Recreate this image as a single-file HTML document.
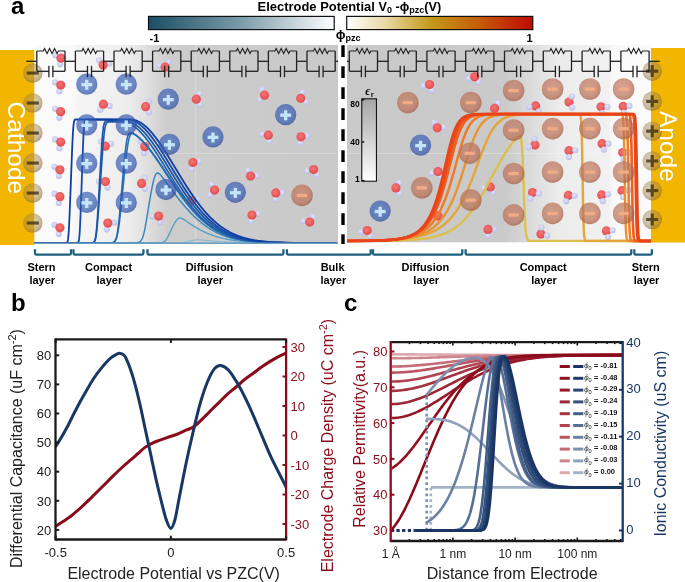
<!DOCTYPE html>
<html><head><meta charset="utf-8"><title>EDL figure</title>
<style>
html,body{margin:0;padding:0;background:#fff;}
svg{display:block;}
.r{font-family:"Liberation Sans",Arial,sans-serif;font-weight:normal;}
.b{font-family:"Liberation Sans",Arial,sans-serif;font-weight:bold;}
.bi{font-family:"Liberation Sans",Arial,sans-serif;font-weight:bold;font-style:italic;}
</style></head>
<body>
<svg width="685" height="582" viewBox="0 0 685 582">

<defs>
<linearGradient id="cbL" x1="0" x2="1" y1="0" y2="0">
  <stop offset="0" stop-color="#1b4e66"/>
  <stop offset="0.5" stop-color="#7b9caa"/>
  <stop offset="1" stop-color="#ffffff"/>
</linearGradient>
<linearGradient id="cbR" x1="0" x2="1" y1="0" y2="0">
  <stop offset="0" stop-color="#ffffff"/>
  <stop offset="0.2" stop-color="#ecd9a8"/>
  <stop offset="0.45" stop-color="#c39b1c"/>
  <stop offset="0.7" stop-color="#c45f08"/>
  <stop offset="1" stop-color="#c00a00"/>
</linearGradient>
<linearGradient id="epsg" x1="0" x2="0" y1="0" y2="1">
  <stop offset="0" stop-color="#a6a6a6"/>
  <stop offset="1" stop-color="#ffffff"/>
</linearGradient>
<linearGradient id="bgL" gradientUnits="userSpaceOnUse" x1="34" x2="338" y1="0" y2="0">
  <stop offset="0" stop-color="#fbfbfb"/>
  <stop offset="0.13" stop-color="#fafafa"/>
  <stop offset="0.145" stop-color="#f4f4f4"/>
  <stop offset="0.30" stop-color="#eeeeee"/>
  <stop offset="0.36" stop-color="#e2e2e2"/>
  <stop offset="0.44" stop-color="#cdcdcd"/>
  <stop offset="1" stop-color="#c9c9c9"/>
</linearGradient>
<linearGradient id="bgR" gradientUnits="userSpaceOnUse" x1="347" x2="651" y1="0" y2="0">
  <stop offset="0" stop-color="#c9c9c9"/>
  <stop offset="0.52" stop-color="#cacaca"/>
  <stop offset="0.62" stop-color="#dedede"/>
  <stop offset="0.70" stop-color="#ececec"/>
  <stop offset="0.862" stop-color="#f1f1f1"/>
  <stop offset="0.875" stop-color="#f9f9f9"/>
  <stop offset="1" stop-color="#fbfbfb"/>
</linearGradient>
<radialGradient id="gBlue" cx="0.45" cy="0.42" r="0.58">
  <stop offset="0" stop-color="#3b63bd" stop-opacity="0.66"/>
  <stop offset="0.7" stop-color="#3459b2" stop-opacity="0.68"/>
  <stop offset="1" stop-color="#2a4a9a" stop-opacity="0.72"/>
</radialGradient>
<radialGradient id="gOr" cx="0.45" cy="0.42" r="0.58">
  <stop offset="0" stop-color="#c47a5e" stop-opacity="0.68"/>
  <stop offset="0.7" stop-color="#bb7055" stop-opacity="0.7"/>
  <stop offset="1" stop-color="#a35f45" stop-opacity="0.75"/>
</radialGradient>
<radialGradient id="gEl" cx="0.45" cy="0.42" r="0.58">
  <stop offset="0" stop-color="#b09060" stop-opacity="0.42"/>
  <stop offset="0.65" stop-color="#a4824a" stop-opacity="0.5"/>
  <stop offset="1" stop-color="#8a6a34" stop-opacity="0.62"/>
</radialGradient>
<radialGradient id="gO" cx="0.45" cy="0.4" r="0.6">
  <stop offset="0" stop-color="#f77676"/>
  <stop offset="1" stop-color="#e24c4c"/>
</radialGradient>
<radialGradient id="gH" cx="0.45" cy="0.4" r="0.6">
  <stop offset="0" stop-color="#e4e6fb"/>
  <stop offset="1" stop-color="#b9bde6"/>
</radialGradient>
</defs>

<rect x="0" y="0" width="685" height="582" fill="#ffffff"/>
<rect x="34" y="45" width="304.5" height="198.3" fill="url(#bgL)"/>
<rect x="347" y="45" width="304" height="197.3" fill="url(#bgR)"/>
<line x1="34" x2="337" y1="153.4" y2="153.4" stroke="#ffffff" stroke-opacity="0.35" stroke-width="0.8"/>
<line x1="347" x2="651" y1="153.4" y2="153.4" stroke="#ffffff" stroke-opacity="0.35" stroke-width="0.8"/>
<line x1="195.7" x2="195.7" y1="45" y2="242.5" stroke="#ffffff" stroke-opacity="0.35" stroke-width="0.8"/>
<rect x="0" y="50" width="34.3" height="195" fill="#f2b600"/>
<rect x="651" y="48" width="34" height="194.5" fill="#f2b600"/>
<circle cx="54.99" cy="82.34" r="3.1" fill="url(#gH)"/><circle cx="59.39" cy="91.16" r="3.1" fill="url(#gH)"/><circle cx="60.7" cy="85" r="4.6" fill="url(#gO)"/>
<circle cx="55.09" cy="108.84" r="3.1" fill="url(#gH)"/><circle cx="59.39" cy="117.86" r="3.1" fill="url(#gH)"/><circle cx="60.7" cy="111.7" r="4.6" fill="url(#gO)"/>
<circle cx="54.99" cy="139.44" r="3.1" fill="url(#gH)"/><circle cx="59.39" cy="148.26" r="3.1" fill="url(#gH)"/><circle cx="60.7" cy="142.1" r="4.6" fill="url(#gO)"/>
<circle cx="54.39" cy="166.75" r="3.1" fill="url(#gH)"/><circle cx="58.81" cy="176" r="3.1" fill="url(#gH)"/><circle cx="59.9" cy="169.8" r="4.6" fill="url(#gO)"/>
<circle cx="54.39" cy="193.65" r="3.1" fill="url(#gH)"/><circle cx="58.81" cy="202.9" r="3.1" fill="url(#gH)"/><circle cx="59.9" cy="196.7" r="4.6" fill="url(#gO)"/>
<circle cx="54.39" cy="224.75" r="3.1" fill="url(#gH)"/><circle cx="58.81" cy="234" r="3.1" fill="url(#gH)"/><circle cx="59.9" cy="227.8" r="4.6" fill="url(#gO)"/>
<circle cx="109.46" cy="105.94" r="3.1" fill="url(#gH)"/><circle cx="100.35" cy="109.71" r="3.1" fill="url(#gH)"/><circle cx="103.4" cy="104.2" r="4.6" fill="url(#gO)"/>
<circle cx="111.14" cy="143.84" r="3.1" fill="url(#gH)"/><circle cx="101" cy="141.59" r="3.1" fill="url(#gH)"/><circle cx="105.3" cy="146.2" r="4.6" fill="url(#gO)"/>
<circle cx="99.1" cy="181.5" r="3.1" fill="url(#gH)"/><circle cx="107.55" cy="187.42" r="3.1" fill="url(#gH)"/><circle cx="105.4" cy="181.5" r="4.6" fill="url(#gO)"/>
<circle cx="114.08" cy="222.66" r="3.1" fill="url(#gH)"/><circle cx="106.71" cy="229.3" r="3.1" fill="url(#gH)"/><circle cx="107.8" cy="223.1" r="4.6" fill="url(#gO)"/>
<circle cx="149.03" cy="101.42" r="3.1" fill="url(#gH)"/><circle cx="148.75" cy="112.16" r="3.1" fill="url(#gH)"/><circle cx="145.6" cy="106.7" r="4.6" fill="url(#gO)"/>
<circle cx="140.75" cy="141.87" r="3.1" fill="url(#gH)"/><circle cx="144.14" cy="152.97" r="3.1" fill="url(#gH)"/><circle cx="144.8" cy="146.7" r="4.6" fill="url(#gO)"/>
<circle cx="144.75" cy="177.94" r="3.1" fill="url(#gH)"/><circle cx="144.84" cy="188.8" r="3.1" fill="url(#gH)"/><circle cx="141.6" cy="183.4" r="4.6" fill="url(#gO)"/>
<circle cx="152.4" cy="216.1" r="3.1" fill="url(#gH)"/><circle cx="160.22" cy="222.21" r="3.1" fill="url(#gH)"/><circle cx="158.7" cy="216.1" r="4.6" fill="url(#gO)"/>
<circle cx="199.45" cy="93.74" r="3.1" fill="url(#gH)"/><circle cx="199.91" cy="104.36" r="3.1" fill="url(#gH)"/><circle cx="196.3" cy="99.2" r="4.6" fill="url(#gO)"/>
<circle cx="199.1" cy="161.41" r="3.1" fill="url(#gH)"/><circle cx="191.81" cy="168.7" r="3.1" fill="url(#gH)"/><circle cx="192.9" cy="162.5" r="4.6" fill="url(#gO)"/>
<circle cx="197.86" cy="199.29" r="3.1" fill="url(#gH)"/><circle cx="189.55" cy="206.52" r="3.1" fill="url(#gH)"/><circle cx="191.7" cy="200.6" r="4.6" fill="url(#gO)"/>
<circle cx="211.64" cy="184.54" r="3.1" fill="url(#gH)"/><circle cx="210.15" cy="194.55" r="3.1" fill="url(#gH)"/><circle cx="214.6" cy="190.1" r="4.6" fill="url(#gO)"/>
<circle cx="262.12" cy="134" r="3.1" fill="url(#gH)"/><circle cx="269.5" cy="141.38" r="3.1" fill="url(#gH)"/><circle cx="268.3" cy="135.2" r="4.6" fill="url(#gO)"/>
<circle cx="307.24" cy="135.92" r="3.1" fill="url(#gH)"/><circle cx="300.23" cy="143.05" r="3.1" fill="url(#gH)"/><circle cx="301" cy="136.8" r="4.6" fill="url(#gO)"/>
<circle cx="248.14" cy="170.3" r="3.1" fill="url(#gH)"/><circle cx="256.88" cy="175.55" r="3.1" fill="url(#gH)"/><circle cx="250.6" cy="176.1" r="4.6" fill="url(#gO)"/>
<circle cx="307.46" cy="170.92" r="3.1" fill="url(#gH)"/><circle cx="316.94" cy="174.84" r="3.1" fill="url(#gH)"/><circle cx="313.6" cy="169.5" r="4.6" fill="url(#gO)"/>
<circle cx="282.1" cy="192.9" r="3.1" fill="url(#gH)"/><circle cx="275.8" cy="199.2" r="3.1" fill="url(#gH)"/><circle cx="275.8" cy="192.9" r="4.6" fill="url(#gO)"/>
<circle cx="258.2" cy="213.91" r="3.1" fill="url(#gH)"/><circle cx="251.34" cy="221.27" r="3.1" fill="url(#gH)"/><circle cx="252" cy="215" r="4.6" fill="url(#gO)"/>
<circle cx="303.52" cy="220.9" r="3.1" fill="url(#gH)"/><circle cx="313.22" cy="216.88" r="3.1" fill="url(#gH)"/><circle cx="309.7" cy="222.1" r="4.6" fill="url(#gO)"/>
<circle cx="261.74" cy="89.54" r="3.1" fill="url(#gH)"/><circle cx="260.05" cy="99.65" r="3.1" fill="url(#gH)"/><circle cx="264.5" cy="95.2" r="4.6" fill="url(#gO)"/>
<circle cx="302.22" cy="92.19" r="3.1" fill="url(#gH)"/><circle cx="305.92" cy="101.82" r="3.1" fill="url(#gH)"/><circle cx="300.7" cy="98.3" r="4.6" fill="url(#gO)"/>
<circle cx="423.42" cy="85.7" r="3.1" fill="url(#gH)"/><circle cx="431.86" cy="90.38" r="3.1" fill="url(#gH)"/><circle cx="429.6" cy="84.5" r="4.6" fill="url(#gO)"/>
<circle cx="468.68" cy="78.64" r="3.1" fill="url(#gH)"/><circle cx="478.4" cy="81.9" r="3.1" fill="url(#gH)"/><circle cx="474.7" cy="76.8" r="4.6" fill="url(#gO)"/>
<circle cx="498.03" cy="103.12" r="3.1" fill="url(#gH)"/><circle cx="498.12" cy="113.62" r="3.1" fill="url(#gH)"/><circle cx="494.6" cy="108.4" r="4.6" fill="url(#gO)"/>
<circle cx="434.06" cy="122.4" r="3.1" fill="url(#gH)"/><circle cx="443.58" cy="127.25" r="3.1" fill="url(#gH)"/><circle cx="437.3" cy="127.8" r="4.6" fill="url(#gO)"/>
<circle cx="431.86" cy="172.92" r="3.1" fill="url(#gH)"/><circle cx="440.96" cy="177.06" r="3.1" fill="url(#gH)"/><circle cx="438" cy="171.5" r="4.6" fill="url(#gO)"/>
<circle cx="399.24" cy="182.56" r="3.1" fill="url(#gH)"/><circle cx="399.24" cy="193.24" r="3.1" fill="url(#gH)"/><circle cx="395.9" cy="187.9" r="4.6" fill="url(#gO)"/>
<circle cx="431.73" cy="216.56" r="3.1" fill="url(#gH)"/><circle cx="439.74" cy="209.84" r="3.1" fill="url(#gH)"/><circle cx="438" cy="215.9" r="4.6" fill="url(#gO)"/>
<circle cx="361.04" cy="231.91" r="3.1" fill="url(#gH)"/><circle cx="370.25" cy="236.11" r="3.1" fill="url(#gH)"/><circle cx="367.2" cy="230.6" r="4.6" fill="url(#gO)"/>
<circle cx="484.08" cy="187.89" r="3.1" fill="url(#gH)"/><circle cx="493.35" cy="192.41" r="3.1" fill="url(#gH)"/><circle cx="490.3" cy="186.9" r="4.6" fill="url(#gO)"/>
<circle cx="494.3" cy="229.4" r="3.1" fill="url(#gH)"/><circle cx="488" cy="235.7" r="3.1" fill="url(#gH)"/><circle cx="488" cy="229.4" r="4.6" fill="url(#gO)"/>
<circle cx="535.6" cy="105.9" r="4.6" fill="url(#gO)"/><circle cx="529.38" cy="106.89" r="3.1" fill="url(#gH)"/><circle cx="538.94" cy="111.24" r="3.1" fill="url(#gH)"/>
<circle cx="569" cy="102.1" r="4.6" fill="url(#gO)"/><circle cx="571.86" cy="96.49" r="3.1" fill="url(#gH)"/><circle cx="572.15" cy="107.56" r="3.1" fill="url(#gH)"/>
<circle cx="601" cy="106.8" r="4.6" fill="url(#gO)"/><circle cx="607.3" cy="106.8" r="3.1" fill="url(#gH)"/><circle cx="602.09" cy="113" r="3.1" fill="url(#gH)"/>
<circle cx="623.2" cy="106.4" r="4.6" fill="url(#gO)"/><circle cx="629.48" cy="105.96" r="3.1" fill="url(#gH)"/><circle cx="623.86" cy="112.67" r="3.1" fill="url(#gH)"/>
<circle cx="534.9" cy="144.9" r="4.6" fill="url(#gO)"/><circle cx="534.35" cy="138.62" r="3.1" fill="url(#gH)"/><circle cx="528.98" cy="147.05" r="3.1" fill="url(#gH)"/>
<circle cx="569" cy="150.7" r="4.6" fill="url(#gO)"/><circle cx="575.28" cy="150.26" r="3.1" fill="url(#gH)"/><circle cx="569" cy="157" r="3.1" fill="url(#gH)"/>
<circle cx="602.1" cy="143.7" r="4.6" fill="url(#gO)"/><circle cx="608.4" cy="143.7" r="3.1" fill="url(#gH)"/><circle cx="603.94" cy="149.72" r="3.1" fill="url(#gH)"/>
<circle cx="622.7" cy="152.6" r="4.6" fill="url(#gO)"/><circle cx="629" cy="152.6" r="3.1" fill="url(#gH)"/><circle cx="623.47" cy="158.85" r="3.1" fill="url(#gH)"/>
<circle cx="532.5" cy="192.6" r="4.6" fill="url(#gO)"/><circle cx="538.74" cy="193.48" r="3.1" fill="url(#gH)"/><circle cx="530.14" cy="198.44" r="3.1" fill="url(#gH)"/>
<circle cx="568.3" cy="195.4" r="4.6" fill="url(#gO)"/><circle cx="574.59" cy="195.73" r="3.1" fill="url(#gH)"/><circle cx="566.15" cy="201.32" r="3.1" fill="url(#gH)"/>
<circle cx="601.7" cy="194.9" r="4.6" fill="url(#gO)"/><circle cx="607.97" cy="194.24" r="3.1" fill="url(#gH)"/><circle cx="602.79" cy="201.1" r="3.1" fill="url(#gH)"/>
<circle cx="622" cy="190.7" r="4.6" fill="url(#gO)"/><circle cx="628.28" cy="190.15" r="3.1" fill="url(#gH)"/><circle cx="623.09" cy="196.9" r="3.1" fill="url(#gH)"/>
<circle cx="540.9" cy="233.9" r="4.6" fill="url(#gO)"/><circle cx="541.45" cy="227.62" r="3.1" fill="url(#gH)"/><circle cx="546.99" cy="235.53" r="3.1" fill="url(#gH)"/>
<circle cx="606.4" cy="230.9" r="4.6" fill="url(#gO)"/><circle cx="612.68" cy="230.35" r="3.1" fill="url(#gH)"/><circle cx="608.03" cy="236.99" r="3.1" fill="url(#gH)"/>
<circle cx="55.39" cy="55.24" r="3.1" fill="url(#gH)"/><circle cx="60.12" cy="64.34" r="3.1" fill="url(#gH)"/><circle cx="61" cy="58.1" r="4.6" fill="url(#gO)"/>
<circle cx="99.05" cy="60.27" r="3.1" fill="url(#gH)"/><circle cx="109.21" cy="63.58" r="3.1" fill="url(#gH)"/><circle cx="103.1" cy="65.1" r="4.6" fill="url(#gO)"/>
<circle cx="159.11" cy="65.57" r="3.1" fill="url(#gH)"/><circle cx="168.63" cy="61.92" r="3.1" fill="url(#gH)"/><circle cx="165.2" cy="67.2" r="4.6" fill="url(#gO)"/>
<path d="M34,243 L180.5,242.84 L182.5,242.69 L184,242.5 L185,242.33 L186,242.13 L187,241.89 L188,241.63 L189,241.36 L190,241.08 L191,240.81 L192,240.56 L193,240.33 L194,240.14 L195,239.99 L197,239.82 L201.5,239.97 L203.5,240.17 L205,240.33 L206.5,240.49 L208,240.64 L209.5,240.79 L211.5,240.99 L213.5,241.17 L215.5,241.34 L217.5,241.49 L220,241.67 L222.5,241.83 L225.5,242 L229,242.17 L233,242.34 L237.5,242.49 L243.5,242.65 L252.5,242.8 L272.5,242.95 L337,243" fill="none" stroke="#8fbcd4" stroke-width="1.3" stroke-linejoin="round"/>
<path d="M34,243 L160,242.83 L161.5,242.63 L162.5,242.38 L163,242.2 L163.5,241.97 L164,241.69 L164.5,241.35 L165,240.93 L165.5,240.43 L166,239.84 L166.5,239.16 L167,238.4 L167.5,237.55 L168,236.63 L168.5,235.64 L169,234.61 L169.5,233.55 L170,232.46 L170.5,231.37 L171,230.27 L171.5,229.18 L172,228.12 L172.5,227.07 L173,226.05 L173.5,225.07 L174,224.13 L174.5,223.24 L175,222.39 L175.5,221.6 L176,220.87 L176.5,220.22 L177,219.64 L177.5,219.14 L178,218.73 L178.5,218.41 L179,218.19 L180,218 L181,218.12 L181.5,218.28 L182,218.48 L182.5,218.72 L183,218.99 L183.5,219.29 L184,219.6 L184.5,219.93 L185,220.27 L185.5,220.61 L186,220.96 L186.5,221.31 L187,221.66 L187.5,222.01 L188,222.35 L188.5,222.7 L189,223.04 L189.5,223.39 L190,223.72 L190.5,224.06 L191,224.39 L191.5,224.72 L192,225.05 L192.5,225.37 L193,225.69 L193.5,226 L194,226.31 L194.5,226.62 L195,226.92 L195.5,227.23 L196,227.52 L196.5,227.81 L197,228.1 L197.5,228.39 L198,228.67 L198.5,228.95 L199,229.22 L199.5,229.49 L200,229.76 L200.5,230.02 L201,230.28 L201.5,230.54 L202,230.79 L202.5,231.04 L203,231.28 L203.5,231.53 L204,231.76 L204.5,232 L205,232.23 L205.5,232.46 L206,232.68 L206.5,232.9 L207,233.12 L207.5,233.33 L208,233.54 L208.5,233.74 L209,233.95 L209.5,234.15 L210,234.34 L210.5,234.54 L211,234.73 L211.5,234.91 L212,235.09 L212.5,235.27 L213,235.45 L213.5,235.62 L214,235.79 L214.5,235.96 L215,236.13 L215.5,236.29 L216,236.45 L216.5,236.6 L217,236.75 L218,237.05 L219,237.33 L220,237.61 L221,237.87 L222,238.12 L223,238.37 L224,238.6 L225,238.82 L226,239.04 L227,239.24 L228,239.44 L229,239.62 L230,239.8 L231,239.97 L232,240.14 L233,240.29 L234.5,240.51 L236,240.72 L237.5,240.91 L239,241.08 L240.5,241.25 L242,241.4 L244,241.58 L246,241.75 L248.5,241.93 L251,242.09 L254,242.25 L257.5,242.41 L262,242.57 L268,242.72 L278.5,242.87 L337,243" fill="none" stroke="#57a0c8" stroke-width="1.4" stroke-linejoin="round"/>
<path d="M34,243 L136.5,242.84 L138,242.6 L138.5,242.46 L139,242.27 L139.5,242.02 L140,241.69 L140.5,241.25 L141,240.68 L141.5,239.94 L142,239.01 L142.5,237.85 L143,236.44 L143.5,234.76 L144,232.82 L144.5,230.62 L145,228.2 L145.5,225.58 L146,222.8 L146.5,219.9 L147,216.92 L147.5,213.89 L148,210.83 L148.5,207.77 L149,204.73 L149.5,201.72 L150,198.76 L150.5,195.87 L151,193.06 L151.5,190.35 L152,187.75 L152.5,185.29 L153,183 L153.5,180.89 L154,179.01 L154.5,177.36 L155,175.98 L155.5,174.87 L156,174.04 L156.5,173.46 L157,173.13 L158,173.05 L158.5,173.25 L159,173.57 L159.5,173.97 L160,174.45 L160.5,174.98 L161,175.55 L161.5,176.15 L162,176.78 L162.5,177.42 L163,178.07 L163.5,178.73 L164,179.4 L164.5,180.07 L165,180.75 L165.5,181.42 L166,182.1 L166.5,182.78 L167,183.47 L167.5,184.15 L168,184.83 L168.5,185.51 L169,186.19 L169.5,186.87 L170,187.54 L170.5,188.22 L171,188.89 L171.5,189.57 L172,190.24 L172.5,190.91 L173,191.57 L173.5,192.24 L174,192.9 L174.5,193.56 L175,194.21 L175.5,194.87 L176,195.52 L176.5,196.17 L177,196.81 L177.5,197.45 L178,198.09 L178.5,198.72 L179,199.35 L179.5,199.98 L180,200.6 L180.5,201.22 L181,201.84 L181.5,202.45 L182,203.06 L182.5,203.66 L183,204.26 L183.5,204.85 L184,205.44 L184.5,206.02 L185,206.6 L185.5,207.18 L186,207.75 L186.5,208.31 L187,208.88 L187.5,209.43 L188,209.98 L188.5,210.53 L189,211.07 L189.5,211.6 L190,212.13 L190.5,212.66 L191,213.18 L191.5,213.69 L192,214.2 L192.5,214.7 L193,215.2 L193.5,215.7 L194,216.18 L194.5,216.66 L195,217.14 L195.5,217.61 L196,218.08 L196.5,218.54 L197,218.99 L197.5,219.44 L198,219.88 L198.5,220.32 L199,220.75 L199.5,221.18 L200,221.6 L200.5,222.01 L201,222.42 L201.5,222.83 L202,223.23 L202.5,223.62 L203,224.01 L203.5,224.39 L204,224.77 L204.5,225.14 L205,225.5 L205.5,225.86 L206,226.22 L206.5,226.57 L207,226.91 L207.5,227.25 L208,227.59 L208.5,227.91 L209,228.24 L209.5,228.56 L210,228.87 L210.5,229.18 L211,229.48 L211.5,229.78 L212,230.07 L212.5,230.36 L213,230.64 L213.5,230.92 L214,231.19 L214.5,231.46 L215,231.72 L215.5,231.98 L216,232.24 L216.5,232.49 L217,232.73 L217.5,232.97 L218,233.21 L218.5,233.44 L219,233.67 L219.5,233.89 L220,234.11 L220.5,234.33 L221,234.54 L221.5,234.75 L222,234.95 L222.5,235.15 L223,235.34 L223.5,235.53 L224,235.72 L224.5,235.9 L225,236.08 L225.5,236.26 L226,236.43 L226.5,236.6 L227,236.76 L227.5,236.92 L228,237.08 L228.5,237.23 L229,237.39 L230,237.68 L231,237.96 L232,238.22 L233,238.48 L234,238.72 L235,238.96 L236,239.18 L237,239.39 L238,239.59 L239,239.78 L240,239.96 L241,240.14 L242,240.3 L243,240.46 L244.5,240.68 L246,240.88 L247.5,241.07 L249,241.24 L250.5,241.4 L252.5,241.6 L254.5,241.77 L256.5,241.92 L259,242.09 L262,242.26 L265.5,242.42 L270,242.58 L276,242.73 L286.5,242.88 L337,243" fill="none" stroke="#3a88ba" stroke-width="1.5" stroke-linejoin="round"/>
<path d="M34,243 L111.5,242.84 L112.5,242.67 L113,242.52 L113.5,242.32 L114,242.04 L114.5,241.65 L115,241.11 L115.5,240.36 L116,239.36 L116.5,238.04 L117,236.33 L117.5,234.18 L118,231.57 L118.5,228.49 L119,224.97 L119.5,221.05 L120,216.8 L120.5,212.29 L121,207.58 L121.5,202.72 L122,197.76 L122.5,192.74 L123,187.69 L123.5,182.64 L124,177.62 L124.5,172.67 L125,167.81 L125.5,163.09 L126,158.56 L126.5,154.28 L127,150.31 L127.5,146.71 L128,143.55 L128.5,140.87 L129,138.67 L129.5,136.94 L130,135.64 L130.5,134.71 L131,134.09 L131.5,133.72 L132,133.54 L133,133.57 L133.5,133.73 L134,133.95 L134.5,134.21 L135,134.52 L135.5,134.85 L136,135.21 L136.5,135.59 L137,135.98 L137.5,136.4 L138,136.82 L138.5,137.26 L139,137.72 L139.5,138.18 L140,138.66 L140.5,139.14 L141,139.64 L141.5,140.15 L142,140.67 L142.5,141.2 L143,141.74 L143.5,142.29 L144,142.84 L144.5,143.41 L145,143.99 L145.5,144.57 L146,145.16 L146.5,145.76 L147,146.37 L147.5,146.99 L148,147.62 L148.5,148.25 L149,148.89 L149.5,149.53 L150,150.19 L150.5,150.85 L151,151.51 L151.5,152.19 L152,152.87 L152.5,153.55 L153,154.24 L153.5,154.94 L154,155.64 L154.5,156.35 L155,157.06 L155.5,157.77 L156,158.49 L156.5,159.22 L157,159.95 L157.5,160.68 L158,161.41 L158.5,162.15 L159,162.89 L159.5,163.64 L160,164.38 L160.5,165.13 L161,165.89 L161.5,166.64 L162,167.4 L162.5,168.15 L163,168.91 L163.5,169.67 L164,170.43 L164.5,171.2 L165,171.96 L165.5,172.72 L166,173.49 L166.5,174.25 L167,175.01 L167.5,175.78 L168,176.54 L168.5,177.3 L169,178.06 L169.5,178.82 L170,179.58 L170.5,180.34 L171,181.1 L171.5,181.85 L172,182.61 L172.5,183.36 L173,184.11 L173.5,184.85 L174,185.6 L174.5,186.34 L175,187.08 L175.5,187.81 L176,188.54 L176.5,189.27 L177,190 L177.5,190.72 L178,191.44 L178.5,192.16 L179,192.87 L179.5,193.58 L180,194.28 L180.5,194.98 L181,195.68 L181.5,196.37 L182,197.05 L182.5,197.74 L183,198.41 L183.5,199.09 L184,199.75 L184.5,200.42 L185,201.07 L185.5,201.73 L186,202.37 L186.5,203.02 L187,203.65 L187.5,204.28 L188,204.91 L188.5,205.53 L189,206.14 L189.5,206.75 L190,207.36 L190.5,207.95 L191,208.55 L191.5,209.13 L192,209.71 L192.5,210.29 L193,210.85 L193.5,211.42 L194,211.97 L194.5,212.52 L195,213.07 L195.5,213.6 L196,214.14 L196.5,214.66 L197,215.18 L197.5,215.69 L198,216.2 L198.5,216.7 L199,217.2 L199.5,217.68 L200,218.17 L200.5,218.64 L201,219.11 L201.5,219.57 L202,220.03 L202.5,220.48 L203,220.93 L203.5,221.37 L204,221.8 L204.5,222.23 L205,222.65 L205.5,223.06 L206,223.47 L206.5,223.87 L207,224.27 L207.5,224.66 L208,225.04 L208.5,225.42 L209,225.79 L209.5,226.16 L210,226.52 L210.5,226.88 L211,227.23 L211.5,227.57 L212,227.91 L212.5,228.24 L213,228.57 L213.5,228.89 L214,229.2 L214.5,229.52 L215,229.82 L215.5,230.12 L216,230.41 L216.5,230.7 L217,230.99 L217.5,231.27 L218,231.54 L218.5,231.81 L219,232.07 L219.5,232.33 L220,232.59 L220.5,232.84 L221,233.08 L221.5,233.32 L222,233.56 L222.5,233.79 L223,234.01 L223.5,234.23 L224,234.45 L224.5,234.66 L225,234.87 L225.5,235.08 L226,235.28 L226.5,235.47 L227,235.66 L227.5,235.85 L228,236.04 L228.5,236.22 L229,236.39 L229.5,236.56 L230,236.73 L230.5,236.9 L231,237.06 L231.5,237.22 L232,237.37 L232.5,237.52 L233.5,237.81 L234.5,238.09 L235.5,238.36 L236.5,238.61 L237.5,238.85 L238.5,239.08 L239.5,239.3 L240.5,239.51 L241.5,239.71 L242.5,239.9 L243.5,240.08 L244.5,240.25 L245.5,240.41 L246.5,240.56 L248,240.78 L249.5,240.98 L251,241.16 L252.5,241.33 L254,241.48 L256,241.67 L258,241.83 L260.5,242.02 L263,242.17 L266,242.33 L270,242.5 L275,242.65 L282.5,242.8 L300.5,242.96 L337,243" fill="none" stroke="#2a74b3" stroke-width="1.6" stroke-linejoin="round"/>
<path d="M34,243 L111.5,242.85 L112.5,242.68 L113,242.53 L113.5,242.31 L114,242 L114.5,241.55 L115,240.91 L115.5,240.01 L116,238.78 L116.5,237.12 L117,234.95 L117.5,232.2 L118,228.85 L118.5,224.92 L119,220.45 L119.5,215.52 L120,210.24 L120.5,204.68 L121,198.94 L121.5,193.08 L122,187.16 L122.5,181.25 L123,175.39 L123.5,169.64 L124,164.09 L124.5,158.8 L125,153.87 L125.5,149.38 L126,145.44 L126.5,142.08 L127,139.35 L127.5,137.21 L128,135.61 L128.5,134.46 L129,133.69 L129.5,133.2 L130,132.92 L132,133.03 L132.5,133.23 L133,133.46 L133.5,133.72 L134,134 L134.5,134.31 L135,134.63 L135.5,134.97 L136,135.33 L136.5,135.7 L137,136.08 L137.5,136.47 L138,136.88 L138.5,137.29 L139,137.72 L139.5,138.17 L140,138.62 L140.5,139.08 L141,139.55 L141.5,140.04 L142,140.53 L142.5,141.04 L143,141.55 L143.5,142.08 L144,142.61 L144.5,143.15 L145,143.71 L145.5,144.27 L146,144.84 L146.5,145.42 L147,146.01 L147.5,146.6 L148,147.21 L148.5,147.82 L149,148.44 L149.5,149.07 L150,149.7 L150.5,150.34 L151,150.99 L151.5,151.64 L152,152.3 L152.5,152.97 L153,153.65 L153.5,154.32 L154,155.01 L154.5,155.7 L155,156.39 L155.5,157.09 L156,157.8 L156.5,158.51 L157,159.22 L157.5,159.94 L158,160.66 L158.5,161.39 L159,162.12 L159.5,162.85 L160,163.58 L160.5,164.32 L161,165.06 L161.5,165.81 L162,166.55 L162.5,167.3 L163,168.05 L163.5,168.8 L164,169.55 L164.5,170.31 L165,171.06 L165.5,171.82 L166,172.57 L166.5,173.33 L167,174.09 L167.5,174.84 L168,175.6 L168.5,176.36 L169,177.11 L169.5,177.87 L170,178.62 L170.5,179.38 L171,180.13 L171.5,180.88 L172,181.63 L172.5,182.38 L173,183.13 L173.5,183.87 L174,184.61 L174.5,185.35 L175,186.09 L175.5,186.83 L176,187.56 L176.5,188.29 L177,189.01 L177.5,189.74 L178,190.46 L178.5,191.17 L179,191.89 L179.5,192.6 L180,193.3 L180.5,194 L181,194.7 L181.5,195.4 L182,196.09 L182.5,196.77 L183,197.45 L183.5,198.13 L184,198.8 L184.5,199.47 L185,200.13 L185.5,200.78 L186,201.44 L186.5,202.08 L187,202.72 L187.5,203.36 L188,203.99 L188.5,204.62 L189,205.24 L189.5,205.85 L190,206.46 L190.5,207.07 L191,207.66 L191.5,208.26 L192,208.84 L192.5,209.42 L193,210 L193.5,210.57 L194,211.13 L194.5,211.69 L195,212.24 L195.5,212.79 L196,213.32 L196.5,213.86 L197,214.38 L197.5,214.91 L198,215.42 L198.5,215.93 L199,216.43 L199.5,216.93 L200,217.42 L200.5,217.9 L201,218.38 L201.5,218.85 L202,219.32 L202.5,219.78 L203,220.23 L203.5,220.68 L204,221.12 L204.5,221.55 L205,221.98 L205.5,222.41 L206,222.82 L206.5,223.23 L207,223.64 L207.5,224.04 L208,224.43 L208.5,224.82 L209,225.2 L209.5,225.57 L210,225.94 L210.5,226.31 L211,226.66 L211.5,227.02 L212,227.36 L212.5,227.7 L213,228.04 L213.5,228.37 L214,228.69 L214.5,229.01 L215,229.32 L215.5,229.63 L216,229.93 L216.5,230.23 L217,230.52 L217.5,230.81 L218,231.09 L218.5,231.37 L219,231.64 L219.5,231.91 L220,232.17 L220.5,232.42 L221,232.68 L221.5,232.92 L222,233.17 L222.5,233.4 L223,233.64 L223.5,233.87 L224,234.09 L224.5,234.31 L225,234.52 L225.5,234.74 L226,234.94 L226.5,235.14 L227,235.34 L227.5,235.54 L228,235.73 L228.5,235.91 L229,236.1 L229.5,236.27 L230,236.45 L230.5,236.62 L231,236.79 L231.5,236.95 L232,237.11 L232.5,237.27 L233,237.42 L234,237.72 L235,238 L236,238.27 L237,238.53 L238,238.77 L239,239 L240,239.23 L241,239.44 L242,239.64 L243,239.83 L244,240.02 L245,240.19 L246,240.35 L247,240.51 L248.5,240.73 L250,240.93 L251.5,241.12 L253,241.29 L254.5,241.45 L256.5,241.64 L258.5,241.8 L260.5,241.95 L263,242.12 L266,242.28 L269.5,242.44 L274,242.6 L280.5,242.75 L292.5,242.91 L337,243" fill="none" stroke="#256bb0" stroke-width="1.6" stroke-linejoin="round"/>
<path d="M34,243 L92.5,242.82 L93,242.7 L93.5,242.47 L94,242.1 L94.5,241.46 L95,240.42 L95.5,238.78 L96,236.33 L96.5,232.9 L97,228.45 L97.5,223.07 L98,216.97 L98.5,210.35 L99,203.4 L99.5,196.24 L100,188.98 L100.5,181.67 L101,174.36 L101.5,167.11 L102,159.99 L102.5,153.09 L103,146.56 L103.5,140.59 L104,135.38 L104.5,131.13 L105,127.9 L105.5,125.63 L106,124.13 L106.5,123.18 L107,122.61 L107.5,122.27 L108,122.07 L109,121.89 L123,122.06 L124.5,122.27 L125.5,122.47 L126.5,122.72 L127,122.87 L127.5,123.03 L128,123.2 L128.5,123.39 L129,123.6 L129.5,123.82 L130,124.05 L130.5,124.3 L131,124.56 L131.5,124.84 L132,125.13 L132.5,125.44 L133,125.76 L133.5,126.09 L134,126.44 L134.5,126.8 L135,127.17 L135.5,127.56 L136,127.96 L136.5,128.38 L137,128.8 L137.5,129.24 L138,129.69 L138.5,130.16 L139,130.63 L139.5,131.12 L140,131.62 L140.5,132.13 L141,132.65 L141.5,133.19 L142,133.73 L142.5,134.28 L143,134.85 L143.5,135.42 L144,136.01 L144.5,136.6 L145,137.21 L145.5,137.82 L146,138.45 L146.5,139.08 L147,139.72 L147.5,140.37 L148,141.03 L148.5,141.69 L149,142.37 L149.5,143.05 L150,143.74 L150.5,144.44 L151,145.14 L151.5,145.85 L152,146.57 L152.5,147.29 L153,148.02 L153.5,148.76 L154,149.5 L154.5,150.24 L155,151 L155.5,151.75 L156,152.52 L156.5,153.28 L157,154.05 L157.5,154.83 L158,155.61 L158.5,156.39 L159,157.18 L159.5,157.97 L160,158.76 L160.5,159.55 L161,160.35 L161.5,161.15 L162,161.95 L162.5,162.76 L163,163.56 L163.5,164.37 L164,165.18 L164.5,165.99 L165,166.8 L165.5,167.61 L166,168.42 L166.5,169.24 L167,170.05 L167.5,170.86 L168,171.67 L168.5,172.48 L169,173.29 L169.5,174.1 L170,174.91 L170.5,175.72 L171,176.52 L171.5,177.33 L172,178.13 L172.5,178.93 L173,179.73 L173.5,180.53 L174,181.32 L174.5,182.11 L175,182.9 L175.5,183.68 L176,184.46 L176.5,185.24 L177,186.02 L177.5,186.79 L178,187.56 L178.5,188.32 L179,189.08 L179.5,189.84 L180,190.59 L180.5,191.34 L181,192.08 L181.5,192.82 L182,193.55 L182.5,194.28 L183,195.01 L183.5,195.73 L184,196.44 L184.5,197.15 L185,197.85 L185.5,198.55 L186,199.24 L186.5,199.93 L187,200.61 L187.5,201.29 L188,201.96 L188.5,202.62 L189,203.28 L189.5,203.93 L190,204.58 L190.5,205.22 L191,205.86 L191.5,206.48 L192,207.11 L192.5,207.72 L193,208.33 L193.5,208.93 L194,209.53 L194.5,210.12 L195,210.7 L195.5,211.28 L196,211.85 L196.5,212.42 L197,212.97 L197.5,213.52 L198,214.07 L198.5,214.61 L199,215.14 L199.5,215.66 L200,216.18 L200.5,216.69 L201,217.2 L201.5,217.69 L202,218.19 L202.5,218.67 L203,219.15 L203.5,219.62 L204,220.09 L204.5,220.54 L205,221 L205.5,221.44 L206,221.88 L206.5,222.32 L207,222.74 L207.5,223.16 L208,223.58 L208.5,223.98 L209,224.38 L209.5,224.78 L210,225.17 L210.5,225.55 L211,225.93 L211.5,226.3 L212,226.66 L212.5,227.02 L213,227.37 L213.5,227.72 L214,228.06 L214.5,228.4 L215,228.72 L215.5,229.05 L216,229.37 L216.5,229.68 L217,229.98 L217.5,230.29 L218,230.58 L218.5,230.87 L219,231.16 L219.5,231.44 L220,231.71 L220.5,231.98 L221,232.24 L221.5,232.5 L222,232.76 L222.5,233.01 L223,233.25 L223.5,233.49 L224,233.72 L224.5,233.95 L225,234.18 L225.5,234.4 L226,234.62 L226.5,234.83 L227,235.04 L227.5,235.24 L228,235.44 L228.5,235.63 L229,235.82 L229.5,236.01 L230,236.19 L230.5,236.37 L231,236.55 L231.5,236.72 L232,236.88 L232.5,237.05 L233,237.21 L233.5,237.36 L234,237.51 L235,237.81 L236,238.09 L237,238.36 L238,238.61 L239,238.86 L240,239.09 L241,239.31 L242,239.52 L243,239.72 L244,239.91 L245,240.09 L246,240.26 L247,240.42 L248,240.58 L249.5,240.79 L251,240.99 L252.5,241.18 L254,241.34 L255.5,241.5 L257.5,241.68 L259.5,241.85 L262,242.03 L264.5,242.18 L267.5,242.34 L271.5,242.5 L276.5,242.66 L284,242.81 L302.5,242.96 L337,243" fill="none" stroke="#1f5fad" stroke-width="1.6" stroke-linejoin="round"/>
<path d="M34,243 L93,242.74 L93.5,242.52 L94,242.11 L94.5,241.38 L95,240.11 L95.5,237.99 L96,234.72 L96.5,230.09 L97,224.13 L97.5,217.07 L98,209.24 L98.5,200.93 L99,192.35 L99.5,183.65 L100,174.92 L100.5,166.28 L101,157.84 L101.5,149.79 L102,142.38 L102.5,135.94 L103,130.76 L103.5,126.96 L104,124.42 L104.5,122.85 L105,121.93 L105.5,121.42 L106,121.13 L106.5,120.98 L108,120.83 L125,121 L126.5,121.18 L127.5,121.35 L128.5,121.57 L129.5,121.85 L130,122.01 L130.5,122.18 L131,122.37 L131.5,122.57 L132,122.79 L132.5,123.02 L133,123.27 L133.5,123.53 L134,123.81 L134.5,124.1 L135,124.41 L135.5,124.73 L136,125.06 L136.5,125.41 L137,125.77 L137.5,126.14 L138,126.53 L138.5,126.93 L139,127.35 L139.5,127.78 L140,128.22 L140.5,128.67 L141,129.13 L141.5,129.61 L142,130.1 L142.5,130.6 L143,131.11 L143.5,131.64 L144,132.17 L144.5,132.72 L145,133.28 L145.5,133.84 L146,134.42 L146.5,135.01 L147,135.61 L147.5,136.21 L148,136.83 L148.5,137.46 L149,138.09 L149.5,138.74 L150,139.39 L150.5,140.05 L151,140.72 L151.5,141.4 L152,142.09 L152.5,142.78 L153,143.48 L153.5,144.19 L154,144.91 L154.5,145.63 L155,146.36 L155.5,147.09 L156,147.83 L156.5,148.58 L157,149.33 L157.5,150.09 L158,150.85 L158.5,151.62 L159,152.39 L159.5,153.16 L160,153.94 L160.5,154.73 L161,155.52 L161.5,156.31 L162,157.11 L162.5,157.9 L163,158.7 L163.5,159.51 L164,160.32 L164.5,161.12 L165,161.93 L165.5,162.75 L166,163.56 L166.5,164.38 L167,165.19 L167.5,166.01 L168,166.83 L168.5,167.65 L169,168.46 L169.5,169.28 L170,170.1 L170.5,170.92 L171,171.74 L171.5,172.56 L172,173.37 L172.5,174.19 L173,175 L173.5,175.81 L174,176.63 L174.5,177.44 L175,178.24 L175.5,179.05 L176,179.85 L176.5,180.65 L177,181.45 L177.5,182.24 L178,183.04 L178.5,183.82 L179,184.61 L179.5,185.39 L180,186.17 L180.5,186.95 L181,187.72 L181.5,188.49 L182,189.25 L182.5,190.01 L183,190.76 L183.5,191.51 L184,192.26 L184.5,193 L185,193.74 L185.5,194.47 L186,195.19 L186.5,195.91 L187,196.63 L187.5,197.34 L188,198.05 L188.5,198.74 L189,199.44 L189.5,200.13 L190,200.81 L190.5,201.49 L191,202.16 L191.5,202.82 L192,203.48 L192.5,204.14 L193,204.78 L193.5,205.42 L194,206.06 L194.5,206.69 L195,207.31 L195.5,207.92 L196,208.53 L196.5,209.13 L197,209.73 L197.5,210.32 L198,210.9 L198.5,211.48 L199,212.05 L199.5,212.61 L200,213.17 L200.5,213.72 L201,214.26 L201.5,214.8 L202,215.33 L202.5,215.85 L203,216.37 L203.5,216.88 L204,217.39 L204.5,217.88 L205,218.37 L205.5,218.86 L206,219.33 L206.5,219.8 L207,220.27 L207.5,220.73 L208,221.18 L208.5,221.62 L209,222.06 L209.5,222.49 L210,222.91 L210.5,223.33 L211,223.75 L211.5,224.15 L212,224.55 L212.5,224.94 L213,225.33 L213.5,225.71 L214,226.09 L214.5,226.45 L215,226.82 L215.5,227.17 L216,227.52 L216.5,227.87 L217,228.21 L217.5,228.54 L218,228.87 L218.5,229.19 L219,229.51 L219.5,229.82 L220,230.12 L220.5,230.42 L221,230.71 L221.5,231 L222,231.28 L222.5,231.56 L223,231.83 L223.5,232.1 L224,232.36 L224.5,232.62 L225,232.87 L225.5,233.12 L226,233.36 L226.5,233.6 L227,233.83 L227.5,234.06 L228,234.29 L228.5,234.5 L229,234.72 L229.5,234.93 L230,235.13 L230.5,235.34 L231,235.53 L231.5,235.73 L232,235.91 L232.5,236.1 L233,236.28 L233.5,236.46 L234,236.63 L234.5,236.8 L235,236.96 L235.5,237.13 L236,237.28 L236.5,237.44 L237,237.59 L238,237.88 L239,238.16 L240,238.43 L241,238.68 L242,238.92 L243,239.15 L244,239.37 L245,239.57 L246,239.77 L247,239.96 L248,240.14 L249,240.31 L250,240.47 L251,240.62 L252.5,240.83 L254,241.03 L255.5,241.21 L257,241.37 L258.5,241.52 L260.5,241.71 L262.5,241.87 L265,242.05 L267.5,242.2 L270.5,242.35 L274.5,242.52 L279.5,242.67 L287.5,242.82 L309,242.97 L337,243" fill="none" stroke="#1a55aa" stroke-width="1.7" stroke-linejoin="round"/>
<path d="M34,243 L77.5,242.82 L78,242.51 L78.5,241.69 L79,239.68 L79.5,235.27 L80,227.37 L80.5,216.13 L81,202.79 L81.5,188.48 L82,173.92 L82.5,159.61 L83,146.27 L83.5,135.03 L84,127.13 L84.5,122.72 L85,120.71 L85.5,119.89 L86,119.58 L87,119.43 L127.5,119.6 L129,119.77 L130,119.94 L131,120.16 L132,120.43 L132.5,120.59 L133,120.76 L133.5,120.95 L134,121.15 L134.5,121.37 L135,121.6 L135.5,121.85 L136,122.11 L136.5,122.39 L137,122.68 L137.5,122.98 L138,123.3 L138.5,123.64 L139,123.99 L139.5,124.35 L140,124.73 L140.5,125.12 L141,125.52 L141.5,125.94 L142,126.37 L142.5,126.81 L143,127.27 L143.5,127.74 L144,128.22 L144.5,128.71 L145,129.21 L145.5,129.73 L146,130.26 L146.5,130.79 L147,131.34 L147.5,131.91 L148,132.48 L148.5,133.06 L149,133.65 L149.5,134.26 L150,134.87 L150.5,135.49 L151,136.12 L151.5,136.76 L152,137.41 L152.5,138.07 L153,138.74 L153.5,139.42 L154,140.1 L154.5,140.79 L155,141.49 L155.5,142.2 L156,142.91 L156.5,143.64 L157,144.37 L157.5,145.1 L158,145.84 L158.5,146.59 L159,147.34 L159.5,148.1 L160,148.87 L160.5,149.64 L161,150.41 L161.5,151.19 L162,151.98 L162.5,152.77 L163,153.56 L163.5,154.36 L164,155.16 L164.5,155.96 L165,156.77 L165.5,157.58 L166,158.39 L166.5,159.2 L167,160.02 L167.5,160.84 L168,161.66 L168.5,162.49 L169,163.31 L169.5,164.14 L170,164.96 L170.5,165.79 L171,166.62 L171.5,167.45 L172,168.27 L172.5,169.1 L173,169.93 L173.5,170.76 L174,171.58 L174.5,172.41 L175,173.23 L175.5,174.06 L176,174.88 L176.5,175.7 L177,176.52 L177.5,177.34 L178,178.15 L178.5,178.96 L179,179.78 L179.5,180.58 L180,181.39 L180.5,182.19 L181,182.99 L181.5,183.78 L182,184.57 L182.5,185.36 L183,186.15 L183.5,186.93 L184,187.71 L184.5,188.48 L185,189.25 L185.5,190.01 L186,190.77 L186.5,191.53 L187,192.28 L187.5,193.02 L188,193.76 L188.5,194.5 L189,195.23 L189.5,195.95 L190,196.67 L190.5,197.39 L191,198.1 L191.5,198.8 L192,199.5 L192.5,200.19 L193,200.87 L193.5,201.55 L194,202.23 L194.5,202.9 L195,203.56 L195.5,204.21 L196,204.86 L196.5,205.51 L197,206.14 L197.5,206.77 L198,207.4 L198.5,208.01 L199,208.63 L199.5,209.23 L200,209.83 L200.5,210.42 L201,211 L201.5,211.58 L202,212.15 L202.5,212.72 L203,213.27 L203.5,213.83 L204,214.37 L204.5,214.91 L205,215.44 L205.5,215.96 L206,216.48 L206.5,216.99 L207,217.49 L207.5,217.99 L208,218.48 L208.5,218.97 L209,219.44 L209.5,219.91 L210,220.38 L210.5,220.84 L211,221.29 L211.5,221.73 L212,222.17 L212.5,222.6 L213,223.02 L213.5,223.44 L214,223.85 L214.5,224.26 L215,224.66 L215.5,225.05 L216,225.44 L216.5,225.82 L217,226.19 L217.5,226.56 L218,226.92 L218.5,227.28 L219,227.63 L219.5,227.97 L220,228.31 L220.5,228.64 L221,228.97 L221.5,229.29 L222,229.6 L222.5,229.91 L223,230.22 L223.5,230.51 L224,230.81 L224.5,231.09 L225,231.38 L225.5,231.65 L226,231.92 L226.5,232.19 L227,232.45 L227.5,232.71 L228,232.96 L228.5,233.2 L229,233.45 L229.5,233.68 L230,233.91 L230.5,234.14 L231,234.36 L231.5,234.58 L232,234.79 L232.5,235 L233,235.21 L233.5,235.41 L234,235.6 L234.5,235.8 L235,235.98 L235.5,236.17 L236,236.35 L236.5,236.52 L237,236.69 L237.5,236.86 L238,237.03 L238.5,237.19 L239,237.34 L239.5,237.5 L240.5,237.79 L241.5,238.08 L242.5,238.35 L243.5,238.6 L244.5,238.85 L245.5,239.08 L246.5,239.3 L247.5,239.51 L248.5,239.72 L249.5,239.91 L250.5,240.09 L251.5,240.26 L252.5,240.42 L253.5,240.58 L255,240.79 L256.5,240.99 L258,241.17 L259.5,241.34 L261,241.5 L263,241.68 L265,241.85 L267.5,242.03 L270,242.18 L273,242.34 L277,242.51 L282,242.66 L289.5,242.81 L308.5,242.96 L337,243" fill="none" stroke="#1449a6" stroke-width="1.8" stroke-linejoin="round"/>
<path d="M34,243 L66.5,242.8 L67,242.46 L67.5,241.59 L68,239.46 L68.5,234.95 L69,227.24 L69.5,216.73 L70,204.55 L70.5,191.63 L71,178.46 L71.5,165.35 L72,152.65 L72.5,141 L73,131.48 L73.5,125.09 L74,121.67 L74.5,120.16 L75,119.56 L75.5,119.33 L132,119.52 L133,119.67 L134,119.87 L135,120.12 L135.5,120.26 L136,120.42 L136.5,120.6 L137,120.79 L137.5,121 L138,121.22 L138.5,121.45 L139,121.7 L139.5,121.97 L140,122.25 L140.5,122.54 L141,122.85 L141.5,123.18 L142,123.51 L142.5,123.87 L143,124.23 L143.5,124.61 L144,125.01 L144.5,125.41 L145,125.83 L145.5,126.27 L146,126.71 L146.5,127.17 L147,127.64 L147.5,128.13 L148,128.62 L148.5,129.13 L149,129.65 L149.5,130.18 L150,130.72 L150.5,131.28 L151,131.84 L151.5,132.41 L152,133 L152.5,133.6 L153,134.2 L153.5,134.82 L154,135.44 L154.5,136.08 L155,136.72 L155.5,137.37 L156,138.04 L156.5,138.71 L157,139.38 L157.5,140.07 L158,140.77 L158.5,141.47 L159,142.18 L159.5,142.9 L160,143.62 L160.5,144.35 L161,145.09 L161.5,145.83 L162,146.58 L162.5,147.34 L163,148.1 L163.5,148.87 L164,149.64 L164.5,150.42 L165,151.2 L165.5,151.99 L166,152.78 L166.5,153.57 L167,154.37 L167.5,155.18 L168,155.98 L168.5,156.79 L169,157.6 L169.5,158.42 L170,159.23 L170.5,160.05 L171,160.87 L171.5,161.7 L172,162.52 L172.5,163.35 L173,164.17 L173.5,165 L174,165.83 L174.5,166.66 L175,167.49 L175.5,168.32 L176,169.15 L176.5,169.98 L177,170.81 L177.5,171.63 L178,172.46 L178.5,173.29 L179,174.11 L179.5,174.94 L180,175.76 L180.5,176.58 L181,177.39 L181.5,178.21 L182,179.02 L182.5,179.83 L183,180.64 L183.5,181.45 L184,182.25 L184.5,183.05 L185,183.85 L185.5,184.64 L186,185.43 L186.5,186.21 L187,186.99 L187.5,187.77 L188,188.54 L188.5,189.31 L189,190.08 L189.5,190.84 L190,191.59 L190.5,192.34 L191,193.09 L191.5,193.83 L192,194.57 L192.5,195.3 L193,196.02 L193.5,196.74 L194,197.46 L194.5,198.17 L195,198.87 L195.5,199.57 L196,200.26 L196.5,200.94 L197,201.62 L197.5,202.3 L198,202.96 L198.5,203.63 L199,204.28 L199.5,204.93 L200,205.57 L200.5,206.21 L201,206.84 L201.5,207.46 L202,208.08 L202.5,208.69 L203,209.3 L203.5,209.89 L204,210.48 L204.5,211.07 L205,211.64 L205.5,212.22 L206,212.78 L206.5,213.34 L207,213.89 L207.5,214.43 L208,214.97 L208.5,215.5 L209,216.02 L209.5,216.54 L210,217.05 L210.5,217.55 L211,218.05 L211.5,218.54 L212,219.02 L212.5,219.5 L213,219.97 L213.5,220.43 L214,220.89 L214.5,221.34 L215,221.78 L215.5,222.22 L216,222.65 L216.5,223.08 L217,223.49 L217.5,223.9 L218,224.31 L218.5,224.71 L219,225.1 L219.5,225.49 L220,225.86 L220.5,226.24 L221,226.61 L221.5,226.97 L222,227.32 L222.5,227.67 L223,228.01 L223.5,228.35 L224,228.68 L224.5,229.01 L225,229.33 L225.5,229.64 L226,229.95 L226.5,230.25 L227,230.55 L227.5,230.84 L228,231.13 L228.5,231.41 L229,231.69 L229.5,231.96 L230,232.22 L230.5,232.49 L231,232.74 L231.5,232.99 L232,233.24 L232.5,233.48 L233,233.71 L233.5,233.94 L234,234.17 L234.5,234.39 L235,234.61 L235.5,234.82 L236,235.03 L236.5,235.24 L237,235.44 L237.5,235.63 L238,235.82 L238.5,236.01 L239,236.19 L239.5,236.37 L240,236.55 L240.5,236.72 L241,236.89 L241.5,237.05 L242,237.21 L242.5,237.37 L243,237.52 L244,237.81 L245,238.1 L246,238.37 L247,238.62 L248,238.87 L249,239.1 L250,239.32 L251,239.53 L252,239.73 L253,239.92 L254,240.1 L255,240.27 L256,240.43 L257,240.59 L258.5,240.8 L260,241 L261.5,241.18 L263,241.35 L264.5,241.51 L266.5,241.69 L268.5,241.85 L271,242.03 L273.5,242.19 L276.5,242.34 L280.5,242.51 L285.5,242.66 L293.5,242.82 L314.5,242.97 L337,243" fill="none" stroke="#0f3fa2" stroke-width="1.8" stroke-linejoin="round"/>
<line x1="34" x2="338.5" y1="243.2" y2="243.2" stroke="#6a9cc0" stroke-width="1.4"/>
<path d="M347,240.97 L380,240.82 L390.5,240.67 L397,240.51 L402,240.35 L406,240.17 L409,240.02 L411.5,239.86 L414,239.68 L416,239.52 L418,239.34 L419.5,239.19 L421,239.02 L422.5,238.84 L424,238.65 L425.5,238.44 L426.5,238.28 L427.5,238.12 L428.5,237.95 L429.5,237.77 L430.5,237.58 L431.5,237.38 L432.5,237.17 L433.5,236.94 L434.5,236.71 L435.5,236.46 L436.5,236.19 L437.5,235.91 L438.5,235.62 L439,235.46 L439.5,235.31 L440,235.14 L440.5,234.98 L441,234.81 L441.5,234.63 L442,234.45 L442.5,234.26 L443,234.07 L443.5,233.88 L444,233.68 L444.5,233.47 L445,233.26 L445.5,233.05 L446,232.82 L446.5,232.6 L447,232.36 L447.5,232.12 L448,231.88 L448.5,231.62 L449,231.37 L449.5,231.1 L450,230.83 L450.5,230.55 L451,230.26 L451.5,229.97 L452,229.67 L452.5,229.37 L453,229.05 L453.5,228.73 L454,228.4 L454.5,228.06 L455,227.71 L455.5,227.36 L456,227 L456.5,226.63 L457,226.25 L457.5,225.86 L458,225.46 L458.5,225.06 L459,224.64 L459.5,224.22 L460,223.79 L460.5,223.35 L461,222.89 L461.5,222.43 L462,221.96 L462.5,221.48 L463,220.99 L463.5,220.49 L464,219.98 L464.5,219.46 L465,218.93 L465.5,218.38 L466,217.83 L466.5,217.27 L467,216.7 L467.5,216.11 L468,215.52 L468.5,214.92 L469,214.3 L469.5,213.68 L470,213.04 L470.5,212.39 L471,211.74 L471.5,211.07 L472,210.39 L472.5,209.7 L473,209 L473.5,208.29 L474,207.57 L474.5,206.84 L475,206.11 L475.5,205.36 L476,204.6 L476.5,203.83 L477,203.05 L477.5,202.26 L478,201.47 L478.5,200.66 L479,199.85 L479.5,199.03 L480,198.19 L480.5,197.36 L481,196.51 L481.5,195.66 L482,194.79 L482.5,193.93 L483,193.05 L483.5,192.17 L484,191.28 L484.5,190.39 L485,189.49 L485.5,188.59 L486,187.68 L486.5,186.77 L487,185.86 L487.5,184.94 L488,184.01 L488.5,183.09 L489,182.16 L489.5,181.23 L490,180.3 L490.5,179.37 L491,178.43 L491.5,177.5 L492,176.57 L492.5,175.63 L493,174.7 L493.5,173.77 L494,172.84 L494.5,171.91 L495,170.99 L495.5,170.06 L496,169.14 L496.5,168.23 L497,167.32 L497.5,166.41 L498,165.51 L498.5,164.61 L499,163.72 L499.5,162.83 L500,161.95 L500.5,161.07 L501,160.21 L501.5,159.34 L502,158.49 L502.5,157.64 L503,156.81 L503.5,155.97 L504,155.15 L504.5,154.34 L505,153.53 L505.5,152.74 L506,151.95 L506.5,151.17 L507,150.4 L507.5,149.64 L508,148.89 L508.5,148.16 L509,147.43 L509.5,146.71 L510,146 L510.5,145.3 L511,144.61 L511.5,143.93 L512,143.26 L512.5,142.61 L513,141.96 L513.5,141.33 L514,140.7 L514.5,140.09 L515,139.49 L515.5,138.9 L516,138.33 L516.5,137.77 L517,137.24 L517.5,136.73 L518,136.28 L518.5,135.91 L519,135.66 L519.5,135.62 L520,135.93 L520.5,136.84 L521,138.73 L521.5,142.15 L522,147.85 L522.5,156.54 L523,168.46 L523.5,182.83 L524,197.77 L524.5,211.13 L525,221.57 L525.5,228.92 L526,233.71 L526.5,236.68 L527,238.47 L527.5,239.53 L528,240.15 L528.5,240.51 L529,240.72 L530,240.91 L651,241" fill="none" stroke="#dcbf4e" stroke-width="2.4" stroke-linejoin="round"/>
<path d="M347,240.87 L363,240.72 L371.5,240.56 L377.5,240.41 L382.5,240.24 L386.5,240.08 L390,239.9 L393,239.72 L395.5,239.55 L397.5,239.4 L399.5,239.23 L401.5,239.05 L403,238.9 L404.5,238.73 L406,238.55 L407.5,238.36 L409,238.16 L410.5,237.94 L411.5,237.78 L412.5,237.62 L413.5,237.44 L414.5,237.26 L415.5,237.07 L416.5,236.87 L417.5,236.65 L418.5,236.43 L419.5,236.2 L420.5,235.95 L421.5,235.69 L422.5,235.42 L423.5,235.13 L424,234.99 L424.5,234.83 L425,234.68 L425.5,234.52 L426,234.35 L426.5,234.19 L427,234.01 L427.5,233.84 L428,233.66 L428.5,233.47 L429,233.28 L429.5,233.08 L430,232.88 L430.5,232.68 L431,232.47 L431.5,232.25 L432,232.03 L432.5,231.81 L433,231.57 L433.5,231.33 L434,231.09 L434.5,230.84 L435,230.58 L435.5,230.32 L436,230.05 L436.5,229.77 L437,229.49 L437.5,229.2 L438,228.9 L438.5,228.6 L439,228.28 L439.5,227.96 L440,227.63 L440.5,227.3 L441,226.95 L441.5,226.6 L442,226.23 L442.5,225.86 L443,225.48 L443.5,225.09 L444,224.69 L444.5,224.28 L445,223.86 L445.5,223.43 L446,222.99 L446.5,222.53 L447,222.07 L447.5,221.6 L448,221.11 L448.5,220.61 L449,220.1 L449.5,219.58 L450,219.04 L450.5,218.49 L451,217.93 L451.5,217.35 L452,216.77 L452.5,216.16 L453,215.54 L453.5,214.91 L454,214.27 L454.5,213.6 L455,212.92 L455.5,212.23 L456,211.52 L456.5,210.8 L457,210.05 L457.5,209.29 L458,208.52 L458.5,207.72 L459,206.91 L459.5,206.08 L460,205.23 L460.5,204.37 L461,203.48 L461.5,202.58 L462,201.66 L462.5,200.72 L463,199.76 L463.5,198.78 L464,197.78 L464.5,196.77 L465,195.73 L465.5,194.68 L466,193.6 L466.5,192.51 L467,191.39 L467.5,190.26 L468,189.11 L468.5,187.95 L469,186.76 L469.5,185.56 L470,184.34 L470.5,183.1 L471,181.85 L471.5,180.58 L472,179.3 L472.5,178 L473,176.7 L473.5,175.38 L474,174.04 L474.5,172.7 L475,171.35 L475.5,170 L476,168.63 L476.5,167.27 L477,165.9 L477.5,164.52 L478,163.15 L478.5,161.78 L479,160.4 L479.5,159.04 L480,157.68 L480.5,156.33 L481,154.98 L481.5,153.65 L482,152.33 L482.5,151.02 L483,149.73 L483.5,148.46 L484,147.2 L484.5,145.97 L485,144.75 L485.5,143.56 L486,142.39 L486.5,141.25 L487,140.13 L487.5,139.04 L488,137.98 L488.5,136.94 L489,135.94 L489.5,134.96 L490,134.01 L490.5,133.1 L491,132.21 L491.5,131.35 L492,130.52 L492.5,129.73 L493,128.96 L493.5,128.22 L494,127.51 L494.5,126.83 L495,126.17 L495.5,125.55 L496,124.95 L496.5,124.38 L497,123.83 L497.5,123.31 L498,122.81 L498.5,122.34 L499,121.88 L499.5,121.45 L500,121.04 L500.5,120.66 L501,120.29 L501.5,119.94 L502,119.6 L502.5,119.29 L503,118.99 L503.5,118.71 L504,118.44 L504.5,118.19 L505,117.95 L505.5,117.72 L506,117.5 L506.5,117.3 L507,117.11 L507.5,116.93 L508,116.76 L508.5,116.6 L509,116.44 L510,116.17 L511,115.92 L512,115.7 L513,115.5 L514,115.33 L515,115.18 L516.5,114.98 L518,114.81 L520,114.63 L522.5,114.46 L526,114.3 L532,114.14 L579,114.1 L579.5,114.26 L580,114.7 L580.5,115.88 L581,118.97 L581.5,126.67 L582,143.4 L582.5,171.17 L583,201.63 L583.5,222.98 L584,233.72 L584.5,238.22 L585,239.96 L585.5,240.62 L586,240.86 L651,241" fill="none" stroke="#e2a63c" stroke-width="2.4" stroke-linejoin="round"/>
<path d="M347,240.92 L364.5,240.77 L373,240.61 L379,240.45 L383.5,240.28 L387,240.12 L390,239.95 L392.5,239.78 L394.5,239.63 L396.5,239.46 L398.5,239.27 L400,239.11 L401.5,238.93 L403,238.74 L404.5,238.53 L406,238.31 L407,238.14 L408,237.97 L409,237.79 L410,237.59 L411,237.38 L412,237.17 L413,236.93 L414,236.69 L415,236.43 L416,236.15 L417,235.85 L417.5,235.7 L418,235.54 L418.5,235.38 L419,235.21 L419.5,235.04 L420,234.86 L420.5,234.68 L421,234.49 L421.5,234.3 L422,234.1 L422.5,233.89 L423,233.68 L423.5,233.46 L424,233.23 L424.5,233 L425,232.76 L425.5,232.52 L426,232.27 L426.5,232.01 L427,231.74 L427.5,231.46 L428,231.18 L428.5,230.88 L429,230.58 L429.5,230.27 L430,229.95 L430.5,229.62 L431,229.29 L431.5,228.94 L432,228.58 L432.5,228.21 L433,227.83 L433.5,227.44 L434,227.03 L434.5,226.62 L435,226.19 L435.5,225.75 L436,225.3 L436.5,224.83 L437,224.35 L437.5,223.86 L438,223.35 L438.5,222.83 L439,222.29 L439.5,221.74 L440,221.17 L440.5,220.58 L441,219.98 L441.5,219.36 L442,218.72 L442.5,218.06 L443,217.39 L443.5,216.7 L444,215.98 L444.5,215.25 L445,214.5 L445.5,213.72 L446,212.92 L446.5,212.11 L447,211.27 L447.5,210.4 L448,209.52 L448.5,208.61 L449,207.68 L449.5,206.72 L450,205.74 L450.5,204.73 L451,203.69 L451.5,202.64 L452,201.55 L452.5,200.44 L453,199.3 L453.5,198.14 L454,196.95 L454.5,195.73 L455,194.49 L455.5,193.22 L456,191.92 L456.5,190.6 L457,189.25 L457.5,187.88 L458,186.48 L458.5,185.06 L459,183.61 L459.5,182.14 L460,180.66 L460.5,179.15 L461,177.62 L461.5,176.08 L462,174.52 L462.5,172.94 L463,171.35 L463.5,169.76 L464,168.15 L464.5,166.54 L465,164.93 L465.5,163.31 L466,161.69 L466.5,160.08 L467,158.48 L467.5,156.88 L468,155.3 L468.5,153.73 L469,152.17 L469.5,150.64 L470,149.13 L470.5,147.64 L471,146.18 L471.5,144.75 L472,143.35 L472.5,141.99 L473,140.65 L473.5,139.36 L474,138.1 L474.5,136.88 L475,135.7 L475.5,134.57 L476,133.47 L476.5,132.41 L477,131.4 L477.5,130.43 L478,129.5 L478.5,128.61 L479,127.76 L479.5,126.95 L480,126.17 L480.5,125.44 L481,124.74 L481.5,124.08 L482,123.46 L482.5,122.87 L483,122.31 L483.5,121.78 L484,121.28 L484.5,120.81 L485,120.37 L485.5,119.96 L486,119.57 L486.5,119.2 L487,118.85 L487.5,118.53 L488,118.23 L488.5,117.95 L489,117.68 L489.5,117.43 L490,117.2 L490.5,116.98 L491,116.78 L491.5,116.59 L492,116.41 L492.5,116.24 L493,116.09 L494,115.81 L495,115.57 L496,115.36 L497,115.18 L498,115.02 L499.5,114.82 L501,114.66 L503,114.49 L505.5,114.34 L509.5,114.19 L520.5,114.04 L621.5,114.21 L622,114.57 L622.5,115.54 L623,118.1 L623.5,124.56 L624,139.12 L624.5,164.97 L625,196 L625.5,219.67 L626,232.22 L626.5,237.62 L627,239.74 L627.5,240.53 L628,240.83 L629.5,240.99 L651,241" fill="none" stroke="#eb9332" stroke-width="2.4" stroke-linejoin="round"/>
<path d="M347,240.94 L366,240.78 L374,240.63 L379.5,240.46 L383.5,240.3 L386.5,240.14 L389,239.99 L391.5,239.81 L393.5,239.64 L395.5,239.44 L397,239.28 L398.5,239.1 L400,238.9 L401.5,238.67 L402.5,238.51 L403.5,238.34 L404.5,238.16 L405.5,237.96 L406.5,237.75 L407.5,237.53 L408.5,237.29 L409.5,237.04 L410.5,236.76 L411.5,236.47 L412,236.32 L412.5,236.16 L413,235.99 L413.5,235.82 L414,235.65 L414.5,235.47 L415,235.28 L415.5,235.09 L416,234.89 L416.5,234.68 L417,234.46 L417.5,234.24 L418,234.01 L418.5,233.78 L419,233.53 L419.5,233.28 L420,233.02 L420.5,232.75 L421,232.47 L421.5,232.18 L422,231.88 L422.5,231.57 L423,231.25 L423.5,230.92 L424,230.58 L424.5,230.23 L425,229.87 L425.5,229.49 L426,229.1 L426.5,228.7 L427,228.28 L427.5,227.85 L428,227.41 L428.5,226.95 L429,226.48 L429.5,225.99 L430,225.48 L430.5,224.96 L431,224.42 L431.5,223.86 L432,223.28 L432.5,222.69 L433,222.07 L433.5,221.43 L434,220.78 L434.5,220.1 L435,219.4 L435.5,218.68 L436,217.93 L436.5,217.16 L437,216.36 L437.5,215.54 L438,214.7 L438.5,213.83 L439,212.92 L439.5,212 L440,211.04 L440.5,210.05 L441,209.04 L441.5,207.99 L442,206.91 L442.5,205.8 L443,204.66 L443.5,203.48 L444,202.28 L444.5,201.04 L445,199.76 L445.5,198.45 L446,197.11 L446.5,195.73 L447,194.32 L447.5,192.87 L448,191.39 L448.5,189.88 L449,188.34 L449.5,186.76 L450,185.15 L450.5,183.51 L451,181.85 L451.5,180.16 L452,178.44 L452.5,176.7 L453,174.93 L453.5,173.15 L454,171.35 L454.5,169.54 L455,167.72 L455.5,165.9 L456,164.06 L456.5,162.23 L457,160.4 L457.5,158.58 L458,156.78 L458.5,154.98 L459,153.21 L459.5,151.46 L460,149.73 L460.5,148.04 L461,146.38 L461.5,144.75 L462,143.17 L462.5,141.63 L463,140.13 L463.5,138.68 L464,137.29 L464.5,135.94 L465,134.64 L465.5,133.4 L466,132.21 L466.5,131.07 L467,129.99 L467.5,128.96 L468,127.98 L468.5,127.05 L469,126.17 L469.5,125.35 L470,124.57 L470.5,123.83 L471,123.14 L471.5,122.49 L472,121.88 L472.5,121.32 L473,120.78 L473.5,120.29 L474,119.82 L474.5,119.39 L475,118.99 L475.5,118.62 L476,118.27 L476.5,117.95 L477,117.65 L477.5,117.37 L478,117.11 L478.5,116.87 L479,116.65 L479.5,116.44 L480,116.25 L480.5,116.08 L481,115.92 L482,115.63 L483,115.38 L484,115.18 L485,115 L486,114.85 L487.5,114.66 L489.5,114.47 L492,114.31 L496,114.16 L512,114.01 L625,114.14 L625.5,114.38 L626,115.04 L626.5,116.78 L627,121.28 L627.5,132.02 L628,153.37 L628.5,183.83 L629,211.6 L629.5,228.33 L630,236.03 L630.5,239.12 L631,240.3 L631.5,240.74 L632,240.91 L651,241" fill="none" stroke="#f07b28" stroke-width="2.5" stroke-linejoin="round"/>
<path d="M347,240.95 L366.5,240.8 L374.5,240.64 L379.5,240.48 L383,240.33 L386,240.17 L388.5,240 L390.5,239.84 L392.5,239.66 L394,239.51 L395.5,239.34 L397,239.14 L398.5,238.93 L399.5,238.77 L400.5,238.61 L401.5,238.42 L402.5,238.23 L403.5,238.02 L404.5,237.8 L405.5,237.56 L406.5,237.3 L407.5,237.02 L408,236.87 L408.5,236.72 L409,236.56 L409.5,236.39 L410,236.22 L410.5,236.04 L411,235.86 L411.5,235.67 L412,235.47 L412.5,235.27 L413,235.06 L413.5,234.84 L414,234.61 L414.5,234.37 L415,234.13 L415.5,233.87 L416,233.61 L416.5,233.34 L417,233.05 L417.5,232.76 L418,232.45 L418.5,232.14 L419,231.81 L419.5,231.47 L420,231.12 L420.5,230.75 L421,230.37 L421.5,229.98 L422,229.57 L422.5,229.15 L423,228.71 L423.5,228.26 L424,227.79 L424.5,227.3 L425,226.8 L425.5,226.27 L426,225.73 L426.5,225.17 L427,224.59 L427.5,223.98 L428,223.36 L428.5,222.71 L429,222.04 L429.5,221.34 L430,220.62 L430.5,219.87 L431,219.1 L431.5,218.3 L432,217.47 L432.5,216.61 L433,215.73 L433.5,214.81 L434,213.86 L434.5,212.87 L435,211.86 L435.5,210.81 L436,209.72 L436.5,208.6 L437,207.44 L437.5,206.25 L438,205.02 L438.5,203.74 L439,202.43 L439.5,201.08 L440,199.69 L440.5,198.26 L441,196.79 L441.5,195.27 L442,193.72 L442.5,192.12 L443,190.49 L443.5,188.82 L444,187.11 L444.5,185.36 L445,183.57 L445.5,181.76 L446,179.91 L446.5,178.03 L447,176.12 L447.5,174.19 L448,172.24 L448.5,170.27 L449,168.29 L449.5,166.29 L450,164.3 L450.5,162.3 L451,160.31 L451.5,158.32 L452,156.35 L452.5,154.4 L453,152.47 L453.5,150.57 L454,148.71 L454.5,146.89 L455,145.1 L455.5,143.37 L456,141.68 L456.5,140.05 L457,138.48 L457.5,136.96 L458,135.51 L458.5,134.11 L459,132.79 L459.5,131.52 L460,130.32 L460.5,129.18 L461,128.1 L461.5,127.08 L462,126.13 L462.5,125.23 L463,124.39 L463.5,123.6 L464,122.86 L464.5,122.18 L465,121.54 L465.5,120.94 L466,120.39 L466.5,119.88 L467,119.41 L467.5,118.97 L468,118.56 L468.5,118.19 L469,117.84 L469.5,117.53 L470,117.23 L470.5,116.96 L471,116.72 L471.5,116.49 L472,116.28 L472.5,116.09 L473,115.91 L473.5,115.75 L474.5,115.46 L475.5,115.22 L476.5,115.02 L477.5,114.85 L479,114.65 L480.5,114.5 L482.5,114.35 L486,114.18 L495.5,114.03 L628.5,114.12 L629,114.31 L629.5,114.85 L630,116.28 L630.5,120.02 L631,129.14 L631.5,148.16 L632,177.5 L632.5,206.84 L633,225.86 L633.5,234.98 L634,238.72 L634.5,240.15 L635,240.69 L635.5,240.88 L651,241" fill="none" stroke="#ef5f1e" stroke-width="2.6" stroke-linejoin="round"/>
<path d="M347,240.96 L368,240.81 L376,240.65 L381,240.48 L384.5,240.33 L387.5,240.15 L390,239.97 L392,239.8 L394,239.6 L395.5,239.43 L397,239.24 L398.5,239.02 L399.5,238.86 L400.5,238.69 L401.5,238.51 L402.5,238.31 L403.5,238.09 L404.5,237.86 L405.5,237.61 L406.5,237.34 L407.5,237.05 L408,236.89 L408.5,236.73 L409,236.56 L409.5,236.39 L410,236.21 L410.5,236.02 L411,235.82 L411.5,235.62 L412,235.41 L412.5,235.19 L413,234.96 L413.5,234.73 L414,234.48 L414.5,234.23 L415,233.96 L415.5,233.68 L416,233.4 L416.5,233.1 L417,232.79 L417.5,232.47 L418,232.13 L418.5,231.79 L419,231.43 L419.5,231.05 L420,230.66 L420.5,230.26 L421,229.84 L421.5,229.4 L422,228.95 L422.5,228.48 L423,227.99 L423.5,227.48 L424,226.95 L424.5,226.4 L425,225.83 L425.5,225.24 L426,224.63 L426.5,223.99 L427,223.33 L427.5,222.64 L428,221.93 L428.5,221.18 L429,220.42 L429.5,219.62 L430,218.79 L430.5,217.93 L431,217.04 L431.5,216.12 L432,215.16 L432.5,214.16 L433,213.13 L433.5,212.07 L434,210.96 L434.5,209.82 L435,208.64 L435.5,207.41 L436,206.15 L436.5,204.84 L437,203.48 L437.5,202.09 L438,200.65 L438.5,199.16 L439,197.63 L439.5,196.05 L440,194.43 L440.5,192.76 L441,191.05 L441.5,189.29 L442,187.49 L442.5,185.65 L443,183.77 L443.5,181.85 L444,179.89 L444.5,177.9 L445,175.88 L445.5,173.84 L446,171.77 L446.5,169.68 L447,167.58 L447.5,165.47 L448,163.36 L448.5,161.25 L449,159.14 L449.5,157.05 L450,154.98 L450.5,152.94 L451,150.92 L451.5,148.94 L452,147.01 L452.5,145.12 L453,143.29 L453.5,141.51 L454,139.79 L454.5,138.14 L455,136.55 L455.5,135.03 L456,133.59 L456.5,132.21 L457,130.9 L457.5,129.66 L458,128.5 L458.5,127.4 L459,126.37 L459.5,125.41 L460,124.51 L460.5,123.67 L461,122.89 L461.5,122.16 L462,121.49 L462.5,120.86 L463,120.29 L463.5,119.76 L464,119.27 L464.5,118.81 L465,118.4 L465.5,118.02 L466,117.67 L466.5,117.35 L467,117.05 L467.5,116.78 L468,116.54 L468.5,116.31 L469,116.11 L469.5,115.92 L470,115.75 L470.5,115.59 L471.5,115.32 L472.5,115.09 L473.5,114.9 L474.5,114.75 L476,114.56 L478,114.38 L481,114.22 L487.5,114.06 L632,114.09 L632.5,114.26 L633,114.7 L633.5,115.88 L634,118.97 L634.5,126.67 L635,143.4 L635.5,171.17 L636,201.63 L636.5,222.98 L637,233.72 L637.5,238.22 L638,239.96 L638.5,240.62 L639,240.86 L651,241" fill="none" stroke="#ec4e1a" stroke-width="2.6" stroke-linejoin="round"/>
<path d="M347,240.97 L369,240.81 L376.5,240.65 L381,240.5 L384.5,240.34 L387.5,240.16 L390,239.98 L392,239.8 L393.5,239.65 L395,239.48 L396.5,239.28 L398,239.06 L399,238.9 L400,238.73 L401,238.54 L402,238.34 L403,238.11 L404,237.87 L405,237.61 L406,237.33 L406.5,237.18 L407,237.02 L407.5,236.86 L408,236.69 L408.5,236.52 L409,236.34 L409.5,236.14 L410,235.95 L410.5,235.74 L411,235.53 L411.5,235.3 L412,235.07 L412.5,234.83 L413,234.58 L413.5,234.31 L414,234.04 L414.5,233.76 L415,233.46 L415.5,233.16 L416,232.84 L416.5,232.5 L417,232.16 L417.5,231.8 L418,231.42 L418.5,231.03 L419,230.62 L419.5,230.2 L420,229.76 L420.5,229.31 L421,228.83 L421.5,228.33 L422,227.82 L422.5,227.28 L423,226.73 L423.5,226.15 L424,225.54 L424.5,224.91 L425,224.26 L425.5,223.58 L426,222.88 L426.5,222.15 L427,221.38 L427.5,220.59 L428,219.77 L428.5,218.91 L429,218.02 L429.5,217.1 L430,216.14 L430.5,215.14 L431,214.11 L431.5,213.03 L432,211.92 L432.5,210.77 L433,209.57 L433.5,208.33 L434,207.04 L434.5,205.71 L435,204.33 L435.5,202.91 L436,201.44 L436.5,199.92 L437,198.35 L437.5,196.73 L438,195.06 L438.5,193.34 L439,191.57 L439.5,189.76 L440,187.9 L440.5,185.99 L441,184.04 L441.5,182.05 L442,180.02 L442.5,177.95 L443,175.85 L443.5,173.72 L444,171.57 L444.5,169.4 L445,167.21 L445.5,165.02 L446,162.82 L446.5,160.62 L447,158.44 L447.5,156.27 L448,154.13 L448.5,152.01 L449,149.94 L449.5,147.9 L450,145.92 L450.5,143.99 L451,142.12 L451.5,140.31 L452,138.57 L452.5,136.9 L453,135.31 L453.5,133.79 L454,132.35 L454.5,130.98 L455,129.69 L455.5,128.48 L456,127.34 L456.5,126.28 L457,125.28 L457.5,124.36 L458,123.49 L458.5,122.69 L459,121.95 L459.5,121.27 L460,120.64 L460.5,120.06 L461,119.53 L461.5,119.04 L462,118.59 L462.5,118.18 L463,117.8 L463.5,117.45 L464,117.14 L464.5,116.85 L465,116.59 L465.5,116.35 L466,116.13 L466.5,115.94 L467,115.76 L467.5,115.59 L468.5,115.31 L469.5,115.08 L470.5,114.88 L471.5,114.72 L473,114.54 L475,114.36 L478,114.2 L485.5,114.04 L633.5,114.17 L634,114.47 L634.5,115.26 L635,117.38 L635.5,122.78 L636,135.33 L636.5,159 L637,190.03 L637.5,215.88 L638,230.44 L638.5,236.9 L639,239.46 L639.5,240.43 L640,240.79 L641,240.97 L651,241" fill="none" stroke="#e8431b" stroke-width="2.8" stroke-linejoin="round"/>
<circle cx="86.8" cy="84.2" r="10.6" fill="url(#gBlue)"/><rect x="81.4" y="83" width="10.8" height="3.3" fill="#c4e6f9"/><rect x="85.1" y="79.8" width="3.3" height="10" fill="#c4e6f9"/>
<circle cx="126.3" cy="84.2" r="10.6" fill="url(#gBlue)"/><rect x="120.9" y="83" width="10.8" height="3.3" fill="#c4e6f9"/><rect x="124.6" y="79.8" width="3.3" height="10" fill="#c4e6f9"/>
<circle cx="168.3" cy="99.2" r="10.6" fill="url(#gBlue)"/><rect x="162.9" y="98" width="10.8" height="3.3" fill="#c4e6f9"/><rect x="166.6" y="94.8" width="3.3" height="10" fill="#c4e6f9"/>
<circle cx="86.8" cy="124.9" r="10.6" fill="url(#gBlue)"/><rect x="81.4" y="123.7" width="10.8" height="3.3" fill="#c4e6f9"/><rect x="85.1" y="120.5" width="3.3" height="10" fill="#c4e6f9"/>
<circle cx="126.3" cy="124.9" r="10.6" fill="url(#gBlue)"/><rect x="120.9" y="123.7" width="10.8" height="3.3" fill="#c4e6f9"/><rect x="124.6" y="120.5" width="3.3" height="10" fill="#c4e6f9"/>
<circle cx="169.5" cy="144.3" r="10.6" fill="url(#gBlue)"/><rect x="164.1" y="143.1" width="10.8" height="3.3" fill="#c4e6f9"/><rect x="167.8" y="139.9" width="3.3" height="10" fill="#c4e6f9"/>
<circle cx="86.8" cy="163.2" r="10.6" fill="url(#gBlue)"/><rect x="81.4" y="162" width="10.8" height="3.3" fill="#c4e6f9"/><rect x="85.1" y="158.8" width="3.3" height="10" fill="#c4e6f9"/>
<circle cx="126.3" cy="163.2" r="10.6" fill="url(#gBlue)"/><rect x="120.9" y="162" width="10.8" height="3.3" fill="#c4e6f9"/><rect x="124.6" y="158.8" width="3.3" height="10" fill="#c4e6f9"/>
<circle cx="86.8" cy="202.4" r="10.6" fill="url(#gBlue)"/><rect x="81.4" y="201.2" width="10.8" height="3.3" fill="#c4e6f9"/><rect x="85.1" y="198" width="3.3" height="10" fill="#c4e6f9"/>
<circle cx="126.3" cy="202.4" r="10.6" fill="url(#gBlue)"/><rect x="120.9" y="201.2" width="10.8" height="3.3" fill="#c4e6f9"/><rect x="124.6" y="198" width="3.3" height="10" fill="#c4e6f9"/>
<circle cx="166" cy="189.6" r="10.6" fill="url(#gBlue)"/><rect x="160.6" y="188.4" width="10.8" height="3.3" fill="#c4e6f9"/><rect x="164.3" y="185.2" width="3.3" height="10" fill="#c4e6f9"/>
<circle cx="285.7" cy="114.7" r="10.6" fill="url(#gBlue)"/><rect x="280.3" y="113.5" width="10.8" height="3.3" fill="#c4e6f9"/><rect x="284" y="110.3" width="3.3" height="10" fill="#c4e6f9"/>
<circle cx="213" cy="136.9" r="10.6" fill="url(#gBlue)"/><rect x="207.6" y="135.7" width="10.8" height="3.3" fill="#c4e6f9"/><rect x="211.3" y="132.5" width="3.3" height="10" fill="#c4e6f9"/>
<circle cx="235.4" cy="192.3" r="10.6" fill="url(#gBlue)"/><rect x="230" y="191.1" width="10.8" height="3.3" fill="#c4e6f9"/><rect x="233.7" y="187.9" width="3.3" height="10" fill="#c4e6f9"/>
<circle cx="420.6" cy="145.2" r="10.6" fill="url(#gBlue)"/><rect x="415.2" y="144" width="10.8" height="3.3" fill="#c4e6f9"/><rect x="418.9" y="140.8" width="3.3" height="10" fill="#c4e6f9"/>
<circle cx="380.2" cy="211.1" r="10.6" fill="url(#gBlue)"/><rect x="374.8" y="209.9" width="10.8" height="3.3" fill="#c4e6f9"/><rect x="378.5" y="206.7" width="3.3" height="10" fill="#c4e6f9"/>
<circle cx="302" cy="195.4" r="10.8" fill="url(#gOr)"/><rect x="296.8" y="193.9" width="10.3" height="3.2" fill="#f3ab84"/>
<circle cx="407.8" cy="102.6" r="10.8" fill="url(#gOr)"/><rect x="402.6" y="101.1" width="10.3" height="3.2" fill="#f3ab84"/>
<circle cx="470.8" cy="102.6" r="10.8" fill="url(#gOr)"/><rect x="465.6" y="101.1" width="10.3" height="3.2" fill="#f3ab84"/>
<circle cx="421.8" cy="187.8" r="10.8" fill="url(#gOr)"/><rect x="416.6" y="186.3" width="10.3" height="3.2" fill="#f3ab84"/>
<circle cx="469.7" cy="153.2" r="10.8" fill="url(#gOr)"/><rect x="464.5" y="151.7" width="10.3" height="3.2" fill="#f3ab84"/>
<circle cx="470.8" cy="200.1" r="10.8" fill="url(#gOr)"/><rect x="465.6" y="198.6" width="10.3" height="3.2" fill="#f3ab84"/>
<circle cx="513.6" cy="90.5" r="10.8" fill="url(#gOr)"/><rect x="508.4" y="89" width="10.3" height="3.2" fill="#f3ab84"/>
<circle cx="552.6" cy="89" r="10.8" fill="url(#gOr)"/><rect x="547.4" y="87.5" width="10.3" height="3.2" fill="#f3ab84"/>
<circle cx="589.9" cy="89" r="10.8" fill="url(#gOr)"/><rect x="584.7" y="87.5" width="10.3" height="3.2" fill="#f3ab84"/>
<circle cx="623.6" cy="89" r="10.8" fill="url(#gOr)"/><rect x="618.4" y="87.5" width="10.3" height="3.2" fill="#f3ab84"/>
<circle cx="513.6" cy="130.1" r="10.8" fill="url(#gOr)"/><rect x="508.4" y="128.6" width="10.3" height="3.2" fill="#f3ab84"/>
<circle cx="552.6" cy="128.6" r="10.8" fill="url(#gOr)"/><rect x="547.4" y="127.1" width="10.3" height="3.2" fill="#f3ab84"/>
<circle cx="589.9" cy="128.6" r="10.8" fill="url(#gOr)"/><rect x="584.7" y="127.1" width="10.3" height="3.2" fill="#f3ab84"/>
<circle cx="623.6" cy="128.6" r="10.8" fill="url(#gOr)"/><rect x="618.4" y="127.1" width="10.3" height="3.2" fill="#f3ab84"/>
<circle cx="513.6" cy="173.5" r="10.8" fill="url(#gOr)"/><rect x="508.4" y="172" width="10.3" height="3.2" fill="#f3ab84"/>
<circle cx="552.6" cy="172" r="10.8" fill="url(#gOr)"/><rect x="547.4" y="170.5" width="10.3" height="3.2" fill="#f3ab84"/>
<circle cx="589.9" cy="172" r="10.8" fill="url(#gOr)"/><rect x="584.7" y="170.5" width="10.3" height="3.2" fill="#f3ab84"/>
<circle cx="623.6" cy="172" r="10.8" fill="url(#gOr)"/><rect x="618.4" y="170.5" width="10.3" height="3.2" fill="#f3ab84"/>
<circle cx="513.6" cy="214.9" r="10.8" fill="url(#gOr)"/><rect x="508.4" y="213.4" width="10.3" height="3.2" fill="#f3ab84"/>
<circle cx="552.6" cy="213.4" r="10.8" fill="url(#gOr)"/><rect x="547.4" y="211.9" width="10.3" height="3.2" fill="#f3ab84"/>
<circle cx="589.9" cy="213.4" r="10.8" fill="url(#gOr)"/><rect x="584.7" y="211.9" width="10.3" height="3.2" fill="#f3ab84"/>
<circle cx="623.6" cy="213.4" r="10.8" fill="url(#gOr)"/><rect x="618.4" y="211.9" width="10.3" height="3.2" fill="#f3ab84"/>
<circle cx="32.8" cy="73" r="9.8" fill="url(#gEl)"/><rect x="26.8" y="71.5" width="12" height="3.1" fill="#3a2c12" fill-opacity="0.78"/>
<circle cx="32.8" cy="103" r="9.8" fill="url(#gEl)"/><rect x="26.8" y="101.5" width="12" height="3.1" fill="#3a2c12" fill-opacity="0.78"/>
<circle cx="32.8" cy="133" r="9.8" fill="url(#gEl)"/><rect x="26.8" y="131.5" width="12" height="3.1" fill="#3a2c12" fill-opacity="0.78"/>
<circle cx="32.8" cy="163" r="9.8" fill="url(#gEl)"/><rect x="26.8" y="161.5" width="12" height="3.1" fill="#3a2c12" fill-opacity="0.78"/>
<circle cx="32.8" cy="193" r="9.8" fill="url(#gEl)"/><rect x="26.8" y="191.5" width="12" height="3.1" fill="#3a2c12" fill-opacity="0.78"/>
<circle cx="32.8" cy="223" r="9.8" fill="url(#gEl)"/><rect x="26.8" y="221.5" width="12" height="3.1" fill="#3a2c12" fill-opacity="0.78"/>
<circle cx="652.2" cy="71.1" r="9.8" fill="url(#gEl)"/><path d="M646.2,69.5h4.4v-4.4h3.2v4.4h4.4v3.2h-4.4v4.4h-3.2v-4.4h-4.4z" fill="#3a2c12" fill-opacity="0.78"/>
<circle cx="652.2" cy="101.3" r="9.8" fill="url(#gEl)"/><path d="M646.2,99.7h4.4v-4.4h3.2v4.4h4.4v3.2h-4.4v4.4h-3.2v-4.4h-4.4z" fill="#3a2c12" fill-opacity="0.78"/>
<circle cx="652.2" cy="131.2" r="9.8" fill="url(#gEl)"/><path d="M646.2,129.6h4.4v-4.4h3.2v4.4h4.4v3.2h-4.4v4.4h-3.2v-4.4h-4.4z" fill="#3a2c12" fill-opacity="0.78"/>
<circle cx="652.2" cy="161" r="9.8" fill="url(#gEl)"/><path d="M646.2,159.4h4.4v-4.4h3.2v4.4h4.4v3.2h-4.4v4.4h-3.2v-4.4h-4.4z" fill="#3a2c12" fill-opacity="0.78"/>
<circle cx="652.2" cy="190.6" r="9.8" fill="url(#gEl)"/><path d="M646.2,189h4.4v-4.4h3.2v4.4h4.4v3.2h-4.4v4.4h-3.2v-4.4h-4.4z" fill="#3a2c12" fill-opacity="0.78"/>
<circle cx="652.2" cy="219.5" r="9.8" fill="url(#gEl)"/><path d="M646.2,217.9h4.4v-4.4h3.2v4.4h4.4v3.2h-4.4v4.4h-3.2v-4.4h-4.4z" fill="#3a2c12" fill-opacity="0.78"/>
<line x1="26.3" x2="36.8" y1="61.3" y2="61.3" stroke="#222" stroke-width="1.3"/>
<line x1="65" x2="75.4" y1="61.3" y2="61.3" stroke="#222" stroke-width="1.3"/>
<line x1="103.6" x2="114" y1="61.3" y2="61.3" stroke="#222" stroke-width="1.3"/>
<line x1="142.2" x2="152.6" y1="61.3" y2="61.3" stroke="#222" stroke-width="1.3"/>
<line x1="180.8" x2="191.2" y1="61.3" y2="61.3" stroke="#222" stroke-width="1.3"/>
<line x1="219.4" x2="229.8" y1="61.3" y2="61.3" stroke="#222" stroke-width="1.3"/>
<line x1="258" x2="268.4" y1="61.3" y2="61.3" stroke="#222" stroke-width="1.3"/>
<line x1="296.6" x2="307" y1="61.3" y2="61.3" stroke="#222" stroke-width="1.3"/>
<line x1="335.2" x2="349.3" y1="61.3" y2="61.3" stroke="#222" stroke-width="1.3"/>
<line x1="377.5" x2="388.1" y1="61.3" y2="61.3" stroke="#222" stroke-width="1.3"/>
<line x1="416.3" x2="426.9" y1="61.3" y2="61.3" stroke="#222" stroke-width="1.3"/>
<line x1="455.1" x2="465.7" y1="61.3" y2="61.3" stroke="#222" stroke-width="1.3"/>
<line x1="493.9" x2="504.5" y1="61.3" y2="61.3" stroke="#222" stroke-width="1.3"/>
<line x1="532.7" x2="543.3" y1="61.3" y2="61.3" stroke="#222" stroke-width="1.3"/>
<line x1="571.5" x2="582.1" y1="61.3" y2="61.3" stroke="#222" stroke-width="1.3"/>
<line x1="610.3" x2="620.9" y1="61.3" y2="61.3" stroke="#222" stroke-width="1.3"/>
<line x1="649.1" x2="659.7" y1="61.3" y2="61.3" stroke="#222" stroke-width="1.3"/>
<polyline points="36.8,51 43.3,51 44.55,48.4 47.05,53.6 49.55,48.4 52.05,53.6 54.55,48.4 57.05,53.6 58.3,51 65,51" fill="none" stroke="#222" stroke-width="1.1" stroke-linejoin="miter"/>
<line x1="36.8" x2="36.8" y1="51.0" y2="71.3" stroke="#222" stroke-width="1.3"/>
<line x1="65" x2="65" y1="51.0" y2="71.3" stroke="#222" stroke-width="1.3"/>
<line x1="36.8" x2="48.9" y1="71.3" y2="71.3" stroke="#222" stroke-width="1.3"/>
<line x1="52.9" x2="65" y1="71.3" y2="71.3" stroke="#222" stroke-width="1.3"/>
<line x1="48.9" x2="48.9" y1="65.8" y2="77.2" stroke="#222" stroke-width="1.3"/>
<line x1="52.9" x2="52.9" y1="65.8" y2="77.2" stroke="#222" stroke-width="1.3"/>
<polyline points="75.4,51 81.9,51 83.15,48.4 85.65,53.6 88.15,48.4 90.65,53.6 93.15,48.4 95.65,53.6 96.9,51 103.6,51" fill="none" stroke="#222" stroke-width="1.1" stroke-linejoin="miter"/>
<line x1="75.4" x2="75.4" y1="51.0" y2="71.3" stroke="#222" stroke-width="1.3"/>
<line x1="103.6" x2="103.6" y1="51.0" y2="71.3" stroke="#222" stroke-width="1.3"/>
<line x1="75.4" x2="87.5" y1="71.3" y2="71.3" stroke="#222" stroke-width="1.3"/>
<line x1="91.5" x2="103.6" y1="71.3" y2="71.3" stroke="#222" stroke-width="1.3"/>
<line x1="87.5" x2="87.5" y1="65.8" y2="77.2" stroke="#222" stroke-width="1.3"/>
<line x1="91.5" x2="91.5" y1="65.8" y2="77.2" stroke="#222" stroke-width="1.3"/>
<polyline points="114,51 120.5,51 121.75,48.4 124.25,53.6 126.75,48.4 129.25,53.6 131.75,48.4 134.25,53.6 135.5,51 142.2,51" fill="none" stroke="#222" stroke-width="1.1" stroke-linejoin="miter"/>
<line x1="114" x2="114" y1="51.0" y2="71.3" stroke="#222" stroke-width="1.3"/>
<line x1="142.2" x2="142.2" y1="51.0" y2="71.3" stroke="#222" stroke-width="1.3"/>
<line x1="114" x2="126.1" y1="71.3" y2="71.3" stroke="#222" stroke-width="1.3"/>
<line x1="130.1" x2="142.2" y1="71.3" y2="71.3" stroke="#222" stroke-width="1.3"/>
<line x1="126.1" x2="126.1" y1="65.8" y2="77.2" stroke="#222" stroke-width="1.3"/>
<line x1="130.1" x2="130.1" y1="65.8" y2="77.2" stroke="#222" stroke-width="1.3"/>
<polyline points="152.6,51 159.1,51 160.35,48.4 162.85,53.6 165.35,48.4 167.85,53.6 170.35,48.4 172.85,53.6 174.1,51 180.8,51" fill="none" stroke="#222" stroke-width="1.1" stroke-linejoin="miter"/>
<line x1="152.6" x2="152.6" y1="51.0" y2="71.3" stroke="#222" stroke-width="1.3"/>
<line x1="180.8" x2="180.8" y1="51.0" y2="71.3" stroke="#222" stroke-width="1.3"/>
<line x1="152.6" x2="164.7" y1="71.3" y2="71.3" stroke="#222" stroke-width="1.3"/>
<line x1="168.7" x2="180.8" y1="71.3" y2="71.3" stroke="#222" stroke-width="1.3"/>
<line x1="164.7" x2="164.7" y1="65.8" y2="77.2" stroke="#222" stroke-width="1.3"/>
<line x1="168.7" x2="168.7" y1="65.8" y2="77.2" stroke="#222" stroke-width="1.3"/>
<polyline points="191.2,51 197.7,51 198.95,48.4 201.45,53.6 203.95,48.4 206.45,53.6 208.95,48.4 211.45,53.6 212.7,51 219.4,51" fill="none" stroke="#222" stroke-width="1.1" stroke-linejoin="miter"/>
<line x1="191.2" x2="191.2" y1="51.0" y2="71.3" stroke="#222" stroke-width="1.3"/>
<line x1="219.4" x2="219.4" y1="51.0" y2="71.3" stroke="#222" stroke-width="1.3"/>
<line x1="191.2" x2="203.3" y1="71.3" y2="71.3" stroke="#222" stroke-width="1.3"/>
<line x1="207.3" x2="219.4" y1="71.3" y2="71.3" stroke="#222" stroke-width="1.3"/>
<line x1="203.3" x2="203.3" y1="65.8" y2="77.2" stroke="#222" stroke-width="1.3"/>
<line x1="207.3" x2="207.3" y1="65.8" y2="77.2" stroke="#222" stroke-width="1.3"/>
<polyline points="229.8,51 236.3,51 237.55,48.4 240.05,53.6 242.55,48.4 245.05,53.6 247.55,48.4 250.05,53.6 251.3,51 258,51" fill="none" stroke="#222" stroke-width="1.1" stroke-linejoin="miter"/>
<line x1="229.8" x2="229.8" y1="51.0" y2="71.3" stroke="#222" stroke-width="1.3"/>
<line x1="258" x2="258" y1="51.0" y2="71.3" stroke="#222" stroke-width="1.3"/>
<line x1="229.8" x2="241.9" y1="71.3" y2="71.3" stroke="#222" stroke-width="1.3"/>
<line x1="245.9" x2="258" y1="71.3" y2="71.3" stroke="#222" stroke-width="1.3"/>
<line x1="241.9" x2="241.9" y1="65.8" y2="77.2" stroke="#222" stroke-width="1.3"/>
<line x1="245.9" x2="245.9" y1="65.8" y2="77.2" stroke="#222" stroke-width="1.3"/>
<polyline points="268.4,51 274.9,51 276.15,48.4 278.65,53.6 281.15,48.4 283.65,53.6 286.15,48.4 288.65,53.6 289.9,51 296.6,51" fill="none" stroke="#222" stroke-width="1.1" stroke-linejoin="miter"/>
<line x1="268.4" x2="268.4" y1="51.0" y2="71.3" stroke="#222" stroke-width="1.3"/>
<line x1="296.6" x2="296.6" y1="51.0" y2="71.3" stroke="#222" stroke-width="1.3"/>
<line x1="268.4" x2="280.5" y1="71.3" y2="71.3" stroke="#222" stroke-width="1.3"/>
<line x1="284.5" x2="296.6" y1="71.3" y2="71.3" stroke="#222" stroke-width="1.3"/>
<line x1="280.5" x2="280.5" y1="65.8" y2="77.2" stroke="#222" stroke-width="1.3"/>
<line x1="284.5" x2="284.5" y1="65.8" y2="77.2" stroke="#222" stroke-width="1.3"/>
<polyline points="307,51 313.5,51 314.75,48.4 317.25,53.6 319.75,48.4 322.25,53.6 324.75,48.4 327.25,53.6 328.5,51 335.2,51" fill="none" stroke="#222" stroke-width="1.1" stroke-linejoin="miter"/>
<line x1="307" x2="307" y1="51.0" y2="71.3" stroke="#222" stroke-width="1.3"/>
<line x1="335.2" x2="335.2" y1="51.0" y2="71.3" stroke="#222" stroke-width="1.3"/>
<line x1="307" x2="319.1" y1="71.3" y2="71.3" stroke="#222" stroke-width="1.3"/>
<line x1="323.1" x2="335.2" y1="71.3" y2="71.3" stroke="#222" stroke-width="1.3"/>
<line x1="319.1" x2="319.1" y1="65.8" y2="77.2" stroke="#222" stroke-width="1.3"/>
<line x1="323.1" x2="323.1" y1="65.8" y2="77.2" stroke="#222" stroke-width="1.3"/>
<polyline points="349.3,51 355.8,51 357.05,48.4 359.55,53.6 362.05,48.4 364.55,53.6 367.05,48.4 369.55,53.6 370.8,51 377.5,51" fill="none" stroke="#222" stroke-width="1.1" stroke-linejoin="miter"/>
<line x1="349.3" x2="349.3" y1="51.0" y2="71.3" stroke="#222" stroke-width="1.3"/>
<line x1="377.5" x2="377.5" y1="51.0" y2="71.3" stroke="#222" stroke-width="1.3"/>
<line x1="349.3" x2="361.4" y1="71.3" y2="71.3" stroke="#222" stroke-width="1.3"/>
<line x1="365.4" x2="377.5" y1="71.3" y2="71.3" stroke="#222" stroke-width="1.3"/>
<line x1="361.4" x2="361.4" y1="65.8" y2="77.2" stroke="#222" stroke-width="1.3"/>
<line x1="365.4" x2="365.4" y1="65.8" y2="77.2" stroke="#222" stroke-width="1.3"/>
<polyline points="388.1,51 394.6,51 395.85,48.4 398.35,53.6 400.85,48.4 403.35,53.6 405.85,48.4 408.35,53.6 409.6,51 416.3,51" fill="none" stroke="#222" stroke-width="1.1" stroke-linejoin="miter"/>
<line x1="388.1" x2="388.1" y1="51.0" y2="71.3" stroke="#222" stroke-width="1.3"/>
<line x1="416.3" x2="416.3" y1="51.0" y2="71.3" stroke="#222" stroke-width="1.3"/>
<line x1="388.1" x2="400.2" y1="71.3" y2="71.3" stroke="#222" stroke-width="1.3"/>
<line x1="404.2" x2="416.3" y1="71.3" y2="71.3" stroke="#222" stroke-width="1.3"/>
<line x1="400.2" x2="400.2" y1="65.8" y2="77.2" stroke="#222" stroke-width="1.3"/>
<line x1="404.2" x2="404.2" y1="65.8" y2="77.2" stroke="#222" stroke-width="1.3"/>
<polyline points="426.9,51 433.4,51 434.65,48.4 437.15,53.6 439.65,48.4 442.15,53.6 444.65,48.4 447.15,53.6 448.4,51 455.1,51" fill="none" stroke="#222" stroke-width="1.1" stroke-linejoin="miter"/>
<line x1="426.9" x2="426.9" y1="51.0" y2="71.3" stroke="#222" stroke-width="1.3"/>
<line x1="455.1" x2="455.1" y1="51.0" y2="71.3" stroke="#222" stroke-width="1.3"/>
<line x1="426.9" x2="439" y1="71.3" y2="71.3" stroke="#222" stroke-width="1.3"/>
<line x1="443" x2="455.1" y1="71.3" y2="71.3" stroke="#222" stroke-width="1.3"/>
<line x1="439" x2="439" y1="65.8" y2="77.2" stroke="#222" stroke-width="1.3"/>
<line x1="443" x2="443" y1="65.8" y2="77.2" stroke="#222" stroke-width="1.3"/>
<polyline points="465.7,51 472.2,51 473.45,48.4 475.95,53.6 478.45,48.4 480.95,53.6 483.45,48.4 485.95,53.6 487.2,51 493.9,51" fill="none" stroke="#222" stroke-width="1.1" stroke-linejoin="miter"/>
<line x1="465.7" x2="465.7" y1="51.0" y2="71.3" stroke="#222" stroke-width="1.3"/>
<line x1="493.9" x2="493.9" y1="51.0" y2="71.3" stroke="#222" stroke-width="1.3"/>
<line x1="465.7" x2="477.8" y1="71.3" y2="71.3" stroke="#222" stroke-width="1.3"/>
<line x1="481.8" x2="493.9" y1="71.3" y2="71.3" stroke="#222" stroke-width="1.3"/>
<line x1="477.8" x2="477.8" y1="65.8" y2="77.2" stroke="#222" stroke-width="1.3"/>
<line x1="481.8" x2="481.8" y1="65.8" y2="77.2" stroke="#222" stroke-width="1.3"/>
<polyline points="504.5,51 511,51 512.25,48.4 514.75,53.6 517.25,48.4 519.75,53.6 522.25,48.4 524.75,53.6 526,51 532.7,51" fill="none" stroke="#222" stroke-width="1.1" stroke-linejoin="miter"/>
<line x1="504.5" x2="504.5" y1="51.0" y2="71.3" stroke="#222" stroke-width="1.3"/>
<line x1="532.7" x2="532.7" y1="51.0" y2="71.3" stroke="#222" stroke-width="1.3"/>
<line x1="504.5" x2="516.6" y1="71.3" y2="71.3" stroke="#222" stroke-width="1.3"/>
<line x1="520.6" x2="532.7" y1="71.3" y2="71.3" stroke="#222" stroke-width="1.3"/>
<line x1="516.6" x2="516.6" y1="65.8" y2="77.2" stroke="#222" stroke-width="1.3"/>
<line x1="520.6" x2="520.6" y1="65.8" y2="77.2" stroke="#222" stroke-width="1.3"/>
<polyline points="543.3,51 549.8,51 551.05,48.4 553.55,53.6 556.05,48.4 558.55,53.6 561.05,48.4 563.55,53.6 564.8,51 571.5,51" fill="none" stroke="#222" stroke-width="1.1" stroke-linejoin="miter"/>
<line x1="543.3" x2="543.3" y1="51.0" y2="71.3" stroke="#222" stroke-width="1.3"/>
<line x1="571.5" x2="571.5" y1="51.0" y2="71.3" stroke="#222" stroke-width="1.3"/>
<line x1="543.3" x2="555.4" y1="71.3" y2="71.3" stroke="#222" stroke-width="1.3"/>
<line x1="559.4" x2="571.5" y1="71.3" y2="71.3" stroke="#222" stroke-width="1.3"/>
<line x1="555.4" x2="555.4" y1="65.8" y2="77.2" stroke="#222" stroke-width="1.3"/>
<line x1="559.4" x2="559.4" y1="65.8" y2="77.2" stroke="#222" stroke-width="1.3"/>
<polyline points="582.1,51 588.6,51 589.85,48.4 592.35,53.6 594.85,48.4 597.35,53.6 599.85,48.4 602.35,53.6 603.6,51 610.3,51" fill="none" stroke="#222" stroke-width="1.1" stroke-linejoin="miter"/>
<line x1="582.1" x2="582.1" y1="51.0" y2="71.3" stroke="#222" stroke-width="1.3"/>
<line x1="610.3" x2="610.3" y1="51.0" y2="71.3" stroke="#222" stroke-width="1.3"/>
<line x1="582.1" x2="594.2" y1="71.3" y2="71.3" stroke="#222" stroke-width="1.3"/>
<line x1="598.2" x2="610.3" y1="71.3" y2="71.3" stroke="#222" stroke-width="1.3"/>
<line x1="594.2" x2="594.2" y1="65.8" y2="77.2" stroke="#222" stroke-width="1.3"/>
<line x1="598.2" x2="598.2" y1="65.8" y2="77.2" stroke="#222" stroke-width="1.3"/>
<polyline points="620.9,51 627.4,51 628.65,48.4 631.15,53.6 633.65,48.4 636.15,53.6 638.65,48.4 641.15,53.6 642.4,51 649.1,51" fill="none" stroke="#222" stroke-width="1.1" stroke-linejoin="miter"/>
<line x1="620.9" x2="620.9" y1="51.0" y2="71.3" stroke="#222" stroke-width="1.3"/>
<line x1="649.1" x2="649.1" y1="51.0" y2="71.3" stroke="#222" stroke-width="1.3"/>
<line x1="620.9" x2="633" y1="71.3" y2="71.3" stroke="#222" stroke-width="1.3"/>
<line x1="637" x2="649.1" y1="71.3" y2="71.3" stroke="#222" stroke-width="1.3"/>
<line x1="633" x2="633" y1="65.8" y2="77.2" stroke="#222" stroke-width="1.3"/>
<line x1="637" x2="637" y1="65.8" y2="77.2" stroke="#222" stroke-width="1.3"/>
<rect x="338" y="45" width="9" height="199" fill="#ffffff"/>
<line x1="343" x2="343" y1="44.8" y2="244" stroke="#000" stroke-width="3.4" stroke-dasharray="11.7 9.3" stroke-dashoffset="-0.4"/>
<rect x="361.8" y="98.8" width="14.6" height="82.4" fill="url(#epsg)" stroke="#000" stroke-width="1"/>
<line x1="361.8" x2="364.3" y1="99.9" y2="99.9" stroke="#000" stroke-width="1.3"/>
<text x="359.8" y="107.2" text-anchor="end" class="b" font-size="8.5">80</text>
<line x1="361.8" x2="364.3" y1="142.0" y2="142.0" stroke="#000" stroke-width="1.3"/>
<text x="359.8" y="145.4" text-anchor="end" class="b" font-size="8.5">40</text>
<line x1="361.8" x2="364.3" y1="180.6" y2="180.6" stroke="#000" stroke-width="1.3"/>
<text x="359.8" y="181.7" text-anchor="end" class="b" font-size="8.5">1</text>
<text x="365.3" y="94.6" font-family="Liberation Serif" font-style="italic" font-weight="bold" font-size="12" fill="#111">ϵ</text>
<text x="370.8" y="97.2" class="b" font-size="8" fill="#111">r</text>
<text x="11" y="13.5" class="b" font-size="24">a</text>
<text x="257.6" y="11" class="b" font-size="12.7" textLength="117.2" lengthAdjust="spacingAndGlyphs">Electrode Potential</text>
<text x="378.5" y="11" class="b" font-size="12.7">V<tspan font-size="9" dy="2">0</tspan><tspan dy="-2"> -ϕ</tspan><tspan font-size="9" dy="2">pzc</tspan><tspan dy="-2">(V)</tspan></text>
<rect x="148.5" y="16.4" width="185.7" height="13.2" fill="url(#cbL)" stroke="#111" stroke-width="1.2"/>
<rect x="346.7" y="16.4" width="186.1" height="13.2" fill="url(#cbR)" stroke="#111" stroke-width="1.2"/>
<text x="149.5" y="42" class="b" font-size="11">-1</text>
<text x="532.5" y="42" class="b" font-size="11" text-anchor="end">1</text>
<text x="335.8" y="39.3" class="b" font-size="13">ϕ<tspan font-size="9" dy="1.6">pzc</tspan></text>
<path d="M35,249.2 V253.3 Q35,254.6 36.3,254.6 H69.7 Q71,254.6 71,253.3 V249.2" fill="none" stroke="#1e5f80" stroke-width="2.3"/>
<path d="M73.5,249.2 V253.3 Q73.5,254.6 74.8,254.6 H142.1 Q143.4,254.6 143.4,253.3 V249.2" fill="none" stroke="#1e5f80" stroke-width="2.3"/>
<path d="M147.5,249.2 V253.3 Q147.5,254.6 148.8,254.6 H282.1 Q283.4,254.6 283.4,253.3 V249.2" fill="none" stroke="#1e5f80" stroke-width="2.3"/>
<path d="M286.9,249.2 V253.3 Q286.9,254.6 288.2,254.6 H369.4 Q370.7,254.6 370.7,253.3 V249.2" fill="none" stroke="#1e5f80" stroke-width="2.3"/>
<path d="M373,249.2 V253.3 Q373,254.6 374.3,254.6 H461 Q462.3,254.6 462.3,253.3 V249.2" fill="none" stroke="#1e5f80" stroke-width="2.3"/>
<path d="M465.6,249.2 V253.3 Q465.6,254.6 466.9,254.6 H630 Q631.3,254.6 631.3,253.3 V249.2" fill="none" stroke="#1e5f80" stroke-width="2.3"/>
<path d="M634.3,249.2 V253.3 Q634.3,254.6 635.6,254.6 H650.6 Q651.9,254.6 651.9,253.3 V249.2" fill="none" stroke="#1e5f80" stroke-width="2.3"/>
<text x="41.5" y="271.2" class="b" font-size="11" text-anchor="middle">Stern</text>
<text x="42.3" y="283.8" class="b" font-size="11" text-anchor="middle">layer</text>
<text x="108.6" y="271.2" class="b" font-size="11" text-anchor="middle">Compact</text>
<text x="109.39999999999999" y="283.8" class="b" font-size="11" text-anchor="middle">layer</text>
<text x="209.5" y="271.2" class="b" font-size="11" text-anchor="middle">Diffusion</text>
<text x="210.3" y="283.8" class="b" font-size="11" text-anchor="middle">layer</text>
<text x="332.6" y="271.2" class="b" font-size="11" text-anchor="middle">Bulk</text>
<text x="333.40000000000003" y="283.8" class="b" font-size="11" text-anchor="middle">layer</text>
<text x="425.4" y="271.2" class="b" font-size="11" text-anchor="middle">Diffusion</text>
<text x="426.2" y="283.8" class="b" font-size="11" text-anchor="middle">layer</text>
<text x="543.2" y="271.2" class="b" font-size="11" text-anchor="middle">Compact</text>
<text x="544.0" y="283.8" class="b" font-size="11" text-anchor="middle">layer</text>
<text x="645.7" y="271.2" class="b" font-size="11" text-anchor="middle">Stern</text>
<text x="646.5" y="283.8" class="b" font-size="11" text-anchor="middle">layer</text>
<text transform="translate(8,101.6) rotate(90)" class="r" font-size="24.5" fill="#ffffff">Cathode</text>
<text transform="translate(660,111) rotate(90)" class="r" font-size="24.5" fill="#ffffff">Anode</text>
<text x="11" y="311" class="b" font-size="24">b</text>
<clipPath id="clipb"><rect x="55.5" y="339" width="230.6" height="200.5"/></clipPath>
<g clip-path="url(#clipb)"><path d="M55.3,526.6 C56.58,525.75 60.37,523.27 63,521.5 C65.63,519.73 68.02,518.42 71.1,516 C74.18,513.58 77.97,510.22 81.5,507 C85.03,503.78 88.75,500.15 92.3,496.7 C95.85,493.25 99.28,489.82 102.8,486.3 C106.32,482.78 110.2,478.73 113.4,475.6 C116.6,472.47 119.07,470.15 122,467.5 C124.93,464.85 128.33,462.03 131,459.7 C133.67,457.37 135.67,455.55 138,453.5 C140.33,451.45 142.67,449.1 145,447.4 C147.33,445.7 149.63,444.47 152,443.3 C154.37,442.13 156.7,441.35 159.2,440.4 C161.7,439.45 164.37,438.5 167,437.6 C169.63,436.7 172.98,435.72 175,435 C177.02,434.28 177.27,434.1 179.1,433.3 C180.93,432.5 183.45,431.37 186,430.2 C188.55,429.03 191.2,428.63 194.4,426.3 C197.6,423.97 202.27,419.05 205.2,416.2 C208.13,413.35 209.58,411.6 212,409.2 C214.42,406.8 217.12,404.3 219.7,401.8 C222.28,399.3 224.88,396.58 227.5,394.2 C230.12,391.82 232.65,389.87 235.4,387.5 C238.15,385.13 241.07,382.33 244,380 C246.93,377.67 250.08,375.67 253,373.5 C255.92,371.33 258.57,369.07 261.5,367 C264.43,364.93 267.77,362.83 270.6,361.1 C273.43,359.37 275.85,357.95 278.5,356.6 C281.15,355.25 285.17,353.6 286.5,353" fill="none" stroke="#8a0c1c" stroke-width="3"/>
<path d="M55.3,447 C56.25,445.5 58.95,441.45 61,438 C63.05,434.55 65.1,431.05 67.6,426.3 C70.1,421.55 73.07,415.08 76,409.5 C78.93,403.92 82.2,398.05 85.2,392.8 C88.2,387.55 91.07,382.4 94,378 C96.93,373.6 100.13,369.63 102.8,366.4 C105.47,363.17 107.65,360.65 110,358.6 C112.35,356.55 115.17,354.97 116.9,354.1 C118.63,353.23 119.3,353.28 120.4,353.4 C121.5,353.52 122.62,354.1 123.5,354.8 C124.38,355.5 124.62,355.4 125.7,357.6 C126.78,359.8 128.53,363.88 130,368 C131.47,372.12 132.83,376.22 134.5,382.3 C136.17,388.38 138.25,396.88 140,404.5 C141.75,412.12 143.28,420 145,428 C146.72,436 148.53,444.28 150.3,452.5 C152.07,460.72 153.82,469.38 155.6,477.3 C157.38,485.22 159.23,492.95 161,500 C162.77,507.05 164.57,514.87 166.2,519.6 C167.83,524.33 169.33,528.42 170.8,528.4 C172.27,528.38 173.62,524.48 175,519.5 C176.38,514.52 177.25,507.88 179.1,498.5 C180.95,489.12 183.75,474.37 186.1,463.2 C188.45,452.03 190.85,441.47 193.2,431.5 C195.55,421.53 197.85,411.6 200.2,403.4 C202.55,395.2 204.95,388.05 207.3,382.3 C209.65,376.55 212.08,371.72 214.3,368.9 C216.52,366.08 218.25,365.22 220.6,365.4 C222.95,365.58 225.35,366.6 228.4,370 C231.45,373.4 235.38,379.65 238.9,385.8 C242.42,391.95 245.97,399.28 249.5,406.9 C253.03,414.52 256.58,423.28 260.1,431.5 C263.62,439.72 267.38,449.15 270.6,456.2 C273.82,463.25 276.75,468.52 279.4,473.8 C282.05,479.08 285.32,485.55 286.5,487.9" fill="none" stroke="#173765" stroke-width="3"/></g>
<path d="M55.5,339.4 H286.1" stroke="#1a1a1a" stroke-width="2.3" fill="none"/>
<path d="M55.5,539.5 H286.1" stroke="#1a1a1a" stroke-width="2.3" fill="none"/>
<path d="M55.5,338.3 V540.6" stroke="#1a1a1a" stroke-width="2.3" fill="none"/>
<path d="M286.1,338.3 V540.6" stroke="#8a0c1c" stroke-width="2.3" fill="none"/>
<line x1="55.5" x2="59.2" y1="529.9" y2="529.9" stroke="#1a1a1a" stroke-width="2"/>
<text x="51.2" y="534.6" class="r" font-size="13" text-anchor="end" fill="#222">20</text>
<line x1="55.5" x2="59.2" y1="500.8" y2="500.8" stroke="#1a1a1a" stroke-width="2"/>
<text x="51.2" y="505.5" class="r" font-size="13" text-anchor="end" fill="#222">30</text>
<line x1="55.5" x2="59.2" y1="471.7" y2="471.7" stroke="#1a1a1a" stroke-width="2"/>
<text x="51.2" y="476.4" class="r" font-size="13" text-anchor="end" fill="#222">40</text>
<line x1="55.5" x2="59.2" y1="442.6" y2="442.6" stroke="#1a1a1a" stroke-width="2"/>
<text x="51.2" y="447.3" class="r" font-size="13" text-anchor="end" fill="#222">50</text>
<line x1="55.5" x2="59.2" y1="413.5" y2="413.5" stroke="#1a1a1a" stroke-width="2"/>
<text x="51.2" y="418.2" class="r" font-size="13" text-anchor="end" fill="#222">60</text>
<line x1="55.5" x2="59.2" y1="384.4" y2="384.4" stroke="#1a1a1a" stroke-width="2"/>
<text x="51.2" y="389.1" class="r" font-size="13" text-anchor="end" fill="#222">70</text>
<line x1="55.5" x2="59.2" y1="355.3" y2="355.3" stroke="#1a1a1a" stroke-width="2"/>
<text x="51.2" y="360" class="r" font-size="13" text-anchor="end" fill="#222">80</text>
<line x1="282.5" x2="286.1" y1="524" y2="524" stroke="#8a0c1c" stroke-width="2"/>
<text x="290.5" y="528.7" class="r" font-size="13" fill="#8a0c1c">-30</text>
<line x1="282.5" x2="286.1" y1="494.5" y2="494.5" stroke="#8a0c1c" stroke-width="2"/>
<text x="290.5" y="499.2" class="r" font-size="13" fill="#8a0c1c">-20</text>
<line x1="282.5" x2="286.1" y1="465" y2="465" stroke="#8a0c1c" stroke-width="2"/>
<text x="290.5" y="469.7" class="r" font-size="13" fill="#8a0c1c">-10</text>
<line x1="282.5" x2="286.1" y1="435.5" y2="435.5" stroke="#8a0c1c" stroke-width="2"/>
<text x="290.5" y="440.2" class="r" font-size="13" fill="#8a0c1c">0</text>
<line x1="282.5" x2="286.1" y1="406" y2="406" stroke="#8a0c1c" stroke-width="2"/>
<text x="290.5" y="410.7" class="r" font-size="13" fill="#8a0c1c">10</text>
<line x1="282.5" x2="286.1" y1="376.5" y2="376.5" stroke="#8a0c1c" stroke-width="2"/>
<text x="290.5" y="381.2" class="r" font-size="13" fill="#8a0c1c">20</text>
<line x1="282.5" x2="286.1" y1="347" y2="347" stroke="#8a0c1c" stroke-width="2"/>
<text x="290.5" y="351.7" class="r" font-size="13" fill="#8a0c1c">30</text>
<line x1="55.7" x2="55.7" y1="539.5" y2="535.8" stroke="#1a1a1a" stroke-width="2"/>
<line x1="55.7" x2="55.7" y1="339.2" y2="342.9" stroke="#1a1a1a" stroke-width="2"/>
<text x="55.7" y="556.5" class="r" font-size="13" text-anchor="middle" fill="#222">-0.5</text>
<line x1="170.9" x2="170.9" y1="539.5" y2="535.8" stroke="#1a1a1a" stroke-width="2"/>
<line x1="170.9" x2="170.9" y1="339.2" y2="342.9" stroke="#1a1a1a" stroke-width="2"/>
<text x="170.9" y="556.5" class="r" font-size="13" text-anchor="middle" fill="#222">0</text>
<line x1="286.1" x2="286.1" y1="539.5" y2="535.8" stroke="#1a1a1a" stroke-width="2"/>
<line x1="286.1" x2="286.1" y1="339.2" y2="342.9" stroke="#1a1a1a" stroke-width="2"/>
<text x="286.1" y="556.5" class="r" font-size="13" text-anchor="middle" fill="#222">0.5</text>
<text x="67.4" y="578.5" class="r" font-size="16" fill="#222">Electrode Potential vs PZC(V)</text>
<text transform="translate(21.9,568) rotate(-90)" class="r" font-size="16" fill="#222">Differential Capacitance (uF cm<tspan font-size="11" dy="-6">-2</tspan><tspan dy="6">)</tspan></text>
<text transform="translate(333,572.3) rotate(-90)" class="r" font-size="16" fill="#8a0c1c">Electrode Charge Density (uC cm<tspan font-size="11" dy="-6">-2</tspan><tspan dy="6">)</tspan></text>
<text x="344" y="311" class="b" font-size="24">c</text>
<clipPath id="clipc"><rect x="391.7" y="342.5" width="230" height="197.5"/></clipPath>
<g clip-path="url(#clipc)">
<path d="M390.7,354.36 L392.25,354.36 L393.81,354.37 L395.37,354.37 L396.92,354.37 L398.47,354.37 L400.03,354.37 L401.58,354.38 L403.14,354.38 L404.69,354.39 L406.25,354.39 L407.81,354.4 L409.36,354.4 L410.91,354.41 L412.47,354.41 L414.02,354.42 L415.58,354.43 L417.13,354.44 L418.69,354.45 L420.25,354.45 L421.8,354.46 L423.36,354.47 L424.91,354.48 L426.46,354.49 L428.02,354.5 L429.57,354.51 L431.13,354.52 L432.69,354.54 L434.24,354.55 L435.8,354.56 L437.35,354.57 L438.9,354.58 L440.46,354.59 L442.01,354.6 L443.57,354.62 L445.12,354.63 L446.68,354.64 L448.24,354.65 L449.79,354.66 L451.35,354.68 L452.9,354.69 L454.45,354.7 L456.01,354.71 L457.56,354.72 L459.12,354.73 L460.68,354.74 L462.23,354.76 L463.78,354.77 L465.34,354.78 L466.89,354.79 L468.45,354.8 L470,354.81 L471.56,354.82 L473.12,354.83 L474.67,354.84 L476.23,354.85 L477.78,354.86 L479.33,354.87 L480.89,354.88 L482.44,354.89 L484,354.89 L485.56,354.9 L487.11,354.91 L488.67,354.92 L490.22,354.93 L491.77,354.93 L493.33,354.94 L494.88,354.95 L496.44,354.95 L498,354.96 L499.55,354.97 L501.11,354.97 L502.66,354.98 L504.22,354.98 L505.77,354.99 L507.32,354.99 L508.88,355 L510.44,355 L511.99,355.01 L513.54,355.01 L515.1,355.02 L516.65,355.02 L518.21,355.02 L519.76,355.03 L521.32,355.03 L522.88,355.03 L524.43,355.04 L525.99,355.04 L527.54,355.04 L529.1,355.04 L530.65,355.05 L532.2,355.05 L533.76,355.05 L535.32,355.05 L536.87,355.05 L538.42,355.06 L539.98,355.06 L541.54,355.06 L543.09,355.06 L544.64,355.06 L546.2,355.06 L547.75,355.06 L549.31,355.07 L550.87,355.07 L552.42,355.07 L564.86,355.07 L577.3,355.08 L595.96,355.08 L614.62,355.08 L627.06,355.08" fill="none" stroke="#dca8ad" stroke-width="2.6"/>
<path d="M390.7,358.3 L392.25,358.3 L393.81,358.3 L395.37,358.29 L396.92,358.28 L398.47,358.27 L400.03,358.26 L401.58,358.24 L403.14,358.23 L404.69,358.21 L406.25,358.18 L407.81,358.16 L409.36,358.13 L410.91,358.1 L412.47,358.07 L414.02,358.04 L415.58,358.01 L417.13,357.97 L418.69,357.93 L420.25,357.89 L421.8,357.85 L423.36,357.81 L424.91,357.77 L426.46,357.72 L428.02,357.68 L429.57,357.63 L431.13,357.58 L432.69,357.53 L434.24,357.48 L435.8,357.43 L437.35,357.38 L438.9,357.33 L440.46,357.27 L442.01,357.22 L443.57,357.17 L445.12,357.12 L446.68,357.06 L448.24,357.01 L449.79,356.95 L451.35,356.9 L452.9,356.85 L454.45,356.8 L456.01,356.74 L457.56,356.69 L459.12,356.64 L460.68,356.59 L462.23,356.54 L463.78,356.49 L465.34,356.44 L466.89,356.39 L468.45,356.34 L470,356.29 L471.56,356.25 L473.12,356.2 L474.67,356.16 L476.23,356.12 L477.78,356.07 L479.33,356.03 L480.89,355.99 L482.44,355.95 L484,355.92 L485.56,355.88 L487.11,355.84 L488.67,355.81 L490.22,355.77 L491.77,355.74 L493.33,355.71 L494.88,355.68 L496.44,355.65 L498,355.62 L499.55,355.59 L501.11,355.57 L502.66,355.54 L504.22,355.52 L505.77,355.49 L507.32,355.47 L508.88,355.45 L510.44,355.43 L511.99,355.41 L513.54,355.39 L515.1,355.37 L516.65,355.36 L518.21,355.34 L519.76,355.32 L521.32,355.31 L522.88,355.29 L524.43,355.28 L525.99,355.27 L527.54,355.26 L529.1,355.25 L530.65,355.23 L532.2,355.22 L533.76,355.21 L535.32,355.21 L536.87,355.2 L538.42,355.19 L539.98,355.18 L541.54,355.17 L543.09,355.17 L544.64,355.16 L546.2,355.16 L547.75,355.15 L549.31,355.15 L550.87,355.14 L552.42,355.14 L564.86,355.11 L577.3,355.09 L595.96,355.08 L614.62,355.08 L627.06,355.08" fill="none" stroke="#cf878f" stroke-width="2.6"/>
<path d="M390.7,366.54 L392.25,366.53 L393.81,366.52 L395.37,366.5 L396.92,366.47 L398.47,366.43 L400.03,366.39 L401.58,366.34 L403.14,366.28 L404.69,366.21 L406.25,366.14 L407.81,366.05 L409.36,365.96 L410.91,365.87 L412.47,365.76 L414.02,365.65 L415.58,365.54 L417.13,365.42 L418.69,365.29 L420.25,365.15 L421.8,365.01 L423.36,364.87 L424.91,364.72 L426.46,364.57 L428.02,364.41 L429.57,364.25 L431.13,364.08 L432.69,363.92 L434.24,363.74 L435.8,363.57 L437.35,363.39 L438.9,363.21 L440.46,363.03 L442.01,362.85 L443.57,362.67 L445.12,362.48 L446.68,362.3 L448.24,362.11 L449.79,361.93 L451.35,361.74 L452.9,361.56 L454.45,361.37 L456.01,361.19 L457.56,361.01 L459.12,360.83 L460.68,360.65 L462.23,360.47 L463.78,360.3 L465.34,360.12 L466.89,359.95 L468.45,359.78 L470,359.62 L471.56,359.45 L473.12,359.29 L474.67,359.13 L476.23,358.98 L477.78,358.83 L479.33,358.68 L480.89,358.54 L482.44,358.39 L484,358.26 L485.56,358.12 L487.11,357.99 L488.67,357.87 L490.22,357.74 L491.77,357.62 L493.33,357.51 L494.88,357.39 L496.44,357.29 L498,357.18 L499.55,357.08 L501.11,356.98 L502.66,356.89 L504.22,356.8 L505.77,356.71 L507.32,356.62 L508.88,356.54 L510.44,356.47 L511.99,356.39 L513.54,356.32 L515.1,356.25 L516.65,356.19 L518.21,356.12 L519.76,356.06 L521.32,356.01 L522.88,355.95 L524.43,355.9 L525.99,355.85 L527.54,355.81 L529.1,355.76 L530.65,355.72 L532.2,355.68 L533.76,355.64 L535.32,355.61 L536.87,355.57 L538.42,355.54 L539.98,355.51 L541.54,355.48 L543.09,355.45 L544.64,355.43 L546.2,355.4 L547.75,355.38 L549.31,355.36 L550.87,355.34 L552.42,355.32 L564.86,355.21 L577.3,355.15 L595.96,355.1 L614.62,355.09 L627.06,355.08" fill="none" stroke="#c46c77" stroke-width="2.6"/>
<path d="M390.7,372.62 L392.25,372.62 L393.81,372.6 L395.37,372.57 L396.92,372.52 L398.47,372.47 L400.03,372.4 L401.58,372.32 L403.14,372.23 L404.69,372.12 L406.25,372.01 L407.81,371.88 L409.36,371.74 L410.91,371.6 L412.47,371.44 L414.02,371.27 L415.58,371.09 L417.13,370.91 L418.69,370.71 L420.25,370.51 L421.8,370.29 L423.36,370.07 L424.91,369.84 L426.46,369.61 L428.02,369.37 L429.57,369.12 L431.13,368.87 L432.69,368.61 L434.24,368.35 L435.8,368.08 L437.35,367.81 L438.9,367.54 L440.46,367.26 L442.01,366.98 L443.57,366.7 L445.12,366.42 L446.68,366.14 L448.24,365.85 L449.79,365.57 L451.35,365.28 L452.9,365 L454.45,364.72 L456.01,364.44 L457.56,364.16 L459.12,363.88 L460.68,363.61 L462.23,363.33 L463.78,363.07 L465.34,362.8 L466.89,362.54 L468.45,362.28 L470,362.02 L471.56,361.77 L473.12,361.53 L474.67,361.29 L476.23,361.05 L477.78,360.82 L479.33,360.59 L480.89,360.37 L482.44,360.16 L484,359.95 L485.56,359.74 L487.11,359.54 L488.67,359.35 L490.22,359.16 L491.77,358.97 L493.33,358.8 L494.88,358.62 L496.44,358.46 L498,358.3 L499.55,358.14 L501.11,357.99 L502.66,357.85 L504.22,357.71 L505.77,357.57 L507.32,357.44 L508.88,357.32 L510.44,357.2 L511.99,357.09 L513.54,356.98 L515.1,356.87 L516.65,356.77 L518.21,356.68 L519.76,356.59 L521.32,356.5 L522.88,356.42 L524.43,356.34 L525.99,356.26 L527.54,356.19 L529.1,356.12 L530.65,356.06 L532.2,356 L533.76,355.94 L535.32,355.89 L536.87,355.83 L538.42,355.78 L539.98,355.74 L541.54,355.69 L543.09,355.65 L544.64,355.61 L546.2,355.58 L547.75,355.54 L549.31,355.51 L550.87,355.48 L552.42,355.45 L564.86,355.28 L577.3,355.18 L595.96,355.12 L614.62,355.09 L627.06,355.08" fill="none" stroke="#b95662" stroke-width="2.6"/>
<path d="M390.7,381.57 L392.25,381.56 L393.81,381.53 L395.37,381.49 L396.92,381.42 L398.47,381.34 L400.03,381.23 L401.58,381.11 L403.14,380.97 L404.69,380.82 L406.25,380.64 L407.81,380.45 L409.36,380.25 L410.91,380.02 L412.47,379.79 L414.02,379.53 L415.58,379.26 L417.13,378.98 L418.69,378.68 L420.25,378.37 L421.8,378.05 L423.36,377.72 L424.91,377.38 L426.46,377.02 L428.02,376.66 L429.57,376.28 L431.13,375.9 L432.69,375.51 L434.24,375.12 L435.8,374.71 L437.35,374.31 L438.9,373.89 L440.46,373.47 L442.01,373.05 L443.57,372.63 L445.12,372.2 L446.68,371.78 L448.24,371.35 L449.79,370.92 L451.35,370.49 L452.9,370.06 L454.45,369.64 L456.01,369.21 L457.56,368.79 L459.12,368.37 L460.68,367.96 L462.23,367.55 L463.78,367.14 L465.34,366.74 L466.89,366.34 L468.45,365.95 L470,365.57 L471.56,365.19 L473.12,364.82 L474.67,364.45 L476.23,364.1 L477.78,363.75 L479.33,363.41 L480.89,363.07 L482.44,362.75 L484,362.43 L485.56,362.12 L487.11,361.82 L488.67,361.52 L490.22,361.24 L491.77,360.96 L493.33,360.69 L494.88,360.43 L496.44,360.18 L498,359.94 L499.55,359.7 L501.11,359.48 L502.66,359.26 L504.22,359.05 L505.77,358.85 L507.32,358.65 L508.88,358.46 L510.44,358.28 L511.99,358.11 L513.54,357.95 L515.1,357.79 L516.65,357.64 L518.21,357.49 L519.76,357.36 L521.32,357.23 L522.88,357.1 L524.43,356.98 L525.99,356.87 L527.54,356.76 L529.1,356.66 L530.65,356.56 L532.2,356.47 L533.76,356.38 L535.32,356.3 L536.87,356.22 L538.42,356.14 L539.98,356.07 L541.54,356.01 L543.09,355.95 L544.64,355.89 L546.2,355.83 L547.75,355.78 L549.31,355.73 L550.87,355.68 L552.42,355.64 L564.86,355.38 L577.3,355.24 L595.96,355.13 L614.62,355.1 L627.06,355.09" fill="none" stroke="#b0434f" stroke-width="2.6"/>
<path d="M390.7,390.88 L392.25,390.87 L393.81,390.83 L395.37,390.77 L396.92,390.68 L398.47,390.56 L400.03,390.42 L401.58,390.26 L403.14,390.07 L404.69,389.86 L406.25,389.63 L407.81,389.37 L409.36,389.09 L410.91,388.79 L412.47,388.47 L414.02,388.12 L415.58,387.76 L417.13,387.38 L418.69,386.98 L420.25,386.56 L421.8,386.13 L423.36,385.68 L424.91,385.21 L426.46,384.73 L428.02,384.24 L429.57,383.73 L431.13,383.22 L432.69,382.69 L434.24,382.16 L435.8,381.61 L437.35,381.06 L438.9,380.5 L440.46,379.94 L442.01,379.37 L443.57,378.8 L445.12,378.22 L446.68,377.64 L448.24,377.06 L449.79,376.48 L451.35,375.9 L452.9,375.33 L454.45,374.75 L456.01,374.18 L457.56,373.61 L459.12,373.04 L460.68,372.48 L462.23,371.93 L463.78,371.38 L465.34,370.83 L466.89,370.3 L468.45,369.77 L470,369.25 L471.56,368.74 L473.12,368.24 L474.67,367.75 L476.23,367.27 L477.78,366.79 L479.33,366.33 L480.89,365.88 L482.44,365.44 L484,365.01 L485.56,364.59 L487.11,364.18 L488.67,363.79 L490.22,363.4 L491.77,363.03 L493.33,362.66 L494.88,362.31 L496.44,361.97 L498,361.65 L499.55,361.33 L501.11,361.02 L502.66,360.73 L504.22,360.44 L505.77,360.17 L507.32,359.91 L508.88,359.65 L510.44,359.41 L511.99,359.18 L513.54,358.96 L515.1,358.74 L516.65,358.54 L518.21,358.34 L519.76,358.16 L521.32,357.98 L522.88,357.81 L524.43,357.65 L525.99,357.49 L527.54,357.35 L529.1,357.21 L530.65,357.08 L532.2,356.95 L533.76,356.84 L535.32,356.72 L536.87,356.62 L538.42,356.52 L539.98,356.42 L541.54,356.33 L543.09,356.25 L544.64,356.17 L546.2,356.1 L547.75,356.03 L549.31,355.96 L550.87,355.9 L552.42,355.84 L564.86,355.49 L577.3,355.29 L595.96,355.15 L614.62,355.1 L627.06,355.09" fill="none" stroke="#a63240" stroke-width="2.6"/>
<path d="M390.7,404.13 L392.25,404.11 L393.81,404.06 L395.37,403.97 L396.92,403.85 L398.47,403.69 L400.03,403.5 L401.58,403.28 L403.14,403.02 L404.69,402.73 L406.25,402.41 L407.81,402.06 L409.36,401.67 L410.91,401.26 L412.47,400.82 L414.02,400.35 L415.58,399.85 L417.13,399.33 L418.69,398.78 L420.25,398.21 L421.8,397.61 L423.36,397 L424.91,396.36 L426.46,395.7 L428.02,395.03 L429.57,394.34 L431.13,393.63 L432.69,392.91 L434.24,392.17 L435.8,391.43 L437.35,390.67 L438.9,389.91 L440.46,389.13 L442.01,388.35 L443.57,387.57 L445.12,386.78 L446.68,385.99 L448.24,385.2 L449.79,384.4 L451.35,383.61 L452.9,382.82 L454.45,382.03 L456.01,381.24 L457.56,380.46 L459.12,379.69 L460.68,378.92 L462.23,378.16 L463.78,377.41 L465.34,376.66 L466.89,375.93 L468.45,375.21 L470,374.5 L471.56,373.8 L473.12,373.11 L474.67,372.44 L476.23,371.77 L477.78,371.13 L479.33,370.49 L480.89,369.88 L482.44,369.27 L484,368.68 L485.56,368.11 L487.11,367.55 L488.67,367.01 L490.22,366.48 L491.77,365.97 L493.33,365.47 L494.88,364.99 L496.44,364.52 L498,364.07 L499.55,363.64 L501.11,363.22 L502.66,362.82 L504.22,362.43 L505.77,362.05 L507.32,361.69 L508.88,361.35 L510.44,361.01 L511.99,360.69 L513.54,360.39 L515.1,360.1 L516.65,359.82 L518.21,359.55 L519.76,359.29 L521.32,359.05 L522.88,358.82 L524.43,358.6 L525.99,358.39 L527.54,358.19 L529.1,358 L530.65,357.82 L532.2,357.65 L533.76,357.48 L535.32,357.33 L536.87,357.19 L538.42,357.05 L539.98,356.92 L541.54,356.8 L543.09,356.68 L544.64,356.57 L546.2,356.47 L547.75,356.38 L549.31,356.28 L550.87,356.2 L552.42,356.12 L564.86,355.64 L577.3,355.37 L595.96,355.18 L614.62,355.11 L627.06,355.09" fill="none" stroke="#9e2635" stroke-width="2.6"/>
<path d="M390.7,418.09 L392.25,418.07 L393.81,418 L395.37,417.89 L396.92,417.73 L398.47,417.53 L400.03,417.29 L401.58,417 L403.14,416.67 L404.69,416.3 L406.25,415.88 L407.81,415.43 L409.36,414.94 L410.91,414.41 L412.47,413.84 L414.02,413.23 L415.58,412.6 L417.13,411.92 L418.69,411.22 L420.25,410.48 L421.8,409.72 L423.36,408.93 L424.91,408.11 L426.46,407.27 L428.02,406.4 L429.57,405.51 L431.13,404.6 L432.69,403.68 L434.24,402.73 L435.8,401.78 L437.35,400.8 L438.9,399.82 L440.46,398.83 L442.01,397.83 L443.57,396.82 L445.12,395.81 L446.68,394.79 L448.24,393.77 L449.79,392.75 L451.35,391.73 L452.9,390.71 L454.45,389.7 L456.01,388.69 L457.56,387.69 L459.12,386.69 L460.68,385.71 L462.23,384.73 L463.78,383.76 L465.34,382.81 L466.89,381.87 L468.45,380.94 L470,380.02 L471.56,379.13 L473.12,378.24 L474.67,377.38 L476.23,376.53 L477.78,375.7 L479.33,374.88 L480.89,374.09 L482.44,373.31 L484,372.55 L485.56,371.82 L487.11,371.1 L488.67,370.4 L490.22,369.72 L491.77,369.07 L493.33,368.43 L494.88,367.81 L496.44,367.21 L498,366.64 L499.55,366.08 L501.11,365.54 L502.66,365.02 L504.22,364.52 L505.77,364.04 L507.32,363.57 L508.88,363.13 L510.44,362.7 L511.99,362.29 L513.54,361.9 L515.1,361.52 L516.65,361.17 L518.21,360.82 L519.76,360.49 L521.32,360.18 L522.88,359.88 L524.43,359.6 L525.99,359.33 L527.54,359.07 L529.1,358.83 L530.65,358.6 L532.2,358.38 L533.76,358.17 L535.32,357.97 L536.87,357.79 L538.42,357.61 L539.98,357.44 L541.54,357.29 L543.09,357.14 L544.64,357 L546.2,356.87 L547.75,356.74 L549.31,356.63 L550.87,356.52 L552.42,356.42 L564.86,355.8 L577.3,355.45 L595.96,355.21 L614.62,355.12 L627.06,355.1" fill="none" stroke="#981a2a" stroke-width="2.6"/>
<path d="M390.7,468.92 L392.25,468.02 L393.81,467.01 L395.37,465.89 L396.92,464.68 L398.47,463.37 L400.03,461.97 L401.58,460.49 L403.14,458.92 L404.69,457.27 L406.25,455.55 L407.81,453.75 L409.36,451.9 L410.91,449.98 L412.47,448.01 L414.02,445.99 L415.58,443.92 L417.13,441.81 L418.69,439.67 L420.25,437.5 L421.8,435.3 L423.36,433.09 L424.91,430.86 L426.46,428.62 L428.02,426.38 L429.57,424.13 L431.13,421.89 L432.69,419.66 L434.24,417.43 L435.8,415.23 L437.35,413.04 L438.9,410.88 L440.46,408.75 L442.01,406.64 L443.57,404.57 L445.12,402.54 L446.68,400.54 L448.24,398.58 L449.79,396.67 L451.35,394.8 L452.9,392.98 L454.45,391.2 L456.01,389.47 L457.56,387.79 L459.12,386.17 L460.68,384.59 L462.23,383.07 L463.78,381.6 L465.34,380.18 L466.89,378.81 L468.45,377.5 L470,376.23 L471.56,375.02 L473.12,373.86 L474.67,372.75 L476.23,371.69 L477.78,370.67 L479.33,369.71 L480.89,368.79 L482.44,367.91 L484,367.08 L485.56,366.29 L487.11,365.54 L488.67,364.84 L490.22,364.17 L491.77,363.54 L493.33,362.94 L494.88,362.38 L496.44,361.85 L498,361.36 L499.55,360.89 L501.11,360.46 L502.66,360.05 L504.22,359.67 L505.77,359.31 L507.32,358.98 L508.88,358.67 L510.44,358.38 L511.99,358.11 L513.54,357.86 L515.1,357.63 L516.65,357.41 L518.21,357.21 L519.76,357.03 L521.32,356.86 L522.88,356.7 L524.43,356.56 L525.99,356.43 L527.54,356.3 L529.1,356.19 L530.65,356.09 L532.2,356 L533.76,355.91 L535.32,355.83 L536.87,355.76 L538.42,355.69 L539.98,355.63 L541.54,355.58 L543.09,355.53 L544.64,355.48 L546.2,355.44 L547.75,355.41 L549.31,355.37 L550.87,355.34 L552.42,355.31 L564.86,355.17 L577.3,355.11 L595.96,355.09 L614.62,355.08 L627.06,355.08" fill="none" stroke="#920f22" stroke-width="2.6"/>
<path d="M390.7,530.5 L392.25,528.87 L393.81,527.04 L395.37,525.02 L396.92,522.81 L398.47,520.44 L400.03,517.9 L401.58,515.2 L403.14,512.35 L404.69,509.37 L406.25,506.25 L407.81,503.02 L409.36,499.68 L410.91,496.24 L412.47,492.72 L414.02,489.12 L415.58,485.45 L417.13,481.73 L418.69,477.96 L420.25,474.16 L421.8,470.34 L423.36,466.5 L424.91,462.66 L426.46,458.82 L428.02,455 L429.57,451.2 L431.13,447.43 L432.69,443.71 L434.24,440.02 L435.8,436.39 L437.35,432.82 L438.9,429.32 L440.46,425.89 L442.01,422.53 L443.57,419.26 L445.12,416.06 L446.68,412.96 L448.24,409.95 L449.79,407.03 L451.35,404.2 L452.9,401.47 L454.45,398.84 L456.01,396.31 L457.56,393.88 L459.12,391.55 L460.68,389.31 L462.23,387.17 L463.78,385.13 L465.34,383.19 L466.89,381.33 L468.45,379.57 L470,377.9 L471.56,376.32 L473.12,374.83 L474.67,373.41 L476.23,372.08 L477.78,370.82 L479.33,369.64 L480.89,368.53 L482.44,367.49 L484,366.52 L485.56,365.61 L487.11,364.76 L488.67,363.97 L490.22,363.23 L491.77,362.55 L493.33,361.91 L494.88,361.32 L496.44,360.78 L498,360.27 L499.55,359.81 L501.11,359.38 L502.66,358.98 L504.22,358.62 L505.77,358.29 L507.32,357.98 L508.88,357.7 L510.44,357.45 L511.99,357.21 L513.54,357 L515.1,356.81 L516.65,356.63 L518.21,356.47 L519.76,356.33 L521.32,356.2 L522.88,356.08 L524.43,355.97 L525.99,355.87 L527.54,355.79 L529.1,355.71 L530.65,355.64 L532.2,355.58 L533.76,355.52 L535.32,355.47 L536.87,355.42 L538.42,355.38 L539.98,355.35 L541.54,355.32 L543.09,355.29 L544.64,355.26 L546.2,355.24 L547.75,355.22 L549.31,355.2 L550.87,355.19 L552.42,355.17 L564.86,355.11 L577.3,355.09 L595.96,355.08 L614.62,355.08 L627.06,355.08" fill="none" stroke="#8a0c1c" stroke-width="2.6"/>
<line x1="390.7" x2="415.5" y1="530.5" y2="530.5" stroke="#1a3563" stroke-width="3" stroke-dasharray="3.3 2.4"/>
<line x1="426.7" x2="426.7" y1="530.5" y2="395.43" stroke="#7d91b0" stroke-width="2.7" stroke-dasharray="2.7 3"/>
<line x1="430.8" x2="430.8" y1="530.5" y2="487.35" stroke="#a5b3c8" stroke-width="2.7" stroke-dasharray="2.7 3"/>
<path d="M430.8,487.35 L622,487.35" fill="none" stroke="#a5b3c8" stroke-width="2.6" stroke-linejoin="round"/>
<path d="M426.15,418.88 L428.02,418.88 L429.89,418.9 L431.75,418.93 L433.62,418.99 L435.48,419.07 L437.35,419.19 L439.22,419.36 L441.08,419.57 L442.95,419.84 L444.81,420.16 L446.68,420.56 L448.55,421.02 L450.41,421.56 L452.28,422.17 L454.14,422.87 L454.64,423.07 L455.14,423.28 L455.64,423.49 L456.13,423.71 L456.63,423.94 L457.13,424.17 L457.63,424.41 L458.12,424.65 L458.62,424.91 L459.12,425.16 L459.62,425.43 L460.12,425.7 L460.61,425.98 L461.11,426.26 L461.61,426.55 L462.11,426.85 L462.6,427.15 L463.1,427.46 L463.6,427.78 L464.1,428.1 L464.59,428.43 L465.09,428.77 L465.59,429.11 L466.09,429.46 L466.58,429.82 L467.08,430.18 L467.58,430.55 L468.08,430.92 L468.57,431.3 L469.07,431.69 L469.57,432.08 L470.07,432.48 L470.56,432.88 L471.06,433.29 L471.56,433.71 L472.06,434.13 L472.56,434.56 L473.05,434.99 L473.55,435.43 L474.05,435.88 L474.55,436.32 L475.04,436.78 L475.54,437.24 L476.04,437.7 L476.54,438.17 L477.03,438.64 L477.53,439.12 L478.03,439.6 L478.53,440.09 L479.02,440.58 L479.52,441.07 L480.02,441.57 L480.52,442.07 L481.01,442.57 L481.51,443.08 L482.01,443.59 L482.51,444.1 L483,444.62 L483.5,445.14 L484,445.66 L484.5,446.18 L485,446.71 L485.49,447.24 L485.99,447.77 L486.49,448.3 L486.99,448.83 L487.48,449.36 L487.98,449.9 L488.48,450.43 L488.98,450.97 L489.47,451.51 L489.97,452.04 L490.47,452.58 L490.97,453.12 L491.46,453.65 L491.96,454.19 L492.46,454.72 L492.96,455.26 L493.45,455.79 L493.95,456.32 L494.45,456.85 L494.95,457.38 L495.44,457.91 L495.94,458.43 L496.44,458.95 L496.94,459.47 L497.44,459.99 L497.93,460.51 L498.43,461.02 L498.93,461.53 L499.43,462.04 L499.92,462.54 L500.42,463.04 L500.92,463.53 L501.42,464.03 L501.91,464.51 L502.41,465 L502.91,465.48 L503.41,465.95 L503.9,466.42 L504.4,466.89 L504.9,467.35 L505.4,467.81 L505.89,468.26 L506.39,468.71 L506.89,469.15 L507.39,469.59 L507.88,470.02 L508.38,470.44 L508.88,470.86 L509.38,471.28 L509.88,471.69 L510.37,472.09 L510.87,472.49 L511.37,472.88 L511.87,473.26 L512.36,473.64 L512.86,474.02 L513.36,474.38 L513.86,474.75 L514.35,475.1 L514.85,475.45 L515.35,475.79 L515.85,476.13 L516.34,476.46 L516.84,476.78 L517.34,477.1 L517.84,477.41 L518.33,477.72 L518.83,478.01 L519.33,478.31 L519.83,478.59 L520.32,478.87 L520.82,479.15 L521.32,479.42 L521.82,479.68 L522.32,479.93 L522.81,480.18 L523.31,480.43 L523.81,480.66 L524.31,480.9 L524.8,481.12 L525.3,481.34 L525.8,481.56 L526.3,481.77 L526.79,481.97 L527.29,482.17 L527.79,482.36 L528.29,482.55 L528.78,482.73 L529.28,482.9 L529.78,483.08 L530.28,483.24 L530.77,483.4 L531.27,483.56 L531.77,483.71 L532.27,483.86 L532.76,484 L533.26,484.14 L533.76,484.27 L534.26,484.4 L534.76,484.53 L535.25,484.65 L535.75,484.76 L536.25,484.87 L536.75,484.98 L537.24,485.09 L537.74,485.19 L538.24,485.28 L538.74,485.38 L539.23,485.47 L539.73,485.56 L540.23,485.64 L540.73,485.72 L541.22,485.8 L541.72,485.87 L542.22,485.94 L542.72,486.01 L543.21,486.07 L543.71,486.14 L544.21,486.2 L544.71,486.26 L545.2,486.31 L545.7,486.36 L546.2,486.41 L546.7,486.46 L547.2,486.51 L547.69,486.55 L548.19,486.6 L548.69,486.64 L549.19,486.67 L549.68,486.71 L550.18,486.75 L550.68,486.78 L551.18,486.81 L551.67,486.84 L552.17,486.87 L552.67,486.9 L553.17,486.92 L553.66,486.95 L554.16,486.97 L554.66,486.99 L555.16,487.01 L555.65,487.03 L556.15,487.05 L556.65,487.07 L557.15,487.09 L557.64,487.1 L558.14,487.12 L558.64,487.13 L559.14,487.15 L559.64,487.16 L560.13,487.17 L560.63,487.18 L561.13,487.2 L561.63,487.21 L562.12,487.21 L562.62,487.22 L563.12,487.23 L563.62,487.24 L564.11,487.25 L564.61,487.25 L565.11,487.26 L565.61,487.27 L566.1,487.27 L566.6,487.28 L567.1,487.28 L567.6,487.29 L568.09,487.29 L568.59,487.3 L569.09,487.3 L569.59,487.3 L570.08,487.31 L570.58,487.31 L571.08,487.31 L572.95,487.32 L574.81,487.33 L576.68,487.34 L578.54,487.34 L580.41,487.34 L582.28,487.35 L584.14,487.35 L586.01,487.35 L587.87,487.35 L589.74,487.35 L591.61,487.35 L593.47,487.35 L595.34,487.35 L597.2,487.35 L599.07,487.35 L600.94,487.35 L602.8,487.35 L604.67,487.35 L606.53,487.35 L608.4,487.35 L610.27,487.35 L612.13,487.35 L614,487.35 L615.86,487.35 L617.73,487.35 L619.6,487.35 L621.46,487.35 L623.33,487.35" fill="none" stroke="#8fa1bc" stroke-width="2.6" stroke-linejoin="round"/>
<path d="M426.15,395.43 L428.02,393.15 L429.89,390.88 L431.75,388.62 L433.62,386.39 L435.48,384.2 L437.35,382.04 L439.22,379.94 L441.08,377.89 L442.95,375.9 L444.81,373.99 L446.68,372.16 L448.55,370.42 L450.41,368.76 L452.28,367.21 L454.14,365.76 L454.64,365.39 L455.14,365.03 L455.64,364.68 L456.13,364.33 L456.63,364 L457.13,363.67 L457.63,363.35 L458.12,363.04 L458.62,362.73 L459.12,362.44 L459.62,362.15 L460.12,361.88 L460.61,361.61 L461.11,361.35 L461.61,361.1 L462.11,360.86 L462.6,360.63 L463.1,360.4 L463.6,360.19 L464.1,359.99 L464.59,359.79 L465.09,359.61 L465.59,359.43 L466.09,359.26 L466.58,359.11 L467.08,358.96 L467.58,358.82 L468.08,358.69 L468.57,358.57 L469.07,358.46 L469.57,358.36 L470.07,358.27 L470.56,358.19 L471.06,358.12 L471.56,358.06 L472.06,358.01 L472.56,357.97 L473.05,357.94 L473.55,357.92 L474.05,357.91 L474.55,357.91 L475.04,357.91 L475.54,357.93 L476.04,357.96 L476.54,358 L477.03,358.06 L477.53,358.13 L478.03,358.23 L478.53,358.34 L479.02,358.48 L479.52,358.63 L480.02,358.81 L480.52,359.01 L481.01,359.23 L481.51,359.48 L482.01,359.76 L482.51,360.06 L483,360.38 L483.5,360.73 L484,361.11 L484.5,361.52 L485,361.95 L485.49,362.41 L485.99,362.9 L486.49,363.42 L486.99,363.96 L487.48,364.54 L487.98,365.14 L488.48,365.77 L488.98,366.43 L489.47,367.11 L489.97,367.83 L490.47,368.57 L490.97,369.34 L491.46,370.14 L491.96,370.97 L492.46,371.82 L492.96,372.7 L493.45,373.61 L493.95,374.54 L494.45,375.5 L494.95,376.48 L495.44,377.49 L495.94,378.52 L496.44,379.58 L496.94,380.66 L497.44,381.76 L497.93,382.88 L498.43,384.03 L498.93,385.19 L499.43,386.38 L499.92,387.58 L500.42,388.81 L500.92,390.05 L501.42,391.3 L501.91,392.58 L502.41,393.86 L502.91,395.17 L503.41,396.48 L503.9,397.81 L504.4,399.15 L504.9,400.5 L505.4,401.86 L505.89,403.23 L506.39,404.6 L506.89,405.99 L507.39,407.38 L507.88,408.77 L508.38,410.17 L508.88,411.57 L509.38,412.98 L509.88,414.38 L510.37,415.79 L510.87,417.2 L511.37,418.6 L511.87,420 L512.36,421.4 L512.86,422.8 L513.36,424.19 L513.86,425.57 L514.35,426.95 L514.85,428.32 L515.35,429.69 L515.85,431.04 L516.34,432.38 L516.84,433.72 L517.34,435.04 L517.84,436.35 L518.33,437.65 L518.83,438.94 L519.33,440.21 L519.83,441.46 L520.32,442.71 L520.82,443.93 L521.32,445.14 L521.82,446.34 L522.32,447.52 L522.81,448.68 L523.31,449.82 L523.81,450.94 L524.31,452.05 L524.8,453.14 L525.3,454.21 L525.8,455.26 L526.3,456.28 L526.79,457.29 L527.29,458.28 L527.79,459.25 L528.29,460.2 L528.78,461.13 L529.28,462.04 L529.78,462.93 L530.28,463.8 L530.77,464.64 L531.27,465.47 L531.77,466.27 L532.27,467.06 L532.76,467.83 L533.26,468.57 L533.76,469.3 L534.26,470 L534.76,470.69 L535.25,471.35 L535.75,472 L536.25,472.63 L536.75,473.23 L537.24,473.82 L537.74,474.39 L538.24,474.95 L538.74,475.48 L539.23,476 L539.73,476.5 L540.23,476.98 L540.73,477.45 L541.22,477.9 L541.72,478.33 L542.22,478.75 L542.72,479.15 L543.21,479.54 L543.71,479.91 L544.21,480.27 L544.71,480.62 L545.2,480.95 L545.7,481.27 L546.2,481.57 L546.7,481.86 L547.2,482.14 L547.69,482.41 L548.19,482.67 L548.69,482.92 L549.19,483.15 L549.68,483.38 L550.18,483.59 L550.68,483.8 L551.18,483.99 L551.67,484.18 L552.17,484.35 L552.67,484.52 L553.17,484.68 L553.66,484.84 L554.16,484.98 L554.66,485.12 L555.16,485.25 L555.65,485.38 L556.15,485.5 L556.65,485.61 L557.15,485.71 L557.64,485.81 L558.14,485.91 L558.64,486 L559.14,486.08 L559.64,486.16 L560.13,486.24 L560.63,486.31 L561.13,486.38 L561.63,486.44 L562.12,486.5 L562.62,486.56 L563.12,486.61 L563.62,486.66 L564.11,486.71 L564.61,486.75 L565.11,486.79 L565.61,486.83 L566.1,486.87 L566.6,486.9 L567.1,486.93 L567.6,486.96 L568.09,486.99 L568.59,487.02 L569.09,487.04 L569.59,487.07 L570.08,487.09 L570.58,487.11 L571.08,487.13 L572.95,487.18 L574.81,487.23 L576.68,487.26 L578.54,487.29 L580.41,487.3 L582.28,487.32 L584.14,487.33 L586.01,487.34 L587.87,487.34 L589.74,487.34 L591.61,487.35 L593.47,487.35 L595.34,487.35 L597.2,487.35 L599.07,487.35 L600.94,487.35 L602.8,487.35 L604.67,487.35 L606.53,487.35 L608.4,487.35 L610.27,487.35 L612.13,487.35 L614,487.35 L615.86,487.35 L617.73,487.35 L619.6,487.35 L621.46,487.35 L623.33,487.35" fill="none" stroke="#7d91b0" stroke-width="2.6" stroke-linejoin="round"/>
<path d="M426.15,522.73 L428.02,521.62 L429.89,520.38 L431.75,518.98 L433.62,517.42 L435.48,515.68 L437.35,513.74 L439.22,511.59 L441.08,509.2 L442.95,506.57 L444.81,503.68 L446.68,500.5 L448.55,497.03 L450.41,493.24 L452.28,489.12 L454.14,484.67 L454.64,483.42 L455.14,482.15 L455.64,480.85 L456.13,479.53 L456.63,478.18 L457.13,476.8 L457.63,475.4 L458.12,473.98 L458.62,472.53 L459.12,471.05 L459.62,469.55 L460.12,468.02 L460.61,466.47 L461.11,464.89 L461.61,463.28 L462.11,461.65 L462.6,460 L463.1,458.32 L463.6,456.61 L464.1,454.88 L464.59,453.13 L465.09,451.36 L465.59,449.56 L466.09,447.73 L466.58,445.89 L467.08,444.02 L467.58,442.13 L468.08,440.23 L468.57,438.3 L469.07,436.35 L469.57,434.38 L470.07,432.4 L470.56,430.4 L471.06,428.38 L471.56,426.35 L472.06,424.31 L472.56,422.25 L473.05,420.18 L473.55,418.1 L474.05,416.01 L474.55,413.91 L475.04,411.81 L475.54,409.7 L476.04,407.59 L476.54,405.48 L477.03,403.37 L477.53,401.26 L478.03,399.16 L478.53,397.06 L479.02,394.98 L479.52,392.9 L480.02,390.83 L480.52,388.79 L481.01,386.76 L481.51,384.75 L482.01,382.77 L482.51,380.82 L483,378.9 L483.5,377.01 L484,375.16 L484.5,373.36 L485,371.6 L485.49,369.9 L485.99,368.25 L486.49,366.67 L486.99,365.15 L487.48,363.72 L487.98,362.37 L488.48,361.12 L488.98,359.98 L489.47,358.96 L489.97,358.09 L490.47,357.4 L490.97,356.99 L491.46,357.13 L491.96,357.62 L492.46,358.37 L492.96,359.35 L493.45,360.55 L493.95,361.96 L494.45,363.55 L494.95,365.31 L495.44,367.23 L495.94,369.3 L496.44,371.5 L496.94,373.82 L497.44,376.26 L497.93,378.79 L498.43,381.41 L498.93,384.11 L499.43,386.88 L499.92,389.69 L500.42,392.56 L500.92,395.45 L501.42,398.38 L501.91,401.31 L502.41,404.26 L502.91,407.2 L503.41,410.14 L503.9,413.05 L504.4,415.95 L504.9,418.81 L505.4,421.64 L505.89,424.42 L506.39,427.16 L506.89,429.85 L507.39,432.47 L507.88,435.04 L508.38,437.55 L508.88,439.99 L509.38,442.36 L509.88,444.66 L510.37,446.89 L510.87,449.05 L511.37,451.13 L511.87,453.13 L512.36,455.06 L512.86,456.92 L513.36,458.7 L513.86,460.4 L514.35,462.03 L514.85,463.59 L515.35,465.07 L515.85,466.49 L516.34,467.83 L516.84,469.11 L517.34,470.32 L517.84,471.47 L518.33,472.56 L518.83,473.58 L519.33,474.55 L519.83,475.47 L520.32,476.32 L520.82,477.13 L521.32,477.89 L521.82,478.6 L522.32,479.27 L522.81,479.89 L523.31,480.47 L523.81,481.01 L524.31,481.52 L524.8,481.99 L525.3,482.43 L525.8,482.83 L526.3,483.21 L526.79,483.56 L527.29,483.88 L527.79,484.18 L528.29,484.46 L528.78,484.71 L529.28,484.95 L529.78,485.16 L530.28,485.36 L530.77,485.54 L531.27,485.71 L531.77,485.86 L532.27,486 L532.76,486.13 L533.26,486.25 L533.76,486.35 L534.26,486.45 L534.76,486.54 L535.25,486.62 L535.75,486.69 L536.25,486.76 L536.75,486.82 L537.24,486.88 L537.74,486.92 L538.24,486.97 L538.74,487.01 L539.23,487.05 L539.73,487.08 L540.23,487.11 L540.73,487.13 L541.22,487.16 L541.72,487.18 L542.22,487.2 L542.72,487.22 L543.21,487.23 L543.71,487.24 L544.21,487.26 L544.71,487.27 L545.2,487.28 L545.7,487.29 L546.2,487.29 L546.7,487.3 L547.2,487.31 L547.69,487.31 L548.19,487.32 L548.69,487.32 L549.19,487.33 L549.68,487.33 L550.18,487.33 L550.68,487.33 L551.18,487.34 L551.67,487.34 L552.17,487.34 L552.67,487.34 L553.17,487.34 L553.66,487.34 L554.16,487.35 L554.66,487.35 L555.16,487.35 L555.65,487.35 L556.15,487.35 L556.65,487.35 L557.15,487.35 L557.64,487.35 L558.14,487.35 L558.64,487.35 L559.14,487.35 L559.64,487.35 L560.13,487.35 L560.63,487.35 L561.13,487.35 L561.63,487.35 L562.12,487.35 L562.62,487.35 L563.12,487.35 L563.62,487.35 L564.11,487.35 L564.61,487.35 L565.11,487.35 L565.61,487.35 L566.1,487.35 L566.6,487.35 L567.1,487.35 L567.6,487.35 L568.09,487.35 L568.59,487.35 L569.09,487.35 L569.59,487.35 L570.08,487.35 L570.58,487.35 L571.08,487.35 L572.95,487.35 L574.81,487.35 L576.68,487.35 L578.54,487.35 L580.41,487.35 L582.28,487.35 L584.14,487.35 L586.01,487.35 L587.87,487.35 L589.74,487.35 L591.61,487.35 L593.47,487.35 L595.34,487.35 L597.2,487.35 L599.07,487.35 L600.94,487.35 L602.8,487.35 L604.67,487.35 L606.53,487.35 L608.4,487.35 L610.27,487.35 L612.13,487.35 L614,487.35 L615.86,487.35 L617.73,487.35 L619.6,487.35 L621.46,487.35 L623.33,487.35" fill="none" stroke="#6a81a3" stroke-width="2.6" stroke-linejoin="round"/>
<path d="M415.58,530.5 L417.45,530.5 L419.31,530.5 L421.18,530.5 L423.04,530.5 L424.91,530.5 L426.78,530.5 L428.64,530.5 L430.51,530.5 L432.37,530.5 L434.24,530.5 L436.11,530.5 L437.97,530.5 L439.84,530.5 L441.7,530.5 L443.57,530.5 L445.44,530.49 L447.3,530.48 L449.17,530.46 L451.03,530.41 L452.9,530.33 L453.4,530.3 L453.9,530.27 L454.39,530.22 L454.89,530.17 L455.39,530.11 L455.89,530.05 L456.38,529.97 L456.88,529.88 L457.38,529.77 L457.88,529.65 L458.37,529.51 L458.87,529.36 L459.37,529.18 L459.87,528.98 L460.36,528.75 L460.86,528.49 L461.36,528.19 L461.86,527.86 L462.35,527.49 L462.85,527.08 L463.35,526.62 L463.85,526.1 L464.34,525.53 L464.84,524.89 L465.34,524.19 L465.84,523.42 L466.34,522.57 L466.83,521.64 L467.33,520.62 L467.83,519.51 L468.33,518.3 L468.82,516.98 L469.32,515.56 L469.82,514.03 L470.32,512.37 L470.81,510.59 L471.31,508.69 L471.81,506.65 L472.31,504.48 L472.8,502.17 L473.3,499.72 L473.8,497.13 L474.3,494.4 L474.79,491.53 L475.29,488.51 L475.79,485.36 L476.29,482.07 L476.78,478.65 L477.28,475.09 L477.78,471.42 L478.28,467.63 L478.78,463.73 L479.27,459.73 L479.77,455.63 L480.27,451.46 L480.77,447.22 L481.26,442.93 L481.76,438.59 L482.26,434.22 L482.76,429.84 L483.25,425.45 L483.75,421.09 L484.25,416.75 L484.75,412.46 L485.24,408.24 L485.74,404.1 L486.24,400.05 L486.74,396.11 L487.23,392.3 L487.73,388.63 L488.23,385.12 L488.73,381.78 L489.22,378.61 L489.72,375.64 L490.22,372.87 L490.72,370.31 L491.22,367.97 L491.71,365.85 L492.21,363.96 L492.71,362.31 L493.21,360.88 L493.7,359.69 L494.2,358.72 L494.7,357.98 L495.2,357.45 L495.69,357.13 L496.19,356.98 L496.69,357.04 L497.19,357.44 L497.68,358.11 L498.18,359.01 L498.68,360.12 L499.18,361.42 L499.67,362.9 L500.17,364.54 L500.67,366.33 L501.17,368.25 L501.66,370.29 L502.16,372.45 L502.66,374.71 L503.16,377.06 L503.66,379.49 L504.15,381.99 L504.65,384.55 L505.15,387.17 L505.65,389.83 L506.14,392.53 L506.64,395.25 L507.14,397.99 L507.64,400.74 L508.13,403.5 L508.63,406.25 L509.13,409 L509.63,411.73 L510.12,414.43 L510.62,417.12 L511.12,419.77 L511.62,422.38 L512.11,424.96 L512.61,427.49 L513.11,429.98 L513.61,432.41 L514.1,434.79 L514.6,437.12 L515.1,439.39 L515.6,441.6 L516.1,443.74 L516.59,445.83 L517.09,447.85 L517.59,449.81 L518.09,451.7 L518.58,453.52 L519.08,455.29 L519.58,456.98 L520.08,458.62 L520.57,460.19 L521.07,461.69 L521.57,463.14 L522.07,464.52 L522.56,465.84 L523.06,467.1 L523.56,468.31 L524.06,469.46 L524.55,470.55 L525.05,471.59 L525.55,472.58 L526.05,473.51 L526.54,474.4 L527.04,475.25 L527.54,476.04 L528.04,476.79 L528.54,477.5 L529.03,478.18 L529.53,478.81 L530.03,479.4 L530.53,479.96 L531.02,480.49 L531.52,480.98 L532.02,481.44 L532.52,481.87 L533.01,482.28 L533.51,482.66 L534.01,483.01 L534.51,483.34 L535,483.65 L535.5,483.94 L536,484.21 L536.5,484.46 L536.99,484.69 L537.49,484.9 L537.99,485.1 L538.49,485.28 L538.98,485.46 L539.48,485.61 L539.98,485.76 L540.48,485.89 L540.98,486.02 L541.47,486.13 L541.97,486.24 L542.47,486.34 L542.97,486.43 L543.46,486.51 L543.96,486.58 L544.46,486.65 L544.96,486.72 L545.45,486.77 L545.95,486.83 L546.45,486.88 L546.95,486.92 L547.44,486.96 L547.94,487 L548.44,487.03 L548.94,487.06 L549.43,487.09 L549.93,487.12 L550.43,487.14 L550.93,487.16 L551.42,487.18 L551.92,487.2 L552.42,487.21 L552.92,487.23 L553.42,487.24 L553.91,487.25 L554.41,487.26 L554.91,487.27 L555.41,487.28 L555.9,487.29 L556.4,487.29 L556.9,487.3 L557.4,487.31 L557.89,487.31 L558.39,487.31 L558.89,487.32 L559.39,487.32 L559.88,487.33 L560.38,487.33 L560.88,487.33 L561.38,487.33 L561.87,487.34 L562.37,487.34 L562.87,487.34 L563.37,487.34 L563.86,487.34 L564.36,487.34 L564.86,487.34 L565.36,487.35 L565.86,487.35 L566.35,487.35 L566.85,487.35 L567.35,487.35 L567.85,487.35 L568.34,487.35 L568.84,487.35 L569.34,487.35 L569.84,487.35 L570.33,487.35 L570.83,487.35 L571.33,487.35 L573.19,487.35 L575.06,487.35 L576.93,487.35 L578.79,487.35 L580.66,487.35 L582.52,487.35 L584.39,487.35 L586.26,487.35 L588.12,487.35 L589.99,487.35 L591.85,487.35 L593.72,487.35 L595.59,487.35 L597.45,487.35 L599.32,487.35 L601.18,487.35 L603.05,487.35 L604.92,487.35 L606.78,487.35 L608.65,487.35 L610.51,487.35 L612.38,487.35 L614.25,487.35 L616.11,487.35 L617.98,487.35 L619.84,487.35 L621.71,487.35 L623.58,487.35" fill="none" stroke="#566f95" stroke-width="2.6" stroke-linejoin="round"/>
<path d="M415.58,530.5 L417.45,530.5 L419.31,530.5 L421.18,530.5 L423.04,530.5 L424.91,530.5 L426.78,530.5 L428.64,530.5 L430.51,530.5 L432.37,530.5 L434.24,530.5 L436.11,530.5 L437.97,530.5 L439.84,530.5 L441.7,530.5 L443.57,530.5 L445.44,530.5 L447.3,530.5 L449.17,530.5 L451.03,530.5 L452.9,530.5 L453.4,530.5 L453.9,530.5 L454.39,530.5 L454.89,530.5 L455.39,530.5 L455.89,530.5 L456.38,530.5 L456.88,530.5 L457.38,530.5 L457.88,530.5 L458.37,530.5 L458.87,530.5 L459.37,530.5 L459.87,530.5 L460.36,530.5 L460.86,530.5 L461.36,530.5 L461.86,530.5 L462.35,530.5 L462.85,530.5 L463.35,530.5 L463.85,530.5 L464.34,530.5 L464.84,530.5 L465.34,530.5 L465.84,530.5 L466.34,530.5 L466.83,530.49 L467.33,530.49 L467.83,530.49 L468.33,530.48 L468.82,530.47 L469.32,530.46 L469.82,530.44 L470.32,530.41 L470.81,530.38 L471.31,530.33 L471.81,530.26 L472.31,530.17 L472.8,530.05 L473.3,529.89 L473.8,529.68 L474.3,529.42 L474.79,529.08 L475.29,528.65 L475.79,528.12 L476.29,527.47 L476.78,526.66 L477.28,525.69 L477.78,524.52 L478.28,523.14 L478.78,521.51 L479.27,519.61 L479.77,517.42 L480.27,514.91 L480.77,512.06 L481.26,508.86 L481.76,505.3 L482.26,501.37 L482.76,497.06 L483.25,492.38 L483.75,487.35 L484.25,481.98 L484.75,476.3 L485.24,470.34 L485.74,464.14 L486.24,457.73 L486.74,451.18 L487.23,444.52 L487.73,437.82 L488.23,431.13 L488.73,424.5 L489.22,418 L489.72,411.67 L490.22,405.56 L490.72,399.72 L491.22,394.19 L491.71,389.01 L492.21,384.19 L492.71,379.77 L493.21,375.77 L493.7,372.17 L494.2,369 L494.7,366.24 L495.2,363.89 L495.69,361.92 L496.19,360.31 L496.69,359.05 L497.19,358.08 L497.68,357.39 L498.18,356.93 L498.68,356.66 L499.18,356.54 L499.67,356.5 L500.17,356.64 L500.67,357.23 L501.17,358.14 L501.66,359.33 L502.16,360.75 L502.66,362.39 L503.16,364.23 L503.66,366.24 L504.15,368.4 L504.65,370.7 L505.15,373.13 L505.65,375.66 L506.14,378.29 L506.64,381.01 L507.14,383.79 L507.64,386.64 L508.13,389.53 L508.63,392.45 L509.13,395.4 L509.63,398.37 L510.12,401.34 L510.62,404.32 L511.12,407.28 L511.62,410.22 L512.11,413.14 L512.61,416.03 L513.11,418.89 L513.61,421.69 L514.1,424.46 L514.6,427.17 L515.1,429.82 L515.6,432.41 L516.1,434.94 L516.59,437.41 L517.09,439.81 L517.59,442.14 L518.09,444.39 L518.58,446.58 L519.08,448.69 L519.58,450.73 L520.08,452.69 L520.57,454.58 L521.07,456.4 L521.57,458.14 L522.07,459.81 L522.56,461.41 L523.06,462.94 L523.56,464.4 L524.06,465.79 L524.55,467.12 L525.05,468.38 L525.55,469.58 L526.05,470.72 L526.54,471.8 L527.04,472.82 L527.54,473.79 L528.04,474.7 L528.54,475.56 L529.03,476.37 L529.53,477.14 L530.03,477.86 L530.53,478.54 L531.02,479.17 L531.52,479.77 L532.02,480.33 L532.52,480.85 L533.01,481.34 L533.51,481.8 L534.01,482.22 L534.51,482.62 L535,482.99 L535.5,483.33 L536,483.65 L536.5,483.95 L536.99,484.23 L537.49,484.48 L537.99,484.72 L538.49,484.94 L538.98,485.14 L539.48,485.33 L539.98,485.5 L540.48,485.66 L540.98,485.81 L541.47,485.95 L541.97,486.07 L542.47,486.18 L542.97,486.29 L543.46,486.38 L543.96,486.47 L544.46,486.55 L544.96,486.63 L545.45,486.7 L545.95,486.76 L546.45,486.81 L546.95,486.86 L547.44,486.91 L547.94,486.95 L548.44,486.99 L548.94,487.03 L549.43,487.06 L549.93,487.09 L550.43,487.12 L550.93,487.14 L551.42,487.16 L551.92,487.18 L552.42,487.2 L552.92,487.21 L553.42,487.23 L553.91,487.24 L554.41,487.25 L554.91,487.26 L555.41,487.27 L555.9,487.28 L556.4,487.29 L556.9,487.3 L557.4,487.3 L557.89,487.31 L558.39,487.31 L558.89,487.32 L559.39,487.32 L559.88,487.32 L560.38,487.33 L560.88,487.33 L561.38,487.33 L561.87,487.33 L562.37,487.34 L562.87,487.34 L563.37,487.34 L563.86,487.34 L564.36,487.34 L564.86,487.34 L565.36,487.34 L565.86,487.35 L566.35,487.35 L566.85,487.35 L567.35,487.35 L567.85,487.35 L568.34,487.35 L568.84,487.35 L569.34,487.35 L569.84,487.35 L570.33,487.35 L570.83,487.35 L571.33,487.35 L573.19,487.35 L575.06,487.35 L576.93,487.35 L578.79,487.35 L580.66,487.35 L582.52,487.35 L584.39,487.35 L586.26,487.35 L588.12,487.35 L589.99,487.35 L591.85,487.35 L593.72,487.35 L595.59,487.35 L597.45,487.35 L599.32,487.35 L601.18,487.35 L603.05,487.35 L604.92,487.35 L606.78,487.35 L608.65,487.35 L610.51,487.35 L612.38,487.35 L614.25,487.35 L616.11,487.35 L617.98,487.35 L619.84,487.35 L621.71,487.35 L623.58,487.35" fill="none" stroke="#435f88" stroke-width="2.6" stroke-linejoin="round"/>
<path d="M415.58,530.5 L417.45,530.5 L419.31,530.5 L421.18,530.5 L423.04,530.5 L424.91,530.5 L426.78,530.5 L428.64,530.5 L430.51,530.5 L432.37,530.5 L434.24,530.5 L436.11,530.5 L437.97,530.5 L439.84,530.5 L441.7,530.5 L443.57,530.5 L445.44,530.5 L447.3,530.5 L449.17,530.5 L451.03,530.5 L452.9,530.5 L453.4,530.5 L453.9,530.5 L454.39,530.5 L454.89,530.5 L455.39,530.5 L455.89,530.5 L456.38,530.5 L456.88,530.5 L457.38,530.5 L457.88,530.5 L458.37,530.5 L458.87,530.5 L459.37,530.5 L459.87,530.5 L460.36,530.5 L460.86,530.5 L461.36,530.5 L461.86,530.5 L462.35,530.5 L462.85,530.5 L463.35,530.5 L463.85,530.5 L464.34,530.5 L464.84,530.5 L465.34,530.5 L465.84,530.5 L466.34,530.5 L466.83,530.5 L467.33,530.5 L467.83,530.5 L468.33,530.5 L468.82,530.5 L469.32,530.5 L469.82,530.5 L470.32,530.5 L470.81,530.5 L471.31,530.5 L471.81,530.49 L472.31,530.49 L472.8,530.48 L473.3,530.47 L473.8,530.45 L474.3,530.43 L474.79,530.39 L475.29,530.34 L475.79,530.26 L476.29,530.16 L476.78,530.01 L477.28,529.82 L477.78,529.55 L478.28,529.21 L478.78,528.76 L479.27,528.18 L479.77,527.44 L480.27,526.52 L480.77,525.38 L481.26,523.98 L481.76,522.3 L482.26,520.29 L482.76,517.93 L483.25,515.18 L483.75,512.01 L484.25,508.4 L484.75,504.33 L485.24,499.81 L485.74,494.83 L486.24,489.41 L486.74,483.57 L487.23,477.33 L487.73,470.75 L488.23,463.88 L488.73,456.78 L489.22,449.51 L489.72,442.14 L490.22,434.75 L490.72,427.42 L491.22,420.22 L491.71,413.22 L492.21,406.48 L492.71,400.07 L493.21,394.04 L493.7,388.43 L494.2,383.27 L494.7,378.59 L495.2,374.41 L495.69,370.73 L496.19,367.54 L496.69,364.82 L497.19,362.57 L497.68,360.74 L498.18,359.32 L498.68,358.24 L499.18,357.47 L499.67,356.97 L500.17,356.68 L500.67,356.54 L501.17,356.5 L501.66,356.59 L502.16,357.08 L502.66,357.88 L503.16,358.94 L503.66,360.22 L504.15,361.7 L504.65,363.36 L505.15,365.19 L505.65,367.16 L506.14,369.26 L506.64,371.49 L507.14,373.83 L507.64,376.25 L508.13,378.77 L508.63,381.35 L509.13,384 L509.63,386.7 L510.12,389.44 L510.62,392.21 L511.12,395.01 L511.62,397.82 L512.11,400.64 L512.61,403.46 L513.11,406.27 L513.61,409.07 L514.1,411.85 L514.6,414.61 L515.1,417.33 L515.6,420.02 L516.1,422.66 L516.59,425.27 L517.09,427.82 L517.59,430.33 L518.09,432.78 L518.58,435.17 L519.08,437.5 L519.58,439.78 L520.08,441.99 L520.57,444.13 L521.07,446.22 L521.57,448.23 L522.07,450.18 L522.56,452.06 L523.06,453.88 L523.56,455.63 L524.06,457.31 L524.55,458.93 L525.05,460.49 L525.55,461.98 L526.05,463.41 L526.54,464.77 L527.04,466.08 L527.54,467.32 L528.04,468.51 L528.54,469.64 L529.03,470.72 L529.53,471.75 L530.03,472.72 L530.53,473.64 L531.02,474.52 L531.52,475.35 L532.02,476.13 L532.52,476.87 L533.01,477.57 L533.51,478.23 L534.01,478.85 L534.51,479.44 L535,479.99 L535.5,480.5 L536,480.99 L536.5,481.45 L536.99,481.87 L537.49,482.27 L537.99,482.65 L538.49,483 L538.98,483.32 L539.48,483.63 L539.98,483.91 L540.48,484.18 L540.98,484.43 L541.47,484.65 L541.97,484.87 L542.47,485.07 L542.97,485.25 L543.46,485.42 L543.96,485.58 L544.46,485.72 L544.96,485.86 L545.45,485.98 L545.95,486.1 L546.45,486.2 L546.95,486.3 L547.44,486.39 L547.94,486.48 L548.44,486.55 L548.94,486.62 L549.43,486.69 L549.93,486.75 L550.43,486.8 L550.93,486.85 L551.42,486.9 L551.92,486.94 L552.42,486.98 L552.92,487.01 L553.42,487.04 L553.91,487.07 L554.41,487.1 L554.91,487.12 L555.41,487.14 L555.9,487.16 L556.4,487.18 L556.9,487.2 L557.4,487.21 L557.89,487.23 L558.39,487.24 L558.89,487.25 L559.39,487.26 L559.88,487.27 L560.38,487.28 L560.88,487.29 L561.38,487.29 L561.87,487.3 L562.37,487.3 L562.87,487.31 L563.37,487.31 L563.86,487.32 L564.36,487.32 L564.86,487.32 L565.36,487.33 L565.86,487.33 L566.35,487.33 L566.85,487.33 L567.35,487.34 L567.85,487.34 L568.34,487.34 L568.84,487.34 L569.34,487.34 L569.84,487.34 L570.33,487.34 L570.83,487.35 L571.33,487.35 L573.19,487.35 L575.06,487.35 L576.93,487.35 L578.79,487.35 L580.66,487.35 L582.52,487.35 L584.39,487.35 L586.26,487.35 L588.12,487.35 L589.99,487.35 L591.85,487.35 L593.72,487.35 L595.59,487.35 L597.45,487.35 L599.32,487.35 L601.18,487.35 L603.05,487.35 L604.92,487.35 L606.78,487.35 L608.65,487.35 L610.51,487.35 L612.38,487.35 L614.25,487.35 L616.11,487.35 L617.98,487.35 L619.84,487.35 L621.71,487.35 L623.58,487.35" fill="none" stroke="#33517c" stroke-width="2.6" stroke-linejoin="round"/>
<path d="M415.58,530.5 L417.45,530.5 L419.31,530.5 L421.18,530.5 L423.04,530.5 L424.91,530.5 L426.78,530.5 L428.64,530.5 L430.51,530.5 L432.37,530.5 L434.24,530.5 L436.11,530.5 L437.97,530.5 L439.84,530.5 L441.7,530.5 L443.57,530.5 L445.44,530.5 L447.3,530.5 L449.17,530.5 L451.03,530.5 L452.9,530.5 L453.4,530.5 L453.9,530.5 L454.39,530.5 L454.89,530.5 L455.39,530.5 L455.89,530.5 L456.38,530.5 L456.88,530.5 L457.38,530.5 L457.88,530.5 L458.37,530.5 L458.87,530.5 L459.37,530.5 L459.87,530.5 L460.36,530.5 L460.86,530.5 L461.36,530.5 L461.86,530.5 L462.35,530.5 L462.85,530.5 L463.35,530.5 L463.85,530.5 L464.34,530.5 L464.84,530.5 L465.34,530.5 L465.84,530.5 L466.34,530.5 L466.83,530.5 L467.33,530.5 L467.83,530.5 L468.33,530.5 L468.82,530.5 L469.32,530.5 L469.82,530.5 L470.32,530.5 L470.81,530.5 L471.31,530.5 L471.81,530.5 L472.31,530.5 L472.8,530.5 L473.3,530.5 L473.8,530.5 L474.3,530.5 L474.79,530.49 L475.29,530.49 L475.79,530.48 L476.29,530.47 L476.78,530.46 L477.28,530.43 L477.78,530.4 L478.28,530.34 L478.78,530.26 L479.27,530.14 L479.77,529.97 L480.27,529.73 L480.77,529.4 L481.26,528.96 L481.76,528.37 L482.26,527.6 L482.76,526.62 L483.25,525.38 L483.75,523.83 L484.25,521.93 L484.75,519.63 L485.24,516.89 L485.74,513.67 L486.24,509.94 L486.74,505.68 L487.23,500.88 L487.73,495.53 L488.23,489.66 L488.73,483.3 L489.22,476.48 L489.72,469.28 L490.22,461.75 L490.72,453.99 L491.22,446.07 L491.71,438.09 L492.21,430.15 L492.71,422.34 L493.21,414.75 L493.7,407.47 L494.2,400.56 L494.7,394.1 L495.2,388.12 L495.69,382.68 L496.19,377.8 L496.69,373.48 L497.19,369.73 L497.68,366.54 L498.18,363.88 L498.68,361.72 L499.18,360.01 L499.67,358.72 L500.17,357.79 L500.67,357.16 L501.17,356.78 L501.66,356.58 L502.16,356.51 L502.66,356.5 L503.16,356.77 L503.66,357.37 L504.15,358.23 L504.65,359.3 L505.15,360.58 L505.65,362.02 L506.14,363.63 L506.64,365.39 L507.14,367.28 L507.64,369.28 L508.13,371.4 L508.63,373.61 L509.13,375.91 L509.63,378.29 L510.12,380.73 L510.62,383.23 L511.12,385.79 L511.62,388.38 L512.11,391 L512.61,393.65 L513.11,396.32 L513.61,399 L514.1,401.68 L514.6,404.36 L515.1,407.03 L515.6,409.69 L516.1,412.33 L516.59,414.94 L517.09,417.53 L517.59,420.08 L518.09,422.6 L518.58,425.08 L519.08,427.51 L519.58,429.9 L520.08,432.24 L520.57,434.53 L521.07,436.76 L521.57,438.95 L522.07,441.07 L522.56,443.14 L523.06,445.15 L523.56,447.1 L524.06,448.99 L524.55,450.82 L525.05,452.59 L525.55,454.3 L526.05,455.95 L526.54,457.54 L527.04,459.08 L527.54,460.55 L528.04,461.97 L528.54,463.33 L529.03,464.63 L529.53,465.88 L530.03,467.07 L530.53,468.22 L531.02,469.31 L531.52,470.35 L532.02,471.34 L532.52,472.29 L533.01,473.19 L533.51,474.04 L534.01,474.86 L534.51,475.63 L535,476.36 L535.5,477.05 L536,477.71 L536.5,478.33 L536.99,478.92 L537.49,479.47 L537.99,479.99 L538.49,480.48 L538.98,480.95 L539.48,481.38 L539.98,481.79 L540.48,482.18 L540.98,482.54 L541.47,482.88 L541.97,483.2 L542.47,483.5 L542.97,483.78 L543.46,484.04 L543.96,484.28 L544.46,484.51 L544.96,484.72 L545.45,484.92 L545.95,485.11 L546.45,485.28 L546.95,485.44 L547.44,485.59 L547.94,485.73 L548.44,485.86 L548.94,485.97 L549.43,486.08 L549.93,486.19 L550.43,486.28 L550.93,486.37 L551.42,486.45 L551.92,486.53 L552.42,486.59 L552.92,486.66 L553.42,486.72 L553.91,486.77 L554.41,486.82 L554.91,486.87 L555.41,486.91 L555.9,486.95 L556.4,486.98 L556.9,487.02 L557.4,487.05 L557.89,487.07 L558.39,487.1 L558.89,487.12 L559.39,487.14 L559.88,487.16 L560.38,487.18 L560.88,487.2 L561.38,487.21 L561.87,487.22 L562.37,487.24 L562.87,487.25 L563.37,487.26 L563.86,487.27 L564.36,487.27 L564.86,487.28 L565.36,487.29 L565.86,487.29 L566.35,487.3 L566.85,487.31 L567.35,487.31 L567.85,487.31 L568.34,487.32 L568.84,487.32 L569.34,487.32 L569.84,487.33 L570.33,487.33 L570.83,487.33 L571.33,487.33 L573.19,487.34 L575.06,487.34 L576.93,487.35 L578.79,487.35 L580.66,487.35 L582.52,487.35 L584.39,487.35 L586.26,487.35 L588.12,487.35 L589.99,487.35 L591.85,487.35 L593.72,487.35 L595.59,487.35 L597.45,487.35 L599.32,487.35 L601.18,487.35 L603.05,487.35 L604.92,487.35 L606.78,487.35 L608.65,487.35 L610.51,487.35 L612.38,487.35 L614.25,487.35 L616.11,487.35 L617.98,487.35 L619.84,487.35 L621.71,487.35 L623.58,487.35" fill="none" stroke="#284673" stroke-width="2.6" stroke-linejoin="round"/>
<path d="M415.58,530.5 L417.45,530.5 L419.31,530.5 L421.18,530.5 L423.04,530.5 L424.91,530.5 L426.78,530.5 L428.64,530.5 L430.51,530.5 L432.37,530.5 L434.24,530.5 L436.11,530.5 L437.97,530.5 L439.84,530.5 L441.7,530.5 L443.57,530.5 L445.44,530.5 L447.3,530.5 L449.17,530.5 L451.03,530.5 L452.9,530.5 L453.4,530.5 L453.9,530.5 L454.39,530.5 L454.89,530.5 L455.39,530.5 L455.89,530.5 L456.38,530.5 L456.88,530.5 L457.38,530.5 L457.88,530.5 L458.37,530.5 L458.87,530.5 L459.37,530.5 L459.87,530.5 L460.36,530.5 L460.86,530.5 L461.36,530.5 L461.86,530.5 L462.35,530.5 L462.85,530.5 L463.35,530.5 L463.85,530.5 L464.34,530.5 L464.84,530.5 L465.34,530.5 L465.84,530.5 L466.34,530.5 L466.83,530.5 L467.33,530.5 L467.83,530.5 L468.33,530.5 L468.82,530.5 L469.32,530.5 L469.82,530.5 L470.32,530.5 L470.81,530.5 L471.31,530.5 L471.81,530.5 L472.31,530.5 L472.8,530.5 L473.3,530.5 L473.8,530.5 L474.3,530.5 L474.79,530.5 L475.29,530.5 L475.79,530.5 L476.29,530.5 L476.78,530.49 L477.28,530.49 L477.78,530.48 L478.28,530.47 L478.78,530.45 L479.27,530.43 L479.77,530.38 L480.27,530.32 L480.77,530.22 L481.26,530.08 L481.76,529.88 L482.26,529.6 L482.76,529.22 L483.25,528.71 L483.75,528.02 L484.25,527.13 L484.75,525.99 L485.24,524.55 L485.74,522.76 L486.24,520.57 L486.74,517.93 L487.23,514.81 L487.73,511.16 L488.23,506.96 L488.73,502.19 L489.22,496.85 L489.72,490.95 L490.22,484.53 L490.72,477.62 L491.22,470.29 L491.71,462.61 L492.21,454.67 L492.71,446.56 L493.21,438.39 L493.7,430.25 L494.2,422.24 L494.7,414.47 L495.2,407.02 L495.69,399.98 L496.19,393.4 L496.69,387.34 L497.19,381.85 L497.68,376.95 L498.18,372.64 L498.68,368.93 L499.18,365.79 L499.67,363.21 L500.17,361.14 L500.67,359.53 L501.17,358.34 L501.66,357.51 L502.16,356.98 L502.66,356.67 L503.16,356.54 L503.66,356.5 L504.15,356.58 L504.65,356.99 L505.15,357.67 L505.65,358.57 L506.14,359.65 L506.64,360.91 L507.14,362.33 L507.64,363.89 L508.13,365.57 L508.63,367.38 L509.13,369.3 L509.63,371.31 L510.12,373.42 L510.62,375.6 L511.12,377.86 L511.62,380.17 L512.11,382.54 L512.61,384.96 L513.11,387.42 L513.61,389.91 L514.1,392.43 L514.6,394.96 L515.1,397.51 L515.6,400.07 L516.1,402.62 L516.59,405.17 L517.09,407.72 L517.59,410.25 L518.09,412.76 L518.58,415.25 L519.08,417.71 L519.58,420.14 L520.08,422.54 L520.57,424.9 L521.07,427.23 L521.57,429.51 L522.07,431.75 L522.56,433.94 L523.06,436.09 L523.56,438.19 L524.06,440.23 L524.55,442.23 L525.05,444.17 L525.55,446.05 L526.05,447.89 L526.54,449.67 L527.04,451.39 L527.54,453.07 L528.04,454.68 L528.54,456.24 L529.03,457.75 L529.53,459.21 L530.03,460.61 L530.53,461.96 L531.02,463.25 L531.52,464.5 L532.02,465.7 L532.52,466.84 L533.01,467.94 L533.51,469 L534.01,470 L534.51,470.97 L535,471.89 L535.5,472.76 L536,473.6 L536.5,474.4 L536.99,475.16 L537.49,475.88 L537.99,476.56 L538.49,477.21 L538.98,477.83 L539.48,478.42 L539.98,478.97 L540.48,479.5 L540.98,480 L541.47,480.47 L541.97,480.91 L542.47,481.33 L542.97,481.72 L543.46,482.1 L543.96,482.45 L544.46,482.78 L544.96,483.09 L545.45,483.38 L545.95,483.65 L546.45,483.91 L546.95,484.15 L547.44,484.38 L547.94,484.59 L548.44,484.79 L548.94,484.97 L549.43,485.14 L549.93,485.31 L550.43,485.46 L550.93,485.6 L551.42,485.73 L551.92,485.85 L552.42,485.97 L552.92,486.07 L553.42,486.17 L553.91,486.26 L554.41,486.35 L554.91,486.43 L555.41,486.5 L555.9,486.57 L556.4,486.63 L556.9,486.69 L557.4,486.74 L557.89,486.79 L558.39,486.84 L558.89,486.88 L559.39,486.92 L559.88,486.96 L560.38,486.99 L560.88,487.02 L561.38,487.05 L561.87,487.07 L562.37,487.1 L562.87,487.12 L563.37,487.14 L563.86,487.16 L564.36,487.18 L564.86,487.19 L565.36,487.21 L565.86,487.22 L566.35,487.23 L566.85,487.24 L567.35,487.25 L567.85,487.26 L568.34,487.27 L568.84,487.28 L569.34,487.28 L569.84,487.29 L570.33,487.3 L570.83,487.3 L571.33,487.31 L573.19,487.32 L575.06,487.33 L576.93,487.34 L578.79,487.34 L580.66,487.35 L582.52,487.35 L584.39,487.35 L586.26,487.35 L588.12,487.35 L589.99,487.35 L591.85,487.35 L593.72,487.35 L595.59,487.35 L597.45,487.35 L599.32,487.35 L601.18,487.35 L603.05,487.35 L604.92,487.35 L606.78,487.35 L608.65,487.35 L610.51,487.35 L612.38,487.35 L614.25,487.35 L616.11,487.35 L617.98,487.35 L619.84,487.35 L621.71,487.35 L623.58,487.35" fill="none" stroke="#1f3c69" stroke-width="2.6" stroke-linejoin="round"/>
<path d="M415.58,530.5 L417.45,530.5 L419.31,530.5 L421.18,530.5 L423.04,530.5 L424.91,530.5 L426.78,530.5 L428.64,530.5 L430.51,530.5 L432.37,530.5 L434.24,530.5 L436.11,530.5 L437.97,530.5 L439.84,530.5 L441.7,530.5 L443.57,530.5 L445.44,530.5 L447.3,530.5 L449.17,530.5 L451.03,530.5 L452.9,530.5 L453.4,530.5 L453.9,530.5 L454.39,530.5 L454.89,530.5 L455.39,530.5 L455.89,530.5 L456.38,530.5 L456.88,530.5 L457.38,530.5 L457.88,530.5 L458.37,530.5 L458.87,530.5 L459.37,530.5 L459.87,530.5 L460.36,530.5 L460.86,530.5 L461.36,530.5 L461.86,530.5 L462.35,530.5 L462.85,530.5 L463.35,530.5 L463.85,530.5 L464.34,530.5 L464.84,530.5 L465.34,530.5 L465.84,530.5 L466.34,530.5 L466.83,530.5 L467.33,530.5 L467.83,530.5 L468.33,530.5 L468.82,530.5 L469.32,530.5 L469.82,530.5 L470.32,530.5 L470.81,530.5 L471.31,530.5 L471.81,530.5 L472.31,530.5 L472.8,530.5 L473.3,530.5 L473.8,530.5 L474.3,530.5 L474.79,530.5 L475.29,530.5 L475.79,530.5 L476.29,530.5 L476.78,530.5 L477.28,530.5 L477.78,530.5 L478.28,530.49 L478.78,530.49 L479.27,530.48 L479.77,530.47 L480.27,530.45 L480.77,530.42 L481.26,530.37 L481.76,530.3 L482.26,530.2 L482.76,530.04 L483.25,529.82 L483.75,529.51 L484.25,529.09 L484.75,528.52 L485.24,527.76 L485.74,526.77 L486.24,525.5 L486.74,523.9 L487.23,521.92 L487.73,519.51 L488.23,516.61 L488.73,513.18 L489.22,509.2 L489.72,504.62 L490.22,499.45 L490.72,493.7 L491.22,487.38 L491.71,480.53 L492.21,473.22 L492.71,465.51 L493.21,457.49 L493.7,449.27 L494.2,440.93 L494.7,432.61 L495.2,424.39 L495.69,416.39 L496.19,408.7 L496.69,401.41 L497.19,394.6 L497.68,388.32 L498.18,382.63 L498.68,377.54 L499.18,373.07 L499.67,369.23 L500.17,365.98 L500.67,363.31 L501.17,361.18 L501.66,359.54 L502.16,358.33 L502.66,357.49 L503.16,356.96 L503.66,356.66 L504.15,356.53 L504.65,356.5 L505.15,356.6 L505.65,357.02 L506.14,357.68 L506.64,358.53 L507.14,359.56 L507.64,360.74 L508.13,362.07 L508.63,363.54 L509.13,365.12 L509.63,366.82 L510.12,368.62 L510.62,370.51 L511.12,372.48 L511.62,374.53 L512.11,376.65 L512.61,378.83 L513.11,381.07 L513.61,383.35 L514.1,385.67 L514.6,388.03 L515.1,390.42 L515.6,392.82 L516.1,395.25 L516.59,397.68 L517.09,400.12 L517.59,402.56 L518.09,405 L518.58,407.43 L519.08,409.85 L519.58,412.25 L520.08,414.64 L520.57,417 L521.07,419.33 L521.57,421.63 L522.07,423.9 L522.56,426.14 L523.06,428.34 L523.56,430.5 L524.06,432.62 L524.55,434.7 L525.05,436.74 L525.55,438.72 L526.05,440.67 L526.54,442.56 L527.04,444.41 L527.54,446.21 L528.04,447.96 L528.54,449.66 L529.03,451.31 L529.53,452.91 L530.03,454.46 L530.53,455.96 L531.02,457.41 L531.52,458.81 L532.02,460.16 L532.52,461.47 L533.01,462.73 L533.51,463.94 L534.01,465.1 L534.51,466.22 L535,467.3 L535.5,468.33 L536,469.33 L536.5,470.27 L536.99,471.18 L537.49,472.05 L537.99,472.89 L538.49,473.68 L538.98,474.44 L539.48,475.16 L539.98,475.85 L540.48,476.51 L540.98,477.13 L541.47,477.73 L541.97,478.29 L542.47,478.83 L542.97,479.34 L543.46,479.82 L543.96,480.28 L544.46,480.72 L544.96,481.13 L545.45,481.52 L545.95,481.88 L546.45,482.23 L546.95,482.56 L547.44,482.87 L547.94,483.16 L548.44,483.43 L548.94,483.69 L549.43,483.94 L549.93,484.17 L550.43,484.38 L550.93,484.58 L551.42,484.77 L551.92,484.95 L552.42,485.12 L552.92,485.27 L553.42,485.42 L553.91,485.56 L554.41,485.69 L554.91,485.81 L555.41,485.92 L555.9,486.02 L556.4,486.12 L556.9,486.21 L557.4,486.3 L557.89,486.38 L558.39,486.45 L558.89,486.52 L559.39,486.58 L559.88,486.64 L560.38,486.7 L560.88,486.75 L561.38,486.79 L561.87,486.84 L562.37,486.88 L562.87,486.92 L563.37,486.95 L563.86,486.98 L564.36,487.01 L564.86,487.04 L565.36,487.07 L565.86,487.09 L566.35,487.11 L566.85,487.13 L567.35,487.15 L567.85,487.17 L568.34,487.18 L568.84,487.2 L569.34,487.21 L569.84,487.22 L570.33,487.23 L570.83,487.24 L571.33,487.25 L573.19,487.28 L575.06,487.3 L576.93,487.32 L578.79,487.33 L580.66,487.34 L582.52,487.34 L584.39,487.34 L586.26,487.35 L588.12,487.35 L589.99,487.35 L591.85,487.35 L593.72,487.35 L595.59,487.35 L597.45,487.35 L599.32,487.35 L601.18,487.35 L603.05,487.35 L604.92,487.35 L606.78,487.35 L608.65,487.35 L610.51,487.35 L612.38,487.35 L614.25,487.35 L616.11,487.35 L617.98,487.35 L619.84,487.35 L621.71,487.35 L623.58,487.35" fill="none" stroke="#1a3563" stroke-width="2.6" stroke-linejoin="round"/>
</g>
<path d="M390.7,342.1 H622.7" stroke="#1a1a1a" stroke-width="2.3" fill="none"/>
<path d="M390.7,541 H622.7" stroke="#1a1a1a" stroke-width="2.3" fill="none"/>
<path d="M390.7,341 V542.1" stroke="#8a0c1c" stroke-width="2.3" fill="none"/>
<path d="M622.7,341 V542.1" stroke="#173765" stroke-width="2.3" fill="none"/>
<line x1="390.7" x2="394.4" y1="530.5" y2="530.5" stroke="#8a0c1c" stroke-width="2"/>
<text x="387.5" y="535.2" class="r" font-size="13" text-anchor="end" fill="#8a0c1c">30</text>
<line x1="390.7" x2="394.4" y1="494.7" y2="494.7" stroke="#8a0c1c" stroke-width="2"/>
<text x="387.5" y="499.4" class="r" font-size="13" text-anchor="end" fill="#8a0c1c">40</text>
<line x1="390.7" x2="394.4" y1="458.9" y2="458.9" stroke="#8a0c1c" stroke-width="2"/>
<text x="387.5" y="463.6" class="r" font-size="13" text-anchor="end" fill="#8a0c1c">50</text>
<line x1="390.7" x2="394.4" y1="423.1" y2="423.1" stroke="#8a0c1c" stroke-width="2"/>
<text x="387.5" y="427.8" class="r" font-size="13" text-anchor="end" fill="#8a0c1c">60</text>
<line x1="390.7" x2="394.4" y1="387.3" y2="387.3" stroke="#8a0c1c" stroke-width="2"/>
<text x="387.5" y="392" class="r" font-size="13" text-anchor="end" fill="#8a0c1c">70</text>
<line x1="390.7" x2="394.4" y1="351.5" y2="351.5" stroke="#8a0c1c" stroke-width="2"/>
<text x="387.5" y="356.2" class="r" font-size="13" text-anchor="end" fill="#8a0c1c">80</text>
<line x1="619" x2="622.7" y1="530.5" y2="530.5" stroke="#173765" stroke-width="2"/>
<text x="626.3" y="534.1" class="r" font-size="13" fill="#173765">0</text>
<line x1="619" x2="622.7" y1="483.6" y2="483.6" stroke="#173765" stroke-width="2"/>
<text x="626.3" y="487.2" class="r" font-size="13" fill="#173765">10</text>
<line x1="619" x2="622.7" y1="436.7" y2="436.7" stroke="#173765" stroke-width="2"/>
<text x="626.3" y="440.3" class="r" font-size="13" fill="#173765">20</text>
<line x1="619" x2="622.7" y1="389.8" y2="389.8" stroke="#173765" stroke-width="2"/>
<text x="626.3" y="393.4" class="r" font-size="13" fill="#173765">30</text>
<line x1="619" x2="622.7" y1="342.9" y2="342.9" stroke="#173765" stroke-width="2"/>
<text x="626.3" y="346.5" class="r" font-size="13" fill="#173765">40</text>
<line x1="409.42" x2="409.42" y1="541" y2="539" stroke="#1a1a1a" stroke-width="1.6"/>
<line x1="409.42" x2="409.42" y1="342.1" y2="344.1" stroke="#1a1a1a" stroke-width="1.6"/>
<line x1="420.38" x2="420.38" y1="541" y2="539" stroke="#1a1a1a" stroke-width="1.6"/>
<line x1="420.38" x2="420.38" y1="342.1" y2="344.1" stroke="#1a1a1a" stroke-width="1.6"/>
<line x1="428.15" x2="428.15" y1="541" y2="539" stroke="#1a1a1a" stroke-width="1.6"/>
<line x1="428.15" x2="428.15" y1="342.1" y2="344.1" stroke="#1a1a1a" stroke-width="1.6"/>
<line x1="434.18" x2="434.18" y1="541" y2="539" stroke="#1a1a1a" stroke-width="1.6"/>
<line x1="434.18" x2="434.18" y1="342.1" y2="344.1" stroke="#1a1a1a" stroke-width="1.6"/>
<line x1="439.1" x2="439.1" y1="541" y2="539" stroke="#1a1a1a" stroke-width="1.6"/>
<line x1="439.1" x2="439.1" y1="342.1" y2="344.1" stroke="#1a1a1a" stroke-width="1.6"/>
<line x1="443.27" x2="443.27" y1="541" y2="539" stroke="#1a1a1a" stroke-width="1.6"/>
<line x1="443.27" x2="443.27" y1="342.1" y2="344.1" stroke="#1a1a1a" stroke-width="1.6"/>
<line x1="446.87" x2="446.87" y1="541" y2="539" stroke="#1a1a1a" stroke-width="1.6"/>
<line x1="446.87" x2="446.87" y1="342.1" y2="344.1" stroke="#1a1a1a" stroke-width="1.6"/>
<line x1="450.05" x2="450.05" y1="541" y2="539" stroke="#1a1a1a" stroke-width="1.6"/>
<line x1="450.05" x2="450.05" y1="342.1" y2="344.1" stroke="#1a1a1a" stroke-width="1.6"/>
<line x1="452.9" x2="452.9" y1="541" y2="537.5" stroke="#1a1a1a" stroke-width="1.6"/>
<line x1="452.9" x2="452.9" y1="342.1" y2="345.6" stroke="#1a1a1a" stroke-width="1.6"/>
<line x1="471.62" x2="471.62" y1="541" y2="539" stroke="#1a1a1a" stroke-width="1.6"/>
<line x1="471.62" x2="471.62" y1="342.1" y2="344.1" stroke="#1a1a1a" stroke-width="1.6"/>
<line x1="482.58" x2="482.58" y1="541" y2="539" stroke="#1a1a1a" stroke-width="1.6"/>
<line x1="482.58" x2="482.58" y1="342.1" y2="344.1" stroke="#1a1a1a" stroke-width="1.6"/>
<line x1="490.35" x2="490.35" y1="541" y2="539" stroke="#1a1a1a" stroke-width="1.6"/>
<line x1="490.35" x2="490.35" y1="342.1" y2="344.1" stroke="#1a1a1a" stroke-width="1.6"/>
<line x1="496.38" x2="496.38" y1="541" y2="539" stroke="#1a1a1a" stroke-width="1.6"/>
<line x1="496.38" x2="496.38" y1="342.1" y2="344.1" stroke="#1a1a1a" stroke-width="1.6"/>
<line x1="501.3" x2="501.3" y1="541" y2="539" stroke="#1a1a1a" stroke-width="1.6"/>
<line x1="501.3" x2="501.3" y1="342.1" y2="344.1" stroke="#1a1a1a" stroke-width="1.6"/>
<line x1="505.47" x2="505.47" y1="541" y2="539" stroke="#1a1a1a" stroke-width="1.6"/>
<line x1="505.47" x2="505.47" y1="342.1" y2="344.1" stroke="#1a1a1a" stroke-width="1.6"/>
<line x1="509.07" x2="509.07" y1="541" y2="539" stroke="#1a1a1a" stroke-width="1.6"/>
<line x1="509.07" x2="509.07" y1="342.1" y2="344.1" stroke="#1a1a1a" stroke-width="1.6"/>
<line x1="512.25" x2="512.25" y1="541" y2="539" stroke="#1a1a1a" stroke-width="1.6"/>
<line x1="512.25" x2="512.25" y1="342.1" y2="344.1" stroke="#1a1a1a" stroke-width="1.6"/>
<line x1="515.1" x2="515.1" y1="541" y2="537.5" stroke="#1a1a1a" stroke-width="1.6"/>
<line x1="515.1" x2="515.1" y1="342.1" y2="345.6" stroke="#1a1a1a" stroke-width="1.6"/>
<line x1="533.82" x2="533.82" y1="541" y2="539" stroke="#1a1a1a" stroke-width="1.6"/>
<line x1="533.82" x2="533.82" y1="342.1" y2="344.1" stroke="#1a1a1a" stroke-width="1.6"/>
<line x1="544.78" x2="544.78" y1="541" y2="539" stroke="#1a1a1a" stroke-width="1.6"/>
<line x1="544.78" x2="544.78" y1="342.1" y2="344.1" stroke="#1a1a1a" stroke-width="1.6"/>
<line x1="552.55" x2="552.55" y1="541" y2="539" stroke="#1a1a1a" stroke-width="1.6"/>
<line x1="552.55" x2="552.55" y1="342.1" y2="344.1" stroke="#1a1a1a" stroke-width="1.6"/>
<line x1="558.58" x2="558.58" y1="541" y2="539" stroke="#1a1a1a" stroke-width="1.6"/>
<line x1="558.58" x2="558.58" y1="342.1" y2="344.1" stroke="#1a1a1a" stroke-width="1.6"/>
<line x1="563.5" x2="563.5" y1="541" y2="539" stroke="#1a1a1a" stroke-width="1.6"/>
<line x1="563.5" x2="563.5" y1="342.1" y2="344.1" stroke="#1a1a1a" stroke-width="1.6"/>
<line x1="567.67" x2="567.67" y1="541" y2="539" stroke="#1a1a1a" stroke-width="1.6"/>
<line x1="567.67" x2="567.67" y1="342.1" y2="344.1" stroke="#1a1a1a" stroke-width="1.6"/>
<line x1="571.27" x2="571.27" y1="541" y2="539" stroke="#1a1a1a" stroke-width="1.6"/>
<line x1="571.27" x2="571.27" y1="342.1" y2="344.1" stroke="#1a1a1a" stroke-width="1.6"/>
<line x1="574.45" x2="574.45" y1="541" y2="539" stroke="#1a1a1a" stroke-width="1.6"/>
<line x1="574.45" x2="574.45" y1="342.1" y2="344.1" stroke="#1a1a1a" stroke-width="1.6"/>
<line x1="577.3" x2="577.3" y1="541" y2="537.5" stroke="#1a1a1a" stroke-width="1.6"/>
<line x1="577.3" x2="577.3" y1="342.1" y2="345.6" stroke="#1a1a1a" stroke-width="1.6"/>
<line x1="596.02" x2="596.02" y1="541" y2="539" stroke="#1a1a1a" stroke-width="1.6"/>
<line x1="596.02" x2="596.02" y1="342.1" y2="344.1" stroke="#1a1a1a" stroke-width="1.6"/>
<line x1="606.98" x2="606.98" y1="541" y2="539" stroke="#1a1a1a" stroke-width="1.6"/>
<line x1="606.98" x2="606.98" y1="342.1" y2="344.1" stroke="#1a1a1a" stroke-width="1.6"/>
<line x1="614.75" x2="614.75" y1="541" y2="539" stroke="#1a1a1a" stroke-width="1.6"/>
<line x1="614.75" x2="614.75" y1="342.1" y2="344.1" stroke="#1a1a1a" stroke-width="1.6"/>
<line x1="620.78" x2="620.78" y1="541" y2="539" stroke="#1a1a1a" stroke-width="1.6"/>
<line x1="620.78" x2="620.78" y1="342.1" y2="344.1" stroke="#1a1a1a" stroke-width="1.6"/>
<text x="390.7" y="557.5" class="r" font-size="12" text-anchor="middle" fill="#222">1 Å</text>
<text x="452.9" y="557.5" class="r" font-size="12" text-anchor="middle" fill="#222">1 nm</text>
<text x="515.1" y="557.5" class="r" font-size="12" text-anchor="middle" fill="#222">10 nm</text>
<text x="577.3" y="557.5" class="r" font-size="12" text-anchor="middle" fill="#222">100 nm</text>
<text x="426.8" y="578.5" class="r" font-size="16" fill="#222">Distance from Electrode</text>
<text transform="translate(364.5,527.8) rotate(-90)" class="r" font-size="16" fill="#8a0c1c">Relative Permittivity(a.u.)</text>
<text transform="translate(666,536.6) rotate(-90)" class="r" font-size="16" fill="#173765">Ionic Conductivity (uS cm)</text>
<line x1="559.7" x2="569.8" y1="366.5" y2="366.5" stroke="#8a0c1c" stroke-width="3"/>
<line x1="573.2" x2="583.3" y1="366.5" y2="366.5" stroke="#1a3563" stroke-width="3"/>
<text x="584.3" y="367.9" font-family="Liberation Serif" font-style="italic" font-size="8.5" fill="#111">ϕ</text>
<text x="588.6" y="370.3" class="r" font-size="5.6" fill="#111">0</text>
<text x="594.1" y="367.8" class="b" font-size="7.2" fill="#111" textLength="23.4" lengthAdjust="spacingAndGlyphs">= -0.81</text>
<line x1="559.7" x2="569.8" y1="378.3" y2="378.3" stroke="#920f22" stroke-width="3"/>
<line x1="573.2" x2="583.3" y1="378.3" y2="378.3" stroke="#1f3c69" stroke-width="3"/>
<text x="584.3" y="379.7" font-family="Liberation Serif" font-style="italic" font-size="8.5" fill="#111">ϕ</text>
<text x="588.6" y="382.1" class="r" font-size="5.6" fill="#111">0</text>
<text x="594.1" y="379.6" class="b" font-size="7.2" fill="#111" textLength="23.4" lengthAdjust="spacingAndGlyphs">= -0.48</text>
<line x1="559.7" x2="569.8" y1="390.1" y2="390.1" stroke="#981a2a" stroke-width="3"/>
<line x1="573.2" x2="583.3" y1="390.1" y2="390.1" stroke="#284673" stroke-width="3"/>
<text x="584.3" y="391.5" font-family="Liberation Serif" font-style="italic" font-size="8.5" fill="#111">ϕ</text>
<text x="588.6" y="393.9" class="r" font-size="5.6" fill="#111">0</text>
<text x="594.1" y="391.4" class="b" font-size="7.2" fill="#111" textLength="23.4" lengthAdjust="spacingAndGlyphs">= -0.29</text>
<line x1="559.7" x2="569.8" y1="401.9" y2="401.9" stroke="#9e2635" stroke-width="3"/>
<line x1="573.2" x2="583.3" y1="401.9" y2="401.9" stroke="#33517c" stroke-width="3"/>
<text x="584.3" y="403.3" font-family="Liberation Serif" font-style="italic" font-size="8.5" fill="#111">ϕ</text>
<text x="588.6" y="405.7" class="r" font-size="5.6" fill="#111">0</text>
<text x="594.1" y="403.2" class="b" font-size="7.2" fill="#111" textLength="23.4" lengthAdjust="spacingAndGlyphs">= -0.24</text>
<line x1="559.7" x2="569.8" y1="413.7" y2="413.7" stroke="#a63240" stroke-width="3"/>
<line x1="573.2" x2="583.3" y1="413.7" y2="413.7" stroke="#435f88" stroke-width="3"/>
<text x="584.3" y="415.1" font-family="Liberation Serif" font-style="italic" font-size="8.5" fill="#111">ϕ</text>
<text x="588.6" y="417.5" class="r" font-size="5.6" fill="#111">0</text>
<text x="594.1" y="415" class="b" font-size="7.2" fill="#111" textLength="23.4" lengthAdjust="spacingAndGlyphs">= -0.19</text>
<line x1="559.7" x2="569.8" y1="425.5" y2="425.5" stroke="#b0434f" stroke-width="3"/>
<line x1="573.2" x2="583.3" y1="425.5" y2="425.5" stroke="#566f95" stroke-width="3"/>
<text x="584.3" y="426.9" font-family="Liberation Serif" font-style="italic" font-size="8.5" fill="#111">ϕ</text>
<text x="588.6" y="429.3" class="r" font-size="5.6" fill="#111">0</text>
<text x="594.1" y="426.8" class="b" font-size="7.2" fill="#111" textLength="23.4" lengthAdjust="spacingAndGlyphs">= -0.15</text>
<line x1="559.7" x2="569.8" y1="437.3" y2="437.3" stroke="#b95662" stroke-width="3"/>
<line x1="573.2" x2="583.3" y1="437.3" y2="437.3" stroke="#6a81a3" stroke-width="3"/>
<text x="584.3" y="438.7" font-family="Liberation Serif" font-style="italic" font-size="8.5" fill="#111">ϕ</text>
<text x="588.6" y="441.1" class="r" font-size="5.6" fill="#111">0</text>
<text x="594.1" y="438.6" class="b" font-size="7.2" fill="#111" textLength="23.4" lengthAdjust="spacingAndGlyphs">= -0.11</text>
<line x1="559.7" x2="569.8" y1="449.1" y2="449.1" stroke="#c46c77" stroke-width="3"/>
<line x1="573.2" x2="583.3" y1="449.1" y2="449.1" stroke="#7d91b0" stroke-width="3"/>
<text x="584.3" y="450.5" font-family="Liberation Serif" font-style="italic" font-size="8.5" fill="#111">ϕ</text>
<text x="588.6" y="452.9" class="r" font-size="5.6" fill="#111">0</text>
<text x="594.1" y="450.4" class="b" font-size="7.2" fill="#111" textLength="23.4" lengthAdjust="spacingAndGlyphs">= -0.08</text>
<line x1="559.7" x2="569.8" y1="460.9" y2="460.9" stroke="#cf878f" stroke-width="3"/>
<line x1="573.2" x2="583.3" y1="460.9" y2="460.9" stroke="#8fa1bc" stroke-width="3"/>
<text x="584.3" y="462.3" font-family="Liberation Serif" font-style="italic" font-size="8.5" fill="#111">ϕ</text>
<text x="588.6" y="464.7" class="r" font-size="5.6" fill="#111">0</text>
<text x="594.1" y="462.2" class="b" font-size="7.2" fill="#111" textLength="23.4" lengthAdjust="spacingAndGlyphs">= -0.03</text>
<line x1="559.7" x2="569.8" y1="472.7" y2="472.7" stroke="#dca8ad" stroke-width="3"/>
<line x1="573.2" x2="583.3" y1="472.7" y2="472.7" stroke="#a5b3c8" stroke-width="3"/>
<text x="584.3" y="474.1" font-family="Liberation Serif" font-style="italic" font-size="8.5" fill="#111">ϕ</text>
<text x="588.6" y="476.5" class="r" font-size="5.6" fill="#111">0</text>
<text x="594.1" y="474" class="b" font-size="7.2" fill="#111" textLength="20.9" lengthAdjust="spacingAndGlyphs">= 0.00</text>
</svg>
</body></html>
